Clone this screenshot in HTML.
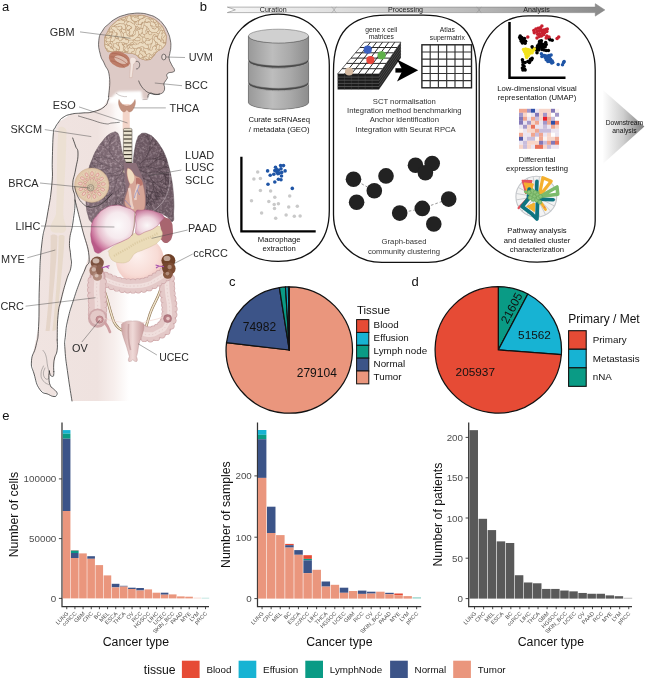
<!DOCTYPE html>
<html><head><meta charset="utf-8"><title>Figure 1</title>
<style>html,body{margin:0;padding:0;background:#fff}svg{display:block}text{font-family:"Liberation Sans", Arial, sans-serif}</style>
</head><body>
<svg width="645" height="685" viewBox="0 0 645 685">
<rect width="645" height="685" fill="#fff"/>
<defs>
<linearGradient id="gBanner" x1="0" x2="1" y1="0" y2="0"><stop offset="0" stop-color="#f6f6f6"/><stop offset="0.3" stop-color="#dedede"/><stop offset="0.62" stop-color="#bdbdbd"/><stop offset="1" stop-color="#8a8a8a"/></linearGradient>
<linearGradient id="gTri" x1="0" x2="1" y1="0" y2="0"><stop offset="0" stop-color="#ffffff"/><stop offset="0.5" stop-color="#cfcfcf"/><stop offset="1" stop-color="#7d7d7d"/></linearGradient>
<linearGradient id="gCyl" x1="0" x2="1" y1="0" y2="0"><stop offset="0" stop-color="#999999"/><stop offset="0.4" stop-color="#bdbdbd"/><stop offset="0.7" stop-color="#a9a9a9"/><stop offset="1" stop-color="#8d8d8d"/></linearGradient>
<linearGradient id="gTorso" gradientUnits="userSpaceOnUse" x1="30" x2="129" y1="0" y2="0"><stop offset="0" stop-color="#f0e4e1"/><stop offset="0.68" stop-color="#efe2df"/><stop offset="0.85" stop-color="#f7efed"/><stop offset="1" stop-color="#ffffff"/></linearGradient>
<linearGradient id="gNeck" x1="0" x2="0" y1="0" y2="1"><stop offset="0" stop-color="#dccac6"/><stop offset="0.5" stop-color="#ffffff"/><stop offset="1" stop-color="#f7ecea"/></linearGradient>
<radialGradient id="gLiver" cx="0.6" cy="0.42" r="0.64"><stop offset="0" stop-color="#fcfafb"/><stop offset="0.42" stop-color="#f6eaee"/><stop offset="0.7" stop-color="#e6bccc"/><stop offset="0.92" stop-color="#cb759d"/><stop offset="1" stop-color="#b95a88"/></radialGradient>
<radialGradient id="gLiver2" cx="0.42" cy="0.62" r="0.72"><stop offset="0" stop-color="#fbf7f8"/><stop offset="0.45" stop-color="#efd6df"/><stop offset="0.8" stop-color="#cf8aa8"/><stop offset="1" stop-color="#ad5a7e"/></radialGradient>
<radialGradient id="gBall" cx="0.45" cy="0.4" r="0.6"><stop offset="0" stop-color="#fdf1ee"/><stop offset="0.7" stop-color="#f8dcd6"/><stop offset="1" stop-color="#f0c4bd"/></radialGradient>
<radialGradient id="gBreast" cx="0.5" cy="0.5" r="0.5"><stop offset="0" stop-color="#d9c3a6"/><stop offset="0.8" stop-color="#e6d0b4"/><stop offset="1" stop-color="#dcc0a2"/></radialGradient>
<radialGradient id="gKid" cx="0.4" cy="0.3" r="0.7"><stop offset="0" stop-color="#d9bfb4"/><stop offset="0.35" stop-color="#8e5d49"/><stop offset="1" stop-color="#6f3f27"/></radialGradient>
<linearGradient id="gColon" x1="0" x2="1" y1="0" y2="0"><stop offset="0" stop-color="#d3b0b0"/><stop offset="0.5" stop-color="#efdedc"/><stop offset="1" stop-color="#d6b5b5"/></linearGradient>
<linearGradient id="gColonH" x1="0" x2="0" y1="0" y2="1"><stop offset="0" stop-color="#d8b8b8"/><stop offset="0.5" stop-color="#f1e2e0"/><stop offset="1" stop-color="#d3b0b0"/></linearGradient>
<linearGradient id="gUt" x1="0" x2="1" y1="0" y2="0"><stop offset="0" stop-color="#cfa6a6"/><stop offset="0.5" stop-color="#efd9d7"/><stop offset="1" stop-color="#c79a9b"/></linearGradient>
</defs>
<text x="2.0" y="11.2" font-size="13" fill="#111" text-anchor="start" >a</text>
<path d="M108.6 80L108.4 98.6L103 107L92.9 111.8L71 114.2L58.8 121.9L53.3 134L51.8 185L47 217L41.7 245L39.4 285L38.6 326.5L31.5 360.7L34.1 374L39.7 389.3L48.4 394.4L54 396.5L56.8 392.4L50.4 385.7L49 378L50.4 375.6L53.6 375.6L53.7 365L57.1 350.4L57.2 340L58 315.7L66.5 280L71 266.8L69.6 240.5L75 200L89 256L80.5 280L68 318.8L65 349.8L72 401L130 401L130 98L126 92Z" fill="url(#gTorso)"/>
<rect x="30" y="90" width="125" height="312" fill="url(#gTorso)" opacity="0"/>
<filter id="fBl2" x="-30%" y="-30%" width="160%" height="160%"><feGaussianBlur stdDeviation="2.2"/></filter>
<path d="M113 98L131 96L131 130L122 129L114 120Z" fill="#fff" opacity="0.6" filter="url(#fBl2)"/>
<path d="M58.6 128C56.4 150 57.6 190 56 214C54 220 50.6 224 50.2 228.6C50.6 232 54 233.4 58 232.6C61.6 233.6 65.4 233 66.2 229C66 224 63.4 220 63.2 214C64 190 66.6 150 66.4 130C64 126 60.6 126 58.6 128Z" fill="#ebdfd0" opacity="0.85"/>
<path d="M50.6 235.6C52 234 56 234 57.4 236C57.4 250 55 275 52.6 300C51.6 312 50.6 322 49.6 331L45.6 331C46.6 322 47.6 310 48.6 300C50 275 51 250 50.6 235.6Z" fill="#e3d3c6" opacity="0.9"/>
<path d="M58.6 236C60 234.4 63.6 234.6 64.6 236.4C64 250 61.6 275 59 300C58 312 57 322 56.2 330L52.4 331C53.4 322 54.4 312 55.4 300C57.6 275 58.6 250 58.6 236Z" fill="#e6d7c8" opacity="0.9"/>
<path d="M108.6 97.0C108.8 91.6 110.5 85.4 109.4 76.6C108.3 67.8 106.9 69.9 104.5 64.0C102.1 58.1 101.8 60.7 100.3 54.4C98.8 48.1 98.1 46.8 98.8 40.3C99.5 33.8 100.4 34.3 103.0 30.0C105.6 25.7 104.9 27.3 108.4 24.2C111.9 21.1 111.7 20.9 116.0 18.5C120.3 16.1 120.2 16.4 124.5 15.1C128.8 13.8 127.7 14.1 132.0 13.6C136.3 13.1 136.1 12.9 140.6 13.2C145.1 13.5 144.7 13.5 149.0 14.8C153.3 16.1 153.1 15.7 156.8 18.2C160.5 20.7 160.0 20.2 163.0 24.0C166.0 27.8 166.0 28.0 167.9 32.3C169.8 36.6 169.5 36.0 170.3 40.0C171.1 44.0 170.9 43.8 170.8 47.4C170.7 51.0 170.2 50.6 169.8 53.6C169.4 56.6 168.7 55.6 169.2 58.6C169.7 61.6 170.3 61.8 171.7 64.8C173.1 67.8 174.1 67.9 174.4 69.8C174.7 71.7 174.5 71.2 173.0 72.0C171.5 72.8 170.3 72.0 168.6 72.9C166.9 73.8 167.0 74.1 166.7 75.4C166.4 76.7 167.7 76.3 167.4 77.8C167.1 79.3 166.4 79.2 165.5 80.9C164.6 82.6 164.1 82.2 163.9 84.0C163.7 85.8 164.7 85.8 164.6 87.8C164.5 89.8 164.7 89.9 163.6 91.5C162.5 93.1 162.8 93.1 160.5 93.8C158.2 94.5 157.9 94.4 155.0 94.2C152.1 94.0 151.7 92.3 149.7 93.2C147.7 94.1 148.4 95.7 147.6 97.5C146.8 99.3 146.9 99.3 146.6 100.0Z" fill="#ddcac6"/>
<filter id="fBl" x="-20%" y="-20%" width="140%" height="140%"><feGaussianBlur stdDeviation="0.9"/></filter>
<path d="M108.2 103L109.6 100C112.6 96 115.6 92.4 119 91.4L141.4 91L142.8 99.8L148.5 99.6L148 104Z" fill="#fff" filter="url(#fBl)"/>
<path d="M108.6 97.0C108.8 91.6 110.5 85.4 109.4 76.6C108.3 67.8 106.9 69.9 104.5 64.0C102.1 58.1 101.8 60.7 100.3 54.4C98.8 48.1 98.1 46.8 98.8 40.3C99.5 33.8 100.4 34.3 103.0 30.0C105.6 25.7 104.9 27.3 108.4 24.2C111.9 21.1 111.7 20.9 116.0 18.5C120.3 16.1 120.2 16.4 124.5 15.1C128.8 13.8 127.7 14.1 132.0 13.6C136.3 13.1 136.1 12.9 140.6 13.2C145.1 13.5 144.7 13.5 149.0 14.8C153.3 16.1 153.1 15.7 156.8 18.2C160.5 20.7 160.0 20.2 163.0 24.0C166.0 27.8 166.0 28.0 167.9 32.3C169.8 36.6 169.5 36.0 170.3 40.0C171.1 44.0 170.9 43.8 170.8 47.4C170.7 51.0 170.2 50.6 169.8 53.6C169.4 56.6 168.7 55.6 169.2 58.6C169.7 61.6 170.3 61.8 171.7 64.8C173.1 67.8 174.1 67.9 174.4 69.8C174.7 71.7 174.5 71.2 173.0 72.0C171.5 72.8 170.3 72.0 168.6 72.9C166.9 73.8 167.0 74.1 166.7 75.4C166.4 76.7 167.7 76.3 167.4 77.8C167.1 79.3 166.4 79.2 165.5 80.9C164.6 82.6 164.1 82.2 163.9 84.0C163.7 85.8 164.7 85.8 164.6 87.8C164.5 89.8 164.7 89.9 163.6 91.5C162.5 93.1 162.8 93.1 160.5 93.8C158.2 94.5 157.9 94.4 155.0 94.2C152.1 94.0 151.7 92.3 149.7 93.2C147.7 94.1 148.2 96.4 147.6 97.5" fill="none" stroke="#1e1e1e" stroke-width="0.6"/>
<path d="M138.6 80.6C140.5 86.5 145 91.5 149.7 93.2C154 94.8 157 95 160 94" fill="none" stroke="#1e1e1e" stroke-width="0.6"/>
<path d="M116 93C119 96 124 97 127 96.6" fill="none" stroke="#8b7b78" stroke-width="0.4"/>
<path d="M149.7 93.4L147.4 99.4L142.5 99.6" fill="none" stroke="#8b7b78" stroke-width="0.4"/>
<clipPath id="cBrain"><path d="M106.8 50.0C105.0 46.9 104.6 46.7 104.8 41.3C104.9 36.0 104.5 37.7 107.4 32.3C110.3 26.8 109.3 27.7 114.4 23.2C119.6 18.7 117.9 19.7 124.5 17.3C131.2 15.0 129.4 15.3 136.6 15.3C143.9 15.3 142.1 15.0 148.7 17.3C155.4 19.7 154.0 18.7 158.8 23.2C163.6 27.7 162.7 27.1 164.8 32.3C167.0 37.4 166.5 35.8 166.0 40.3C165.6 44.9 165.9 44.1 163.2 47.4C160.6 50.7 160.2 48.7 157.2 51.4C154.2 54.1 155.7 54.0 153.1 56.5C150.6 58.9 152.5 59.1 148.7 59.7C145.0 60.3 144.8 60.0 140.6 58.5C136.5 56.9 139.2 56.1 135.0 54.4C130.8 52.7 131.5 53.7 126.5 52.8C121.6 52.0 123.2 52.0 118.5 51.6C113.8 51.3 114.3 52.1 110.8 51.6C107.3 51.1 108.6 53.1 106.8 50.0Z"/></clipPath>
<path d="M106.8 50.0C105.0 46.9 104.6 46.7 104.8 41.3C104.9 36.0 104.5 37.7 107.4 32.3C110.3 26.8 109.3 27.7 114.4 23.2C119.6 18.7 117.9 19.7 124.5 17.3C131.2 15.0 129.4 15.3 136.6 15.3C143.9 15.3 142.1 15.0 148.7 17.3C155.4 19.7 154.0 18.7 158.8 23.2C163.6 27.7 162.7 27.1 164.8 32.3C167.0 37.4 166.5 35.8 166.0 40.3C165.6 44.9 165.9 44.1 163.2 47.4C160.6 50.7 160.2 48.7 157.2 51.4C154.2 54.1 155.7 54.0 153.1 56.5C150.6 58.9 152.5 59.1 148.7 59.7C145.0 60.3 144.8 60.0 140.6 58.5C136.5 56.9 139.2 56.1 135.0 54.4C130.8 52.7 131.5 53.7 126.5 52.8C121.6 52.0 123.2 52.0 118.5 51.6C113.8 51.3 114.3 52.1 110.8 51.6C107.3 51.1 108.6 53.1 106.8 50.0Z" fill="#e6cfb0" stroke="#b48f6d" stroke-width="0.5"/>
<g clip-path="url(#cBrain)" fill="none" stroke-linecap="round" stroke-linejoin="round"><rect x="100" y="10" width="72" height="55" fill="#e9d6b8" stroke="none"/>
<path d="M113.7 46.8Q113.9 44.9 111.4 44.5Q113.6 43.1 111.8 40.1Q113.8 38.9 112.3 36.3Q112.7 34.7 110.6 34.1" stroke="#bb9a78" stroke-width="4"/><path d="M113.7 46.8Q113.9 44.9 111.4 44.5Q113.6 43.1 111.8 40.1Q113.8 38.9 112.3 36.3Q112.7 34.7 110.6 34.1" stroke="#ecdcc1" stroke-width="2.9"/>
<path d="M127.1 41.7Q125.9 43.2 127.9 44.8Q128.2 46.6 130.5 46.3Q128.0 46.9 128.6 50.1Q127.1 48.3 124.6 50.2" stroke="#bb9a78" stroke-width="4"/><path d="M127.1 41.7Q125.9 43.2 127.9 44.8Q128.2 46.6 130.5 46.3Q128.0 46.9 128.6 50.1Q127.1 48.3 124.6 50.2" stroke="#ecdcc1" stroke-width="2.9"/>
<path d="M105.2 29.1Q102.5 29.9 103.4 33.4Q101.9 34.6 103.4 36.6Q101.6 36.0 100.9 38.3Q100.9 36.1 98.0 36.0" stroke="#bb9a78" stroke-width="4"/><path d="M105.2 29.1Q102.5 29.9 103.4 33.4Q101.9 34.6 103.4 36.6Q101.6 36.0 100.9 38.3Q100.9 36.1 98.0 36.0" stroke="#ecdcc1" stroke-width="2.9"/>
<path d="M138.9 29.8Q137.2 30.0 137.4 32.3Q136.3 30.7 134.2 32.1Q134.6 30.2 132.2 29.6Q134.9 29.7 135.2 26.2" stroke="#bb9a78" stroke-width="4"/><path d="M138.9 29.8Q137.2 30.0 137.4 32.3Q136.3 30.7 134.2 32.1Q134.6 30.2 132.2 29.6Q134.9 29.7 135.2 26.2" stroke="#ecdcc1" stroke-width="2.9"/>
<path d="M152.1 50.4Q153.0 48.8 150.9 47.5Q152.1 45.1 149.0 43.5Q147.8 41.0 144.5 42.5Q145.9 40.8 143.8 38.9" stroke="#bb9a78" stroke-width="4"/><path d="M152.1 50.4Q153.0 48.8 150.9 47.5Q152.1 45.1 149.0 43.5Q147.8 41.0 144.5 42.5Q145.9 40.8 143.8 38.9" stroke="#ecdcc1" stroke-width="2.9"/>
<path d="M126.7 35.1Q126.9 33.0 124.2 32.6Q122.4 32.2 121.8 34.5Q120.0 32.2 117.0 34.5Q115.6 32.7 113.2 34.5" stroke="#bb9a78" stroke-width="4"/><path d="M126.7 35.1Q126.9 33.0 124.2 32.6Q122.4 32.2 121.8 34.5Q120.0 32.2 117.0 34.5Q115.6 32.7 113.2 34.5" stroke="#ecdcc1" stroke-width="2.9"/>
<path d="M138.8 49.7Q136.7 50.8 138.2 53.5Q136.3 53.8 136.6 56.3Q135.8 58.2 138.2 59.4Q136.1 59.1 135.7 61.8" stroke="#bb9a78" stroke-width="4"/><path d="M138.8 49.7Q136.7 50.8 138.2 53.5Q136.3 53.8 136.6 56.3Q135.8 58.2 138.2 59.4Q136.1 59.1 135.7 61.8" stroke="#ecdcc1" stroke-width="2.9"/>
<path d="M141.8 28.0Q144.4 28.7 145.3 25.3Q146.3 27.2 148.8 26.0Q148.7 28.4 151.9 28.7Q149.2 29.6 150.3 33.1" stroke="#bb9a78" stroke-width="4"/><path d="M141.8 28.0Q144.4 28.7 145.3 25.3Q146.3 27.2 148.8 26.0Q148.7 28.4 151.9 28.7Q149.2 29.6 150.3 33.1" stroke="#ecdcc1" stroke-width="2.9"/>
<path d="M129.5 61.5Q131.1 63.7 134.0 61.6Q135.3 63.3 137.6 61.6Q140.3 62.0 140.9 58.4Q142.0 57.1 140.3 55.6" stroke="#bb9a78" stroke-width="4"/><path d="M129.5 61.5Q131.1 63.7 134.0 61.6Q135.3 63.3 137.6 61.6Q140.3 62.0 140.9 58.4Q142.0 57.1 140.3 55.6" stroke="#ecdcc1" stroke-width="2.9"/>
<path d="M155.3 50.9Q155.7 49.2 153.5 48.6Q152.6 46.9 150.2 48.0Q149.0 46.6 147.1 48.2Q145.2 49.2 146.3 51.6" stroke="#bb9a78" stroke-width="4"/><path d="M155.3 50.9Q155.7 49.2 153.5 48.6Q152.6 46.9 150.2 48.0Q149.0 46.6 147.1 48.2Q145.2 49.2 146.3 51.6" stroke="#ecdcc1" stroke-width="2.9"/>
<path d="M161.4 61.2Q162.9 59.8 161.1 57.9Q163.0 59.2 164.8 56.8Q165.3 58.5 167.5 57.9Q169.9 59.1 171.5 55.9" stroke="#bb9a78" stroke-width="4"/><path d="M161.4 61.2Q162.9 59.8 161.1 57.9Q163.0 59.2 164.8 56.8Q165.3 58.5 167.5 57.9Q169.9 59.1 171.5 55.9" stroke="#ecdcc1" stroke-width="2.9"/>
<path d="M154.7 56.2Q154.1 53.9 151.1 54.6Q152.5 53.2 150.7 51.2Q152.3 49.9 150.7 47.9Q152.3 48.1 152.7 45.9" stroke="#bb9a78" stroke-width="4"/><path d="M154.7 56.2Q154.1 53.9 151.1 54.6Q152.5 53.2 150.7 51.2Q152.3 49.9 150.7 47.9Q152.3 48.1 152.7 45.9" stroke="#ecdcc1" stroke-width="2.9"/>
<path d="M147.5 59.7Q148.1 62.1 151.3 61.4Q149.5 63.1 151.6 65.4Q151.4 67.6 154.2 67.9Q151.5 68.2 151.8 71.8" stroke="#bb9a78" stroke-width="4"/><path d="M147.5 59.7Q148.1 62.1 151.3 61.4Q149.5 63.1 151.6 65.4Q151.4 67.6 154.2 67.9Q151.5 68.2 151.8 71.8" stroke="#ecdcc1" stroke-width="2.9"/>
<path d="M111.7 17.6Q113.9 17.8 114.2 14.9Q115.6 12.6 112.6 10.6Q114.2 9.7 113.0 7.6Q114.9 6.7 113.9 4.3" stroke="#bb9a78" stroke-width="4"/><path d="M111.7 17.6Q113.9 17.8 114.2 14.9Q115.6 12.6 112.6 10.6Q114.2 9.7 113.0 7.6Q114.9 6.7 113.9 4.3" stroke="#ecdcc1" stroke-width="2.9"/>
<path d="M135.1 23.8Q136.3 25.5 138.6 24.1Q138.5 26.4 141.6 26.7Q144.0 27.3 145.0 24.2Q145.4 26.7 148.8 26.2" stroke="#bb9a78" stroke-width="4"/><path d="M135.1 23.8Q136.3 25.5 138.6 24.1Q138.5 26.4 141.6 26.7Q144.0 27.3 145.0 24.2Q145.4 26.7 148.8 26.2" stroke="#ecdcc1" stroke-width="2.9"/>
<path d="M154.4 13.4Q152.3 14.9 154.3 17.7Q154.4 20.2 157.7 20.2Q159.4 22.0 161.8 19.7Q163.5 20.1 164.1 17.9" stroke="#bb9a78" stroke-width="4"/><path d="M154.4 13.4Q152.3 14.9 154.3 17.7Q154.4 20.2 157.7 20.2Q159.4 22.0 161.8 19.7Q163.5 20.1 164.1 17.9" stroke="#ecdcc1" stroke-width="2.9"/>
<path d="M128.3 28.2Q130.4 27.4 129.5 24.6Q132.3 24.0 131.7 20.4Q132.1 18.0 129.0 17.4Q129.5 14.9 126.2 14.1" stroke="#bb9a78" stroke-width="4"/><path d="M128.3 28.2Q130.4 27.4 129.5 24.6Q132.3 24.0 131.7 20.4Q132.1 18.0 129.0 17.4Q129.5 14.9 126.2 14.1" stroke="#ecdcc1" stroke-width="2.9"/>
<path d="M165.9 28.2Q167.3 26.3 164.9 24.4Q163.3 22.3 160.5 24.3Q162.0 22.8 160.1 20.8Q160.7 18.0 157.1 17.1" stroke="#bb9a78" stroke-width="4"/><path d="M165.9 28.2Q167.3 26.3 164.9 24.4Q163.3 22.3 160.5 24.3Q162.0 22.8 160.1 20.8Q160.7 18.0 157.1 17.1" stroke="#ecdcc1" stroke-width="2.9"/>
<path d="M110.0 16.7Q108.3 18.7 110.7 21.0Q109.4 23.0 112.0 24.8Q113.9 26.4 116.0 24.0Q118.0 25.2 119.6 22.7" stroke="#bb9a78" stroke-width="4"/><path d="M110.0 16.7Q108.3 18.7 110.7 21.0Q109.4 23.0 112.0 24.8Q113.9 26.4 116.0 24.0Q118.0 25.2 119.6 22.7" stroke="#ecdcc1" stroke-width="2.9"/>
<path d="M128.3 32.7Q129.6 34.5 132.0 32.9Q134.4 33.4 135.2 30.2Q136.2 32.5 139.3 31.3Q140.3 33.0 142.6 31.7" stroke="#bb9a78" stroke-width="4"/><path d="M128.3 32.7Q129.6 34.5 132.0 32.9Q134.4 33.4 135.2 30.2Q136.2 32.5 139.3 31.3Q140.3 33.0 142.6 31.7" stroke="#ecdcc1" stroke-width="2.9"/>
<path d="M128.1 36.9Q129.8 36.8 129.8 34.5Q132.1 34.3 131.9 31.3Q134.2 32.8 136.2 29.8Q136.7 32.2 139.8 31.8" stroke="#bb9a78" stroke-width="4"/><path d="M128.1 36.9Q129.8 36.8 129.8 34.5Q132.1 34.3 131.9 31.3Q134.2 32.8 136.2 29.8Q136.7 32.2 139.8 31.8" stroke="#ecdcc1" stroke-width="2.9"/>
<path d="M152.3 45.7Q154.4 47.2 156.3 44.5Q159.0 44.1 158.6 40.5Q160.7 39.3 159.3 36.5Q161.8 37.8 163.6 34.6" stroke="#bb9a78" stroke-width="4"/><path d="M152.3 45.7Q154.4 47.2 156.3 44.5Q159.0 44.1 158.6 40.5Q160.7 39.3 159.3 36.5Q161.8 37.8 163.6 34.6" stroke="#ecdcc1" stroke-width="2.9"/>
<path d="M167.3 13.3Q165.9 14.9 167.9 16.8Q168.7 19.1 171.6 18.1Q173.6 18.1 173.6 15.4Q174.3 17.9 177.6 17.1" stroke="#bb9a78" stroke-width="4"/><path d="M167.3 13.3Q165.9 14.9 167.9 16.8Q168.7 19.1 171.6 18.1Q173.6 18.1 173.6 15.4Q174.3 17.9 177.6 17.1" stroke="#ecdcc1" stroke-width="2.9"/>
<path d="M133.1 18.3Q133.7 20.1 136.1 19.4Q137.9 21.0 140.1 18.7Q140.7 20.6 143.2 19.9Q141.4 20.9 142.6 23.3" stroke="#bb9a78" stroke-width="4"/><path d="M133.1 18.3Q133.7 20.1 136.1 19.4Q137.9 21.0 140.1 18.7Q140.7 20.6 143.2 19.9Q141.4 20.9 142.6 23.3" stroke="#ecdcc1" stroke-width="2.9"/>
<path d="M119.5 54.4Q118.1 55.7 119.7 57.6Q117.9 58.5 119.0 60.9Q117.0 62.9 119.6 65.5Q118.2 67.3 120.4 69.1" stroke="#bb9a78" stroke-width="4"/><path d="M119.5 54.4Q118.1 55.7 119.7 57.6Q117.9 58.5 119.0 60.9Q117.0 62.9 119.6 65.5Q118.2 67.3 120.4 69.1" stroke="#ecdcc1" stroke-width="2.9"/>
<path d="M143.1 26.8Q143.0 28.8 145.6 29.0Q147.7 30.9 150.2 28.2Q152.3 26.5 150.1 23.7Q152.2 25.2 154.2 22.6" stroke="#bb9a78" stroke-width="4"/><path d="M143.1 26.8Q143.0 28.8 145.6 29.0Q147.7 30.9 150.2 28.2Q152.3 26.5 150.1 23.7Q152.2 25.2 154.2 22.6" stroke="#ecdcc1" stroke-width="2.9"/>
<path d="M104.2 37.6Q104.5 40.1 107.8 39.8Q109.1 40.9 110.5 39.2Q111.7 40.6 113.5 39.0Q115.7 39.6 116.5 36.8" stroke="#bb9a78" stroke-width="4"/><path d="M104.2 37.6Q104.5 40.1 107.8 39.8Q109.1 40.9 110.5 39.2Q111.7 40.6 113.5 39.0Q115.7 39.6 116.5 36.8" stroke="#ecdcc1" stroke-width="2.9"/>
<path d="M161.1 31.1Q158.8 32.5 160.5 35.5Q158.9 36.3 159.8 38.3Q159.3 40.5 162.1 41.1Q161.4 42.9 163.8 43.9" stroke="#bb9a78" stroke-width="4"/><path d="M161.1 31.1Q158.8 32.5 160.5 35.5Q158.9 36.3 159.8 38.3Q159.3 40.5 162.1 41.1Q161.4 42.9 163.8 43.9" stroke="#ecdcc1" stroke-width="2.9"/>
<path d="M155.2 54.3Q155.1 56.0 157.4 56.1Q156.9 57.8 159.1 58.5Q156.6 58.8 156.9 62.1Q155.4 61.0 153.8 62.9" stroke="#bb9a78" stroke-width="4"/><path d="M155.2 54.3Q155.1 56.0 157.4 56.1Q156.9 57.8 159.1 58.5Q156.6 58.8 156.9 62.1Q155.4 61.0 153.8 62.9" stroke="#ecdcc1" stroke-width="2.9"/>
<path d="M106.9 52.9Q107.7 50.8 104.9 49.7Q106.9 49.1 106.2 46.5Q107.3 44.7 105.0 43.2Q104.9 40.7 101.7 40.8" stroke="#bb9a78" stroke-width="4"/><path d="M106.9 52.9Q107.7 50.8 104.9 49.7Q106.9 49.1 106.2 46.5Q107.3 44.7 105.0 43.2Q104.9 40.7 101.7 40.8" stroke="#ecdcc1" stroke-width="2.9"/>
<path d="M160.9 16.5Q161.4 18.9 164.6 18.3Q166.4 19.2 167.6 16.8Q168.6 15.5 166.9 14.0Q168.5 12.0 165.9 10.0" stroke="#bb9a78" stroke-width="4"/><path d="M160.9 16.5Q161.4 18.9 164.6 18.3Q166.4 19.2 167.6 16.8Q168.6 15.5 166.9 14.0Q168.5 12.0 165.9 10.0" stroke="#ecdcc1" stroke-width="2.9"/>
<path d="M145.5 20.8Q143.2 21.4 144.0 24.4Q141.9 25.7 143.6 28.5Q141.3 28.3 140.9 31.2Q139.8 33.7 143.0 35.2" stroke="#bb9a78" stroke-width="4"/><path d="M145.5 20.8Q143.2 21.4 144.0 24.4Q141.9 25.7 143.6 28.5Q141.3 28.3 140.9 31.2Q139.8 33.7 143.0 35.2" stroke="#ecdcc1" stroke-width="2.9"/>
<path d="M116.9 15.0Q114.5 14.8 114.2 18.0Q112.6 20.0 115.2 22.1Q114.0 23.6 116.0 25.1Q113.3 24.8 112.8 28.2" stroke="#bb9a78" stroke-width="4"/><path d="M116.9 15.0Q114.5 14.8 114.2 18.0Q112.6 20.0 115.2 22.1Q114.0 23.6 116.0 25.1Q113.3 24.8 112.8 28.2" stroke="#ecdcc1" stroke-width="2.9"/>
<path d="M161.9 46.3Q159.2 46.4 159.2 50.0Q156.4 49.9 156.1 53.5Q155.9 51.3 153.1 51.6Q155.8 50.6 154.6 47.1" stroke="#bb9a78" stroke-width="4"/><path d="M161.9 46.3Q159.2 46.4 159.2 50.0Q156.4 49.9 156.1 53.5Q155.9 51.3 153.1 51.6Q155.8 50.6 154.6 47.1" stroke="#ecdcc1" stroke-width="2.9"/>
<path d="M154.6 13.6Q152.3 12.8 151.3 15.8Q150.1 13.6 147.2 15.1Q144.4 14.9 144.1 18.5Q141.4 18.1 140.7 21.6" stroke="#bb9a78" stroke-width="4"/><path d="M154.6 13.6Q152.3 12.8 151.3 15.8Q150.1 13.6 147.2 15.1Q144.4 14.9 144.1 18.5Q141.4 18.1 140.7 21.6" stroke="#ecdcc1" stroke-width="2.9"/>
<path d="M116.4 61.9Q117.7 59.6 114.8 58.0Q116.9 58.1 117.2 55.4Q118.0 53.4 115.4 52.2Q114.2 50.3 111.6 51.8" stroke="#bb9a78" stroke-width="4"/><path d="M116.4 61.9Q117.7 59.6 114.8 58.0Q116.9 58.1 117.2 55.4Q118.0 53.4 115.4 52.2Q114.2 50.3 111.6 51.8" stroke="#ecdcc1" stroke-width="2.9"/>
<path d="M156.0 30.7Q158.1 31.4 159.0 28.7Q160.5 29.6 161.7 27.7Q162.6 29.4 164.9 28.2Q167.6 27.8 167.2 24.2" stroke="#bb9a78" stroke-width="4"/><path d="M156.0 30.7Q158.1 31.4 159.0 28.7Q160.5 29.6 161.7 27.7Q162.6 29.4 164.9 28.2Q167.6 27.8 167.2 24.2" stroke="#ecdcc1" stroke-width="2.9"/>
<path d="M137.0 56.9Q135.0 57.1 135.4 59.7Q133.1 60.6 134.2 63.6Q131.8 62.5 130.3 65.5Q129.1 64.0 127.0 65.5" stroke="#bb9a78" stroke-width="4"/><path d="M137.0 56.9Q135.0 57.1 135.4 59.7Q133.1 60.6 134.2 63.6Q131.8 62.5 130.3 65.5Q129.1 64.0 127.0 65.5" stroke="#ecdcc1" stroke-width="2.9"/>
<path d="M131.0 31.5Q128.7 31.2 128.2 34.2Q126.5 34.2 126.4 36.5Q125.0 34.5 122.4 36.2Q123.2 33.7 120.0 32.6" stroke="#bb9a78" stroke-width="4"/><path d="M131.0 31.5Q128.7 31.2 128.2 34.2Q126.5 34.2 126.4 36.5Q125.0 34.5 122.4 36.2Q123.2 33.7 120.0 32.6" stroke="#ecdcc1" stroke-width="2.9"/>
<path d="M150.5 61.7Q148.9 62.0 149.2 64.2Q146.9 63.5 145.9 66.4Q143.5 65.0 141.5 68.2Q139.7 68.9 140.5 71.3" stroke="#bb9a78" stroke-width="4"/><path d="M150.5 61.7Q148.9 62.0 149.2 64.2Q146.9 63.5 145.9 66.4Q143.5 65.0 141.5 68.2Q139.7 68.9 140.5 71.3" stroke="#ecdcc1" stroke-width="2.9"/>
<path d="M150.7 52.8Q148.9 53.9 150.3 56.3Q148.2 55.4 146.9 58.0Q144.8 57.4 143.9 60.0Q142.1 58.4 140.0 60.8" stroke="#bb9a78" stroke-width="4"/><path d="M150.7 52.8Q148.9 53.9 150.3 56.3Q148.2 55.4 146.9 58.0Q144.8 57.4 143.9 60.0Q142.1 58.4 140.0 60.8" stroke="#ecdcc1" stroke-width="2.9"/>
<path d="M148.0 55.4Q149.0 53.7 146.9 52.3Q149.4 51.8 148.9 48.4Q149.8 50.1 152.0 49.0Q150.5 51.4 153.5 53.3" stroke="#bb9a78" stroke-width="4"/><path d="M148.0 55.4Q149.0 53.7 146.9 52.3Q149.4 51.8 148.9 48.4Q149.8 50.1 152.0 49.0Q150.5 51.4 153.5 53.3" stroke="#ecdcc1" stroke-width="2.9"/>
<path d="M108.0 28.1Q105.9 26.4 103.7 29.1Q101.2 29.2 101.2 32.4Q99.6 33.6 101.1 35.7Q101.0 37.9 103.9 38.2" stroke="#bb9a78" stroke-width="4"/><path d="M108.0 28.1Q105.9 26.4 103.7 29.1Q101.2 29.2 101.2 32.4Q99.6 33.6 101.1 35.7Q101.0 37.9 103.9 38.2" stroke="#ecdcc1" stroke-width="2.9"/>
<path d="M149.3 23.7Q149.4 21.2 146.1 21.1Q145.4 19.3 143.1 20.2Q141.3 20.1 141.0 22.3Q139.4 20.9 137.5 23.1" stroke="#bb9a78" stroke-width="4"/><path d="M149.3 23.7Q149.4 21.2 146.1 21.1Q145.4 19.3 143.1 20.2Q141.3 20.1 141.0 22.3Q139.4 20.9 137.5 23.1" stroke="#ecdcc1" stroke-width="2.9"/>
<path d="M111.0 56.1Q108.7 55.1 107.2 58.1Q105.5 56.6 103.6 58.7Q101.5 56.9 98.9 59.6Q96.6 58.8 95.5 61.7" stroke="#bb9a78" stroke-width="4"/><path d="M111.0 56.1Q108.7 55.1 107.2 58.1Q105.5 56.6 103.6 58.7Q101.5 56.9 98.9 59.6Q96.6 58.8 95.5 61.7" stroke="#ecdcc1" stroke-width="2.9"/>
<path d="M144.3 30.9Q142.5 29.3 140.3 31.7Q138.4 30.5 136.7 33.0Q134.2 33.7 135.0 37.0Q135.3 39.4 138.5 39.1" stroke="#bb9a78" stroke-width="4"/><path d="M144.3 30.9Q142.5 29.3 140.3 31.7Q138.4 30.5 136.7 33.0Q134.2 33.7 135.0 37.0Q135.3 39.4 138.5 39.1" stroke="#ecdcc1" stroke-width="2.9"/>
<path d="M132.6 23.8Q132.8 22.1 130.5 21.7Q130.7 19.9 128.2 19.6Q130.0 18.4 128.5 16.1Q129.4 14.4 127.2 13.2" stroke="#bb9a78" stroke-width="4"/><path d="M132.6 23.8Q132.8 22.1 130.5 21.7Q130.7 19.9 128.2 19.6Q130.0 18.4 128.5 16.1Q129.4 14.4 127.2 13.2" stroke="#ecdcc1" stroke-width="2.9"/>
<path d="M106.1 22.1Q104.5 24.3 107.2 26.5Q107.6 28.3 109.9 27.9Q110.0 29.7 112.4 29.6Q113.3 32.0 116.5 30.9" stroke="#bb9a78" stroke-width="4"/><path d="M106.1 22.1Q104.5 24.3 107.2 26.5Q107.6 28.3 109.9 27.9Q110.0 29.7 112.4 29.6Q113.3 32.0 116.5 30.9" stroke="#ecdcc1" stroke-width="2.9"/>
<path d="M116.2 47.3Q114.2 47.5 114.4 50.1Q112.7 49.7 112.2 52.0Q110.3 53.5 112.3 55.9Q110.0 55.4 109.2 58.2" stroke="#bb9a78" stroke-width="4"/><path d="M116.2 47.3Q114.2 47.5 114.4 50.1Q112.7 49.7 112.2 52.0Q110.3 53.5 112.3 55.9Q110.0 55.4 109.2 58.2" stroke="#ecdcc1" stroke-width="2.9"/>
<path d="M146.1 13.4Q144.4 15.6 147.1 18.0Q146.5 20.5 149.7 21.5Q151.8 22.4 153.1 19.7Q153.0 22.3 156.4 22.6" stroke="#bb9a78" stroke-width="4"/><path d="M146.1 13.4Q144.4 15.6 147.1 18.0Q146.5 20.5 149.7 21.5Q151.8 22.4 153.1 19.7Q153.0 22.3 156.4 22.6" stroke="#ecdcc1" stroke-width="2.9"/>
<path d="M140.7 21.9Q142.6 19.8 139.9 17.3Q142.5 17.3 142.6 13.9Q144.5 14.1 144.7 11.7Q147.0 10.8 145.9 7.7" stroke="#bb9a78" stroke-width="4"/><path d="M140.7 21.9Q142.6 19.8 139.9 17.3Q142.5 17.3 142.6 13.9Q144.5 14.1 144.7 11.7Q147.0 10.8 145.9 7.7" stroke="#ecdcc1" stroke-width="2.9"/>
<path d="M145.6 32.1Q145.4 30.1 142.8 30.3Q140.7 29.9 140.1 32.5Q138.9 30.2 135.9 31.6Q133.8 31.5 133.6 34.2" stroke="#bb9a78" stroke-width="4"/><path d="M145.6 32.1Q145.4 30.1 142.8 30.3Q140.7 29.9 140.1 32.5Q138.9 30.2 135.9 31.6Q133.8 31.5 133.6 34.2" stroke="#ecdcc1" stroke-width="2.9"/>
<path d="M110.3 45.4Q108.2 46.0 108.9 48.7Q107.4 47.1 105.3 49.0Q104.8 46.6 101.7 47.0Q101.1 44.7 98.1 45.4" stroke="#bb9a78" stroke-width="4"/><path d="M110.3 45.4Q108.2 46.0 108.9 48.7Q107.4 47.1 105.3 49.0Q104.8 46.6 101.7 47.0Q101.1 44.7 98.1 45.4" stroke="#ecdcc1" stroke-width="2.9"/>
<path d="M126.6 22.7Q124.7 22.2 123.8 24.7Q121.7 26.4 123.8 29.4Q122.6 30.9 124.5 32.5Q125.8 33.9 127.7 32.3" stroke="#bb9a78" stroke-width="4"/><path d="M126.6 22.7Q124.7 22.2 123.8 24.7Q121.7 26.4 123.8 29.4Q122.6 30.9 124.5 32.5Q125.8 33.9 127.7 32.3" stroke="#ecdcc1" stroke-width="2.9"/>
<path d="M159.5 29.5Q158.4 27.3 155.5 28.5Q154.1 26.4 151.2 28.2Q150.2 26.3 147.7 27.5Q145.5 26.6 144.2 29.4" stroke="#bb9a78" stroke-width="4"/><path d="M159.5 29.5Q158.4 27.3 155.5 28.5Q154.1 26.4 151.2 28.2Q150.2 26.3 147.7 27.5Q145.5 26.6 144.2 29.4" stroke="#ecdcc1" stroke-width="2.9"/>
<path d="M157.1 46.9Q154.4 46.2 153.4 49.6Q152.9 47.8 150.5 48.4Q151.2 45.9 148.0 44.9Q150.0 42.9 147.5 40.2" stroke="#bb9a78" stroke-width="4"/><path d="M157.1 46.9Q154.4 46.2 153.4 49.6Q152.9 47.8 150.5 48.4Q151.2 45.9 148.0 44.9Q150.0 42.9 147.5 40.2" stroke="#ecdcc1" stroke-width="2.9"/>
<path d="M160.1 25.1Q162.1 25.8 163.2 23.2Q162.8 25.1 165.2 25.7Q165.4 28.1 168.6 27.9Q170.0 29.3 171.9 27.5" stroke="#bb9a78" stroke-width="4"/><path d="M160.1 25.1Q162.1 25.8 163.2 23.2Q162.8 25.1 165.2 25.7Q165.4 28.1 168.6 27.9Q170.0 29.3 171.9 27.5" stroke="#ecdcc1" stroke-width="2.9"/>
<path d="M154.6 43.0Q157.3 43.4 158.0 39.9Q158.6 42.5 162.0 41.8Q159.9 42.7 160.9 45.5Q158.6 44.9 157.8 47.8" stroke="#bb9a78" stroke-width="4"/><path d="M154.6 43.0Q157.3 43.4 158.0 39.9Q158.6 42.5 162.0 41.8Q159.9 42.7 160.9 45.5Q158.6 44.9 157.8 47.8" stroke="#ecdcc1" stroke-width="2.9"/>
<path d="M166.0 45.1Q164.8 43.4 162.6 44.9Q160.5 45.2 160.9 48.0Q160.3 49.6 162.4 50.4Q164.1 51.8 166.0 49.5" stroke="#bb9a78" stroke-width="4"/><path d="M166.0 45.1Q164.8 43.4 162.6 44.9Q160.5 45.2 160.9 48.0Q160.3 49.6 162.4 50.4Q164.1 51.8 166.0 49.5" stroke="#ecdcc1" stroke-width="2.9"/>
<path d="M152.6 15.4Q150.7 14.1 149.0 16.5Q146.8 16.6 146.7 19.5Q145.0 18.2 143.3 20.5Q140.8 19.8 139.8 22.9" stroke="#bb9a78" stroke-width="4"/><path d="M152.6 15.4Q150.7 14.1 149.0 16.5Q146.8 16.6 146.7 19.5Q145.0 18.2 143.3 20.5Q140.8 19.8 139.8 22.9" stroke="#ecdcc1" stroke-width="2.9"/>
<path d="M110.5 30.1Q113.4 30.2 113.6 26.5Q115.5 24.9 113.5 22.4Q114.2 20.0 111.1 18.9Q112.9 18.5 112.5 16.2" stroke="#bb9a78" stroke-width="4"/><path d="M110.5 30.1Q113.4 30.2 113.6 26.5Q115.5 24.9 113.5 22.4Q114.2 20.0 111.1 18.9Q112.9 18.5 112.5 16.2" stroke="#ecdcc1" stroke-width="2.9"/>
<path d="M125.4 58.9Q122.9 57.9 121.6 61.1Q119.1 61.9 120.0 65.2Q120.4 67.2 123.1 66.7Q125.1 67.5 126.1 64.9" stroke="#bb9a78" stroke-width="4"/><path d="M125.4 58.9Q122.9 57.9 121.6 61.1Q119.1 61.9 120.0 65.2Q120.4 67.2 123.1 66.7Q125.1 67.5 126.1 64.9" stroke="#ecdcc1" stroke-width="2.9"/>
<path d="M116.9 14.2Q117.4 11.9 114.5 11.1Q115.6 8.6 112.4 7.1Q114.8 6.8 114.5 3.7Q115.7 1.4 112.7 -0.2" stroke="#bb9a78" stroke-width="4"/><path d="M116.9 14.2Q117.4 11.9 114.5 11.1Q115.6 8.6 112.4 7.1Q114.8 6.8 114.5 3.7Q115.7 1.4 112.7 -0.2" stroke="#ecdcc1" stroke-width="2.9"/>
<path d="M109.3 58.5Q108.4 60.2 110.5 61.5Q110.0 64.1 113.3 64.9Q110.8 65.6 111.7 68.9Q109.9 68.1 108.8 70.5" stroke="#bb9a78" stroke-width="4"/><path d="M109.3 58.5Q108.4 60.2 110.5 61.5Q110.0 64.1 113.3 64.9Q110.8 65.6 111.7 68.9Q109.9 68.1 108.8 70.5" stroke="#ecdcc1" stroke-width="2.9"/>
<path d="M123.9 27.9Q124.0 25.0 120.2 24.8Q117.6 23.8 116.2 27.3Q116.3 25.0 113.4 24.8Q114.9 22.7 112.1 20.6" stroke="#bb9a78" stroke-width="4"/><path d="M123.9 27.9Q124.0 25.0 120.2 24.8Q117.6 23.8 116.2 27.3Q116.3 25.0 113.4 24.8Q114.9 22.7 112.1 20.6" stroke="#ecdcc1" stroke-width="2.9"/>
<path d="M115.1 43.2Q114.2 45.8 117.6 47.1Q119.5 48.7 121.7 46.2Q123.9 47.8 126.1 45.0Q128.3 44.2 127.3 41.3" stroke="#bb9a78" stroke-width="4"/><path d="M115.1 43.2Q114.2 45.8 117.6 47.1Q119.5 48.7 121.7 46.2Q123.9 47.8 126.1 45.0Q128.3 44.2 127.3 41.3" stroke="#ecdcc1" stroke-width="2.9"/>
<path d="M110.8 52.4Q109.5 50.8 107.4 52.5Q105.0 52.9 105.5 56.1Q103.8 55.7 103.3 57.9Q103.2 55.1 99.5 55.0" stroke="#bb9a78" stroke-width="4"/><path d="M110.8 52.4Q109.5 50.8 107.4 52.5Q105.0 52.9 105.5 56.1Q103.8 55.7 103.3 57.9Q103.2 55.1 99.5 55.0" stroke="#ecdcc1" stroke-width="2.9"/>
<path d="M131.6 41.1Q129.6 40.4 128.6 43.0Q126.0 42.5 125.3 45.8Q123.8 47.2 125.6 49.2Q123.7 49.1 123.5 51.7" stroke="#bb9a78" stroke-width="4"/><path d="M131.6 41.1Q129.6 40.4 128.6 43.0Q126.0 42.5 125.3 45.8Q123.8 47.2 125.6 49.2Q123.7 49.1 123.5 51.7" stroke="#ecdcc1" stroke-width="2.9"/>
<path d="M107.5 57.7Q107.3 59.7 110.0 60.0Q111.3 61.6 113.5 60.0Q114.5 61.6 116.5 60.4Q117.3 62.0 119.3 61.1" stroke="#bb9a78" stroke-width="4"/><path d="M107.5 57.7Q107.3 59.7 110.0 60.0Q111.3 61.6 113.5 60.0Q114.5 61.6 116.5 60.4Q117.3 62.0 119.3 61.1" stroke="#ecdcc1" stroke-width="2.9"/>
<path d="M108.1 22.9Q107.4 24.8 109.9 25.8Q107.4 26.3 108.0 29.5Q105.5 30.2 106.3 33.5Q104.3 32.9 103.5 35.5" stroke="#bb9a78" stroke-width="4"/><path d="M108.1 22.9Q107.4 24.8 109.9 25.8Q107.4 26.3 108.0 29.5Q105.5 30.2 106.3 33.5Q104.3 32.9 103.5 35.5" stroke="#ecdcc1" stroke-width="2.9"/>
<path d="M143.0 49.5Q143.8 47.2 140.7 46.2Q142.7 46.2 142.8 43.6Q145.3 45.0 147.3 41.9Q149.5 43.5 151.7 40.6" stroke="#bb9a78" stroke-width="4"/><path d="M143.0 49.5Q143.8 47.2 140.7 46.2Q142.7 46.2 142.8 43.6Q145.3 45.0 147.3 41.9Q149.5 43.5 151.7 40.6" stroke="#ecdcc1" stroke-width="2.9"/>
<path d="M109.2 48.5Q107.0 48.1 106.4 50.9Q104.5 50.3 103.7 52.8Q101.3 54.0 102.7 57.2Q100.3 57.2 100.3 60.4" stroke="#bb9a78" stroke-width="4"/><path d="M109.2 48.5Q107.0 48.1 106.4 50.9Q104.5 50.3 103.7 52.8Q101.3 54.0 102.7 57.2Q100.3 57.2 100.3 60.4" stroke="#ecdcc1" stroke-width="2.9"/>
<path d="M110.5 27.4Q112.8 26.9 112.3 23.9Q114.4 24.8 115.6 22.1Q118.1 23.6 120.1 20.5Q120.4 22.4 123.0 22.1" stroke="#bb9a78" stroke-width="4"/><path d="M110.5 27.4Q112.8 26.9 112.3 23.9Q114.4 24.8 115.6 22.1Q118.1 23.6 120.1 20.5Q120.4 22.4 123.0 22.1" stroke="#ecdcc1" stroke-width="2.9"/>
<path d="M131.0 33.6Q132.6 32.5 131.3 30.3Q133.5 30.3 133.6 27.4Q133.9 25.4 131.3 25.0Q130.8 23.1 128.4 23.7" stroke="#bb9a78" stroke-width="4"/><path d="M131.0 33.6Q132.6 32.5 131.3 30.3Q133.5 30.3 133.6 27.4Q133.9 25.4 131.3 25.0Q130.8 23.1 128.4 23.7" stroke="#ecdcc1" stroke-width="2.9"/>
<path d="M146.6 61.6Q148.4 63.7 151.1 61.4Q152.7 63.2 155.1 61.2Q154.3 62.7 156.4 63.8Q156.3 65.9 159.1 66.1" stroke="#bb9a78" stroke-width="4"/><path d="M146.6 61.6Q148.4 63.7 151.1 61.4Q152.7 63.2 155.1 61.2Q154.3 62.7 156.4 63.8Q156.3 65.9 159.1 66.1" stroke="#ecdcc1" stroke-width="2.9"/>
<path d="M125.2 34.0Q124.5 36.7 128.1 37.6Q129.1 39.2 131.3 38.0Q133.6 39.2 135.3 36.3Q137.8 35.4 136.8 32.2" stroke="#bb9a78" stroke-width="4"/><path d="M125.2 34.0Q124.5 36.7 128.1 37.6Q129.1 39.2 131.3 38.0Q133.6 39.2 135.3 36.3Q137.8 35.4 136.8 32.2" stroke="#ecdcc1" stroke-width="2.9"/>
<path d="M114.2 42.2Q115.9 41.6 115.2 39.4Q116.6 41.7 119.7 40.0Q121.2 42.2 124.2 40.3Q124.7 42.1 127.1 41.5" stroke="#bb9a78" stroke-width="4"/><path d="M114.2 42.2Q115.9 41.6 115.2 39.4Q116.6 41.7 119.7 40.0Q121.2 42.2 124.2 40.3Q124.7 42.1 127.1 41.5" stroke="#ecdcc1" stroke-width="2.9"/>
<path d="M128.8 53.2Q127.4 54.4 128.9 56.3Q129.1 58.7 132.2 58.6Q131.4 60.7 134.1 61.7Q133.9 64.6 137.6 64.9" stroke="#bb9a78" stroke-width="4"/><path d="M128.8 53.2Q127.4 54.4 128.9 56.3Q129.1 58.7 132.2 58.6Q131.4 60.7 134.1 61.7Q133.9 64.6 137.6 64.9" stroke="#ecdcc1" stroke-width="2.9"/>
<path d="M125.3 45.9Q124.1 47.4 126.0 49.0Q127.1 50.8 129.5 49.6Q131.6 49.4 131.4 46.6Q133.6 47.4 134.8 44.6" stroke="#bb9a78" stroke-width="4"/><path d="M125.3 45.9Q124.1 47.4 126.0 49.0Q127.1 50.8 129.5 49.6Q131.6 49.4 131.4 46.6Q133.6 47.4 134.8 44.6" stroke="#ecdcc1" stroke-width="2.9"/>
<path d="M154.7 36.4Q153.6 38.2 156.0 39.8Q153.2 40.5 154.2 44.1Q152.2 44.5 152.7 47.1Q150.8 48.4 152.5 50.9" stroke="#bb9a78" stroke-width="4"/><path d="M154.7 36.4Q153.6 38.2 156.0 39.8Q153.2 40.5 154.2 44.1Q152.2 44.5 152.7 47.1Q150.8 48.4 152.5 50.9" stroke="#ecdcc1" stroke-width="2.9"/>
<path d="M123.7 18.0Q121.8 16.2 119.4 18.7Q119.2 16.0 115.6 16.1Q117.3 14.7 115.5 12.5Q117.1 12.0 116.5 9.8" stroke="#bb9a78" stroke-width="4"/><path d="M123.7 18.0Q121.8 16.2 119.4 18.7Q119.2 16.0 115.6 16.1Q117.3 14.7 115.5 12.5Q117.1 12.0 116.5 9.8" stroke="#ecdcc1" stroke-width="2.9"/>
<path d="M154.6 47.7Q153.0 48.9 154.6 51.0Q152.4 50.5 151.7 53.3Q150.4 50.9 147.1 52.5Q147.8 50.5 145.2 49.5" stroke="#bb9a78" stroke-width="4"/><path d="M154.6 47.7Q153.0 48.9 154.6 51.0Q152.4 50.5 151.7 53.3Q150.4 50.9 147.1 52.5Q147.8 50.5 145.2 49.5" stroke="#ecdcc1" stroke-width="2.9"/>
<path d="M125.3 59.3Q127.0 58.1 125.4 55.8Q127.9 56.4 128.8 53.1Q130.8 52.2 129.7 49.6Q130.7 51.0 132.7 49.8" stroke="#bb9a78" stroke-width="4"/><path d="M125.3 59.3Q127.0 58.1 125.4 55.8Q127.9 56.4 128.8 53.1Q130.8 52.2 129.7 49.6Q130.7 51.0 132.7 49.8" stroke="#ecdcc1" stroke-width="2.9"/>
<path d="M120.8 45.5Q120.6 47.8 123.5 48.1Q121.2 49.8 123.3 52.9Q122.4 54.6 124.7 55.8Q125.4 58.3 128.7 57.5" stroke="#bb9a78" stroke-width="4"/><path d="M120.8 45.5Q120.6 47.8 123.5 48.1Q121.2 49.8 123.3 52.9Q122.4 54.6 124.7 55.8Q125.4 58.3 128.7 57.5" stroke="#ecdcc1" stroke-width="2.9"/>
<path d="M112.1 39.8Q114.3 38.7 113.0 35.8Q115.7 34.9 114.5 31.3Q116.6 30.6 115.8 27.8Q117.4 29.8 120.1 27.8" stroke="#bb9a78" stroke-width="4"/><path d="M112.1 39.8Q114.3 38.7 113.0 35.8Q115.7 34.9 114.5 31.3Q116.6 30.6 115.8 27.8Q117.4 29.8 120.1 27.8" stroke="#ecdcc1" stroke-width="2.9"/>
<path d="M112.4 52.4Q112.7 49.6 109.0 49.1Q109.2 46.9 106.4 46.6Q105.0 45.1 103.0 46.8Q101.2 46.9 101.2 49.4" stroke="#bb9a78" stroke-width="4"/><path d="M112.4 52.4Q112.7 49.6 109.0 49.1Q109.2 46.9 106.4 46.6Q105.0 45.1 103.0 46.8Q101.2 46.9 101.2 49.4" stroke="#ecdcc1" stroke-width="2.9"/>
<path d="M150.5 15.5Q151.1 13.0 147.8 12.1Q149.0 9.6 145.8 8.0Q145.4 6.2 143.1 6.6Q143.2 4.6 140.6 4.5" stroke="#bb9a78" stroke-width="4"/><path d="M150.5 15.5Q151.1 13.0 147.8 12.1Q149.0 9.6 145.8 8.0Q145.4 6.2 143.1 6.6Q143.2 4.6 140.6 4.5" stroke="#ecdcc1" stroke-width="2.9"/>
<path d="M167.2 58.2Q169.2 58.0 169.1 55.5Q171.2 55.2 171.0 52.4Q172.8 51.3 171.3 48.9Q173.3 47.4 171.5 44.8" stroke="#bb9a78" stroke-width="4"/><path d="M167.2 58.2Q169.2 58.0 169.1 55.5Q171.2 55.2 171.0 52.4Q172.8 51.3 171.3 48.9Q173.3 47.4 171.5 44.8" stroke="#ecdcc1" stroke-width="2.9"/>
<path d="M104.6 39.4Q102.3 39.5 102.3 42.6Q100.3 42.1 99.6 44.7Q97.9 42.8 95.4 44.9Q96.6 42.8 93.9 41.2" stroke="#bb9a78" stroke-width="4"/><path d="M104.6 39.4Q102.3 39.5 102.3 42.6Q100.3 42.1 99.6 44.7Q97.9 42.8 95.4 44.9Q96.6 42.8 93.9 41.2" stroke="#ecdcc1" stroke-width="2.9"/>
<path d="M120.5 43.8Q119.8 45.7 122.2 46.8Q120.7 47.7 121.8 49.8Q120.0 50.2 120.5 52.6Q120.6 54.6 123.3 54.6" stroke="#bb9a78" stroke-width="4"/><path d="M120.5 43.8Q119.8 45.7 122.2 46.8Q120.7 47.7 121.8 49.8Q120.0 50.2 120.5 52.6Q120.6 54.6 123.3 54.6" stroke="#ecdcc1" stroke-width="2.9"/>
<path d="M158.1 32.0Q159.1 29.4 155.6 28.0Q154.7 25.7 151.6 26.8Q152.8 24.5 149.8 22.8Q149.8 20.6 146.8 20.5" stroke="#bb9a78" stroke-width="4"/><path d="M158.1 32.0Q159.1 29.4 155.6 28.0Q154.7 25.7 151.6 26.8Q152.8 24.5 149.8 22.8Q149.8 20.6 146.8 20.5" stroke="#ecdcc1" stroke-width="2.9"/>
<path d="M154.0 25.3Q153.0 22.8 149.7 23.9Q147.4 22.9 146.0 25.8Q144.2 26.5 145.2 28.8Q143.0 29.9 144.4 32.8" stroke="#bb9a78" stroke-width="4"/><path d="M154.0 25.3Q153.0 22.8 149.7 23.9Q147.4 22.9 146.0 25.8Q144.2 26.5 145.2 28.8Q143.0 29.9 144.4 32.8" stroke="#ecdcc1" stroke-width="2.9"/>
<path d="M144.6 59.5Q143.6 61.5 146.2 62.8Q147.0 65.5 150.5 64.6Q152.4 65.1 153.1 62.6Q154.1 60.4 151.2 59.0" stroke="#bb9a78" stroke-width="4"/><path d="M144.6 59.5Q143.6 61.5 146.2 62.8Q147.0 65.5 150.5 64.6Q152.4 65.1 153.1 62.6Q154.1 60.4 151.2 59.0" stroke="#ecdcc1" stroke-width="2.9"/>
<path d="M145.7 24.0Q147.1 25.4 148.9 23.7Q147.5 26.0 150.4 27.9Q150.4 30.6 154.0 30.8Q155.8 31.7 157.1 29.3" stroke="#bb9a78" stroke-width="4"/><path d="M145.7 24.0Q147.1 25.4 148.9 23.7Q147.5 26.0 150.4 27.9Q150.4 30.6 154.0 30.8Q155.8 31.7 157.1 29.3" stroke="#ecdcc1" stroke-width="2.9"/>
<path d="M130.2 59.8Q128.8 61.1 130.3 63.0Q128.5 62.5 127.8 64.9Q127.2 62.9 124.6 63.6Q124.3 60.9 120.7 61.2" stroke="#bb9a78" stroke-width="4"/><path d="M130.2 59.8Q128.8 61.1 130.3 63.0Q128.5 62.5 127.8 64.9Q127.2 62.9 124.6 63.6Q124.3 60.9 120.7 61.2" stroke="#ecdcc1" stroke-width="2.9"/>
<path d="M120.3 38.9Q121.2 36.9 118.6 35.7Q120.2 34.4 118.5 32.3Q118.2 30.6 116.0 31.0Q116.3 28.6 113.3 28.1" stroke="#bb9a78" stroke-width="4"/><path d="M120.3 38.9Q121.2 36.9 118.6 35.7Q120.2 34.4 118.5 32.3Q118.2 30.6 116.0 31.0Q116.3 28.6 113.3 28.1" stroke="#ecdcc1" stroke-width="2.9"/>
<path d="M155.0 20.7Q155.6 18.5 152.7 17.6Q154.9 16.9 154.1 14.0Q156.3 12.8 154.8 10.0Q154.9 7.2 151.3 7.1" stroke="#bb9a78" stroke-width="4"/><path d="M155.0 20.7Q155.6 18.5 152.7 17.6Q154.9 16.9 154.1 14.0Q156.3 12.8 154.8 10.0Q154.9 7.2 151.3 7.1" stroke="#ecdcc1" stroke-width="2.9"/>
<path d="M136.6 15.1Q138.1 12.6 135.0 10.6Q135.6 8.7 133.2 7.8Q135.2 7.9 135.4 5.3Q135.8 3.4 133.3 2.8" stroke="#bb9a78" stroke-width="4"/><path d="M136.6 15.1Q138.1 12.6 135.0 10.6Q135.6 8.7 133.2 7.8Q135.2 7.9 135.4 5.3Q135.8 3.4 133.3 2.8" stroke="#ecdcc1" stroke-width="2.9"/>
<path d="M133.6 46.0Q135.3 47.9 137.8 45.7Q139.6 46.3 140.5 44.0Q141.7 45.9 144.2 44.4Q144.2 46.6 147.1 46.7" stroke="#bb9a78" stroke-width="4"/><path d="M133.6 46.0Q135.3 47.9 137.8 45.7Q139.6 46.3 140.5 44.0Q141.7 45.9 144.2 44.4Q144.2 46.6 147.1 46.7" stroke="#ecdcc1" stroke-width="2.9"/>
<path d="M155.8 38.1Q155.5 40.6 158.8 41.1Q158.6 43.5 161.8 43.8Q162.3 45.5 164.5 44.9Q162.5 46.6 164.7 49.3" stroke="#bb9a78" stroke-width="4"/><path d="M155.8 38.1Q155.5 40.6 158.8 41.1Q158.6 43.5 161.8 43.8Q162.3 45.5 164.5 44.9Q162.5 46.6 164.7 49.3" stroke="#ecdcc1" stroke-width="2.9"/>
</g>
<path d="M106.8 50.0C105.0 46.9 104.6 46.7 104.8 41.3C104.9 36.0 104.5 37.7 107.4 32.3C110.3 26.8 109.3 27.7 114.4 23.2C119.6 18.7 117.9 19.7 124.5 17.3C131.2 15.0 129.4 15.3 136.6 15.3C143.9 15.3 142.1 15.0 148.7 17.3C155.4 19.7 154.0 18.7 158.8 23.2C163.6 27.7 162.7 27.1 164.8 32.3C167.0 37.4 166.5 35.8 166.0 40.3C165.6 44.9 165.9 44.1 163.2 47.4C160.6 50.7 160.2 48.7 157.2 51.4C154.2 54.1 155.7 54.0 153.1 56.5C150.6 58.9 152.5 59.1 148.7 59.7C145.0 60.3 144.8 60.0 140.6 58.5C136.5 56.9 139.2 56.1 135.0 54.4C130.8 52.7 131.5 53.7 126.5 52.8C121.6 52.0 123.2 52.0 118.5 51.6C113.8 51.3 114.3 52.1 110.8 51.6C107.3 51.1 108.6 53.1 106.8 50.0Z" fill="none" stroke="#b48f6d" stroke-width="0.6"/>
<g transform="rotate(22 119.5 59.5)"><ellipse cx="119.5" cy="59.5" rx="11.2" ry="7.6" fill="#bd7d68"/><ellipse cx="121" cy="59.2" rx="7" ry="3.6" fill="#ead5cb" opacity="0.7"/><path d="M110 57C114 54 124 54 129 58M110 60.5C115 58 124 58.5 129.5 61.5M112 64C116 62.5 123 63 127 65" fill="none" stroke="#a4604d" stroke-width="0.5"/></g>
<path d="M130.6 57.6C133 56.6 135.6 57.4 136.2 59.6C136.6 62 134.6 63 133.6 64L132 77.6L129.6 77.6L130.6 64C129.6 62 129.4 59.4 130.6 57.6Z" fill="#f3e6e0" stroke="#c9a79b" stroke-width="0.4"/>
<path d="M135.8 61.6C138.6 60.6 140 63 139.6 65.6C139.2 68 137.4 69.6 136 68.8" fill="none" stroke="#1e1e1e" stroke-width="0.5"/>
<ellipse cx="163.8" cy="57" rx="2.1" ry="2.9" fill="#e9dad5" stroke="#1e1e1e" stroke-width="0.55"/>
<path d="M108.4 97.0C108.3 97.8 109.4 97.3 108.2 100.0C107.0 102.7 108.1 103.9 104.0 107.0C99.9 110.1 98.8 110.2 92.9 111.8C87.0 113.4 87.8 112.4 82.0 113.0C76.2 113.6 76.1 113.0 71.0 114.2C65.9 115.4 66.3 115.4 63.0 117.5C59.7 119.6 60.9 119.1 58.8 121.9C56.7 124.7 56.5 124.8 55.0 128.0C53.5 131.2 54.0 125.5 53.3 134.0C52.6 142.5 52.7 146.4 52.3 160.0C51.9 173.6 53.2 169.8 51.8 185.0C50.4 200.2 49.7 201.0 47.0 217.0C44.3 233.0 43.7 226.9 41.7 245.0C39.7 263.1 40.2 263.3 39.4 285.0C38.6 306.7 39.5 310.4 38.6 326.5C37.7 342.6 38.0 336.2 36.1 345.3C34.2 354.4 32.0 353.0 31.5 360.7C31.0 368.4 31.9 366.4 34.1 374.0C36.3 381.6 35.9 383.9 39.7 389.3C43.5 394.7 44.6 392.5 48.4 394.4C52.2 396.3 51.8 396.3 54.0 396.5C56.2 396.7 55.8 396.3 56.5 395.2C57.2 394.1 57.6 394.1 56.8 392.4C56.0 390.7 55.3 390.8 53.6 389.0C51.9 387.2 51.7 388.6 50.4 385.7C49.1 382.8 49.2 381.9 48.9 378.0C48.6 374.1 49.3 372.9 49.4 371.0" fill="none" stroke="#1e1e1e" stroke-width="0.72" stroke-linecap="round"/>
<path d="M57.2 340.0C57.2 342.8 57.8 345.6 57.1 350.4C56.4 355.2 55.5 354.1 54.6 358.0C53.7 361.9 53.9 361.4 53.7 365.0C53.5 368.6 53.8 369.8 53.8 371.5" fill="none" stroke="#1e1e1e" stroke-width="0.72" stroke-linecap="round"/>
<path d="M49.4 371.0C49.6 372.0 49.5 373.4 50.2 374.8C50.9 376.2 51.1 376.0 52.0 376.2C52.9 376.4 53.1 376.9 53.6 375.6C54.1 374.3 53.7 372.6 53.8 371.5" fill="none" stroke="#1e1e1e" stroke-width="0.72" stroke-linecap="round"/>
<path d="M72.7 138.0C73.4 140.1 74.1 141.7 75.5 146.0C76.9 150.3 78.0 147.6 78.0 154.0C78.0 160.4 76.9 161.6 75.5 170.0C74.1 178.4 72.8 177.4 72.7 185.4C72.6 193.4 74.9 190.2 75.0 200.0C75.1 209.8 74.4 211.2 73.0 222.0C71.6 232.8 70.2 231.7 69.6 240.5C69.0 249.3 70.2 248.0 70.6 255.0C71.0 262.0 72.1 260.1 71.0 266.8C69.9 273.5 69.2 271.1 66.5 280.0C63.8 288.9 63.3 290.5 61.0 300.0C58.7 309.5 59.0 305.0 58.0 315.7C57.0 326.4 57.4 333.5 57.2 340.0" fill="none" stroke="#1e1e1e" stroke-width="0.72" stroke-linecap="round"/>
<path d="M75.0 200.0C76.9 207.5 78.3 213.1 82.0 228.0C85.7 242.9 88.1 245.3 89.0 256.0C89.9 266.7 87.8 261.6 85.5 268.0C83.2 274.4 83.7 271.5 80.5 280.0C77.3 288.5 76.8 289.7 73.5 300.0C70.2 310.3 70.1 309.5 68.0 318.8C65.9 328.1 66.3 326.7 65.5 335.0C64.7 343.3 64.3 339.1 65.0 349.8C65.7 360.5 66.1 361.3 68.0 375.0C69.9 388.7 70.9 394.1 72.0 401.0" fill="none" stroke="#1e1e1e" stroke-width="0.72" stroke-linecap="round"/>
<path d="M78.4 116.0C81.5 116.9 83.1 117.4 90.0 119.4C96.9 121.4 98.5 122.6 104.4 123.6C110.3 124.6 108.0 123.3 112.0 123.0C116.0 122.7 117.4 122.5 119.3 122.3" fill="none" stroke="#1e1e1e" stroke-width="0.5" stroke-linecap="round"/>
<path d="M43.5 366.0C42.8 368.1 41.0 370.0 41.0 374.0C41.0 378.0 41.4 378.2 43.4 381.0C45.4 383.8 47.2 383.6 48.6 384.6" fill="none" stroke="#555" stroke-width="0.4" stroke-linecap="round"/>
<path d="M45.0 368.0C44.6 369.6 43.1 371.1 43.4 374.0C43.7 376.9 44.5 377.9 46.0 379.0C47.5 380.1 48.2 378.3 49.0 378.0" fill="none" stroke="#555" stroke-width="0.4" stroke-linecap="round"/>
<path d="M43.0 350.4C43.8 351.9 44.8 351.8 46.0 356.0C47.2 360.2 46.7 361.7 47.6 366.0C48.5 370.3 48.8 370.4 49.2 372.0" fill="none" stroke="#555" stroke-width="0.4" stroke-linecap="round"/>
<path d="M122.8 104L122.6 130L129.8 130L129.6 104Z" fill="#f3d4c8"/>
<path d="M119 99.4C117.6 103 119.4 108.6 122.2 111.2C124.4 112.8 126.2 111.4 126.9 109C127.6 111.4 129.4 112.8 131.6 111.2C134.4 108.6 136.4 103 135 99.4C133.4 103.4 130.4 105.8 126.9 106C123.6 105.8 120.6 103.4 119 99.4Z" fill="#c3917e" stroke="#a8735f" stroke-width="0.3"/>
<rect x="123.4" y="128.4" width="8.6" height="37" rx="1.4" fill="#e9e2cf" stroke="#4a4338" stroke-width="0.5"/>
<line x1="123.6" x2="131.8" y1="131.2" y2="131.2" stroke="#3d362d" stroke-width="1.15"/>
<line x1="123.6" x2="131.8" y1="135.1" y2="135.1" stroke="#3d362d" stroke-width="1.15"/>
<line x1="123.6" x2="131.8" y1="139.0" y2="139.0" stroke="#3d362d" stroke-width="1.15"/>
<line x1="123.6" x2="131.8" y1="142.9" y2="142.9" stroke="#3d362d" stroke-width="1.15"/>
<line x1="123.6" x2="131.8" y1="146.8" y2="146.8" stroke="#3d362d" stroke-width="1.15"/>
<line x1="123.6" x2="131.8" y1="150.7" y2="150.7" stroke="#3d362d" stroke-width="1.15"/>
<line x1="123.6" x2="131.8" y1="154.6" y2="154.6" stroke="#3d362d" stroke-width="1.15"/>
<line x1="123.6" x2="131.8" y1="158.5" y2="158.5" stroke="#3d362d" stroke-width="1.15"/>
<line x1="123.6" x2="131.8" y1="162.4" y2="162.4" stroke="#3d362d" stroke-width="1.15"/>
<path d="M113.3 132.4C111.0 133.1 110.7 133.1 108.0 135.2C105.3 137.3 106.2 136.5 103.3 140.2C100.4 143.9 99.9 144.0 97.0 149.0C94.1 154.0 94.6 153.2 92.4 158.8C90.2 164.4 90.0 163.8 88.6 170.0C87.2 176.2 87.6 175.3 87.0 182.0C86.4 188.7 86.4 188.4 86.2 195.0C86.0 201.6 85.9 201.5 86.4 206.8C86.9 212.1 86.8 211.1 88.0 215.0C89.2 218.9 88.5 219.1 90.9 221.5C93.3 223.9 93.2 224.9 97.0 224.0C100.8 223.1 101.0 221.2 105.0 218.0C109.0 214.8 108.0 214.2 112.0 212.0C116.0 209.8 117.0 211.0 120.0 209.6C123.0 208.2 121.7 208.6 123.4 206.8C125.1 205.0 125.3 205.5 126.5 203.0C127.7 200.5 127.9 201.0 128.0 197.5C128.1 194.0 127.4 194.1 127.0 190.0C126.6 185.9 126.5 186.3 126.5 182.0C126.5 177.7 126.9 178.5 126.9 174.0C126.9 169.5 127.3 169.3 126.5 165.0C125.7 160.7 125.2 161.7 124.0 158.0C122.8 154.3 122.8 155.0 121.9 151.0C121.0 147.0 121.3 147.1 120.5 143.0C119.7 138.9 119.9 138.3 118.8 135.5C117.7 132.7 118.0 133.2 116.5 132.4C115.0 131.6 115.6 131.7 113.3 132.4Z" fill="#7d6973" stroke="#5b4a53" stroke-width="0.5"/>
<path d="M143.6 133.2C141.2 133.3 141.7 133.4 140.0 134.8C138.3 136.2 138.7 135.1 137.4 138.6C136.1 142.1 136.0 142.6 135.0 148.0C134.0 153.4 134.0 154.3 133.5 158.8C133.0 163.3 133.0 162.1 133.2 165.0C133.4 167.9 132.9 166.9 134.3 169.6C135.7 172.3 136.0 171.7 138.5 175.0C141.0 178.3 141.8 177.7 143.6 182.0C145.4 186.3 145.0 186.0 145.4 191.0C145.8 196.0 145.5 196.3 145.1 200.6C144.7 204.9 144.8 204.1 144.0 207.0C143.2 209.9 140.4 210.4 142.0 211.5C143.6 212.6 145.7 210.7 150.0 211.0C154.3 211.3 153.7 211.3 158.0 212.6C162.3 213.9 162.1 213.7 166.0 216.0C169.9 218.3 170.6 222.5 172.6 221.4C174.6 220.3 173.3 217.1 173.6 212.0C173.9 206.9 174.0 208.1 173.8 202.2C173.6 196.3 173.6 196.2 173.0 190.0C172.4 183.8 172.6 185.0 171.5 178.9C170.4 172.8 170.5 173.2 168.8 167.0C167.1 160.8 167.5 161.2 165.3 155.7C163.1 150.2 163.4 151.1 160.5 146.5C157.6 141.9 157.5 141.8 154.4 138.6C151.3 135.4 151.9 136.0 149.0 134.6C146.1 133.2 146.0 133.1 143.6 133.2Z" fill="#6b5862" stroke="#4c3c45" stroke-width="0.5"/>
<clipPath id="cLL"><path d="M113.3 132.4C111.0 133.1 110.7 133.1 108.0 135.2C105.3 137.3 106.2 136.5 103.3 140.2C100.4 143.9 99.9 144.0 97.0 149.0C94.1 154.0 94.6 153.2 92.4 158.8C90.2 164.4 90.0 163.8 88.6 170.0C87.2 176.2 87.6 175.3 87.0 182.0C86.4 188.7 86.4 188.4 86.2 195.0C86.0 201.6 85.9 201.5 86.4 206.8C86.9 212.1 86.8 211.1 88.0 215.0C89.2 218.9 88.5 219.1 90.9 221.5C93.3 223.9 93.2 224.9 97.0 224.0C100.8 223.1 101.0 221.2 105.0 218.0C109.0 214.8 108.0 214.2 112.0 212.0C116.0 209.8 117.0 211.0 120.0 209.6C123.0 208.2 121.7 208.6 123.4 206.8C125.1 205.0 125.3 205.5 126.5 203.0C127.7 200.5 127.9 201.0 128.0 197.5C128.1 194.0 127.4 194.1 127.0 190.0C126.6 185.9 126.5 186.3 126.5 182.0C126.5 177.7 126.9 178.5 126.9 174.0C126.9 169.5 127.3 169.3 126.5 165.0C125.7 160.7 125.2 161.7 124.0 158.0C122.8 154.3 122.8 155.0 121.9 151.0C121.0 147.0 121.3 147.1 120.5 143.0C119.7 138.9 119.9 138.3 118.8 135.5C117.7 132.7 118.0 133.2 116.5 132.4C115.0 131.6 115.6 131.7 113.3 132.4Z"/></clipPath><clipPath id="cLR"><path d="M143.6 133.2C141.2 133.3 141.7 133.4 140.0 134.8C138.3 136.2 138.7 135.1 137.4 138.6C136.1 142.1 136.0 142.6 135.0 148.0C134.0 153.4 134.0 154.3 133.5 158.8C133.0 163.3 133.0 162.1 133.2 165.0C133.4 167.9 132.9 166.9 134.3 169.6C135.7 172.3 136.0 171.7 138.5 175.0C141.0 178.3 141.8 177.7 143.6 182.0C145.4 186.3 145.0 186.0 145.4 191.0C145.8 196.0 145.5 196.3 145.1 200.6C144.7 204.9 144.8 204.1 144.0 207.0C143.2 209.9 140.4 210.4 142.0 211.5C143.6 212.6 145.7 210.7 150.0 211.0C154.3 211.3 153.7 211.3 158.0 212.6C162.3 213.9 162.1 213.7 166.0 216.0C169.9 218.3 170.6 222.5 172.6 221.4C174.6 220.3 173.3 217.1 173.6 212.0C173.9 206.9 174.0 208.1 173.8 202.2C173.6 196.3 173.6 196.2 173.0 190.0C172.4 183.8 172.6 185.0 171.5 178.9C170.4 172.8 170.5 173.2 168.8 167.0C167.1 160.8 167.5 161.2 165.3 155.7C163.1 150.2 163.4 151.1 160.5 146.5C157.6 141.9 157.5 141.8 154.4 138.6C151.3 135.4 151.9 136.0 149.0 134.6C146.1 133.2 146.0 133.1 143.6 133.2Z"/></clipPath>
<filter id="fNoise" x="0" y="0" width="100%" height="100%"><feTurbulence type="fractalNoise" baseFrequency="0.4" numOctaves="2" seed="4" result="n"/><feColorMatrix in="n" type="matrix" values="0 0 0 0 0.86  0 0 0 0 0.72  0 0 0 0 0.76  0 0 0 2.2 -0.95"/></filter>
<g clip-path="url(#cLL)"><rect x="84" y="130" width="48" height="98" filter="url(#fNoise)" opacity="0.45"/></g>
<g clip-path="url(#cLR)"><rect x="131" y="130" width="46" height="96" filter="url(#fNoise)" opacity="0.36"/></g>
<g clip-path="url(#cLL)"><path d="M125.0 168.0L117.3 178.5M117.3 178.5L108.6 183.6M108.6 183.6L100.8 184.8M100.8 184.8L94.7 183.9M94.7 183.9L91.0 180.8M94.7 183.9L90.3 185.8M100.8 184.8L95.7 188.4M95.7 188.4L91.2 190.0M95.7 188.4L93.2 192.5M108.6 183.6L103.5 189.6M103.5 189.6L98.3 193.0M98.3 193.0L93.5 193.7M98.3 193.0L96.1 197.3M103.5 189.6L100.9 195.3M100.9 195.3L97.6 198.7M100.9 195.3L100.8 200.1M117.3 178.5L114.3 188.2M114.3 188.2L109.5 194.5M109.5 194.5L103.8 196.8M103.8 196.8L99.0 197.1M103.8 196.8L99.9 199.7M109.5 194.5L107.1 200.1M107.1 200.1L103.7 203.5M107.1 200.1L107.4 205.0M114.3 188.2L116.3 195.8M116.3 195.8L115.9 202.0M115.9 202.0L114.4 206.6M115.9 202.0L116.8 206.7M116.3 195.8L120.9 200.0M120.9 200.0L122.9 204.4M120.9 200.0L125.2 202.1M125.0 168.0L113.2 173.6M113.2 173.6L103.1 173.3M103.1 173.3L96.6 168.8M96.6 168.8L92.7 164.1M92.7 164.1L91.5 159.4M92.7 164.1L88.5 161.6M96.6 168.8L90.7 166.9M90.7 166.9L87.4 163.4M90.7 166.9L86.0 167.6M103.1 173.3L96.0 176.9M96.0 176.9L89.9 176.9M89.9 176.9L85.7 174.6M89.9 176.9L85.8 179.5M96.0 176.9L92.0 181.5M92.0 181.5L87.3 182.8M92.0 181.5L91.1 186.3M113.2 173.6L105.9 180.6M105.9 180.6L98.5 183.4M98.5 183.4L92.4 183.4M92.4 183.4L87.8 182.0M92.4 183.4L88.2 185.8M98.5 183.4L94.7 188.2M94.7 188.2L90.4 190.4M94.7 188.2L93.9 192.9M105.9 180.6L104.2 188.3M104.2 188.3L100.7 193.4M100.7 193.4L96.7 196.0M100.7 193.4L100.1 198.2M104.2 188.3L105.0 194.4M105.0 194.4L104.3 199.2M105.0 194.4L108.1 198.1M125.0 168.0L112.0 167.2M112.0 167.2L102.4 164.1M102.4 164.1L95.8 159.8M95.8 159.8L92.0 154.9M92.0 154.9L90.7 150.3M92.0 154.9L87.8 152.5M95.8 159.8L89.9 158.0M89.9 158.0L85.8 155.4M89.9 158.0L85.0 158.0M102.4 164.1L94.6 165.7M94.6 165.7L88.6 164.6M88.6 164.6L85.0 161.4M88.6 164.6L84.0 166.2M94.6 165.7L89.2 168.6M89.2 168.6L84.5 169.7M89.2 168.6L86.4 172.6M112.0 167.2L102.2 169.9M102.2 169.9L94.3 170.1M94.3 170.1L88.4 168.3M88.4 168.3L84.8 165.1M88.4 168.3L83.6 168.3M94.3 170.1L88.8 172.8M88.8 172.8L84.0 172.1M88.8 172.8L86.2 176.8M102.2 169.9L96.2 175.1M96.2 175.1L90.1 175.9M90.1 175.9L85.4 175.3M90.1 175.9L85.9 178.2M96.2 175.1L92.9 180.2M92.9 180.2L88.6 182.6M92.9 180.2L92.4 185.0M125.0 168.0L114.7 160.0M114.7 160.0L109.6 151.3M109.6 151.3L109.8 143.4M109.8 143.4L111.9 137.6M111.9 137.6L115.7 134.6M111.9 137.6L111.0 132.9M109.8 143.4L107.2 137.8M107.2 137.8L107.4 133.0M107.2 137.8L103.9 134.3M109.6 151.3L103.9 145.8M103.9 145.8L101.3 140.2M101.3 140.2L101.2 135.4M101.3 140.2L97.4 137.4M103.9 145.8L98.5 142.8M98.5 142.8L96.3 138.5M98.5 142.8L93.7 143.2M114.7 160.0L105.0 157.2M105.0 157.2L98.5 152.6M98.5 152.6L96.0 147.0M96.0 147.0L95.4 142.2M96.0 147.0L92.8 143.4M98.5 152.6L92.5 151.2M92.5 151.2L89.0 147.9M92.5 151.2L87.8 151.8M105.0 157.2L97.1 157.6M97.1 157.6L91.4 155.3M91.4 155.3L87.7 152.2M91.4 155.3L86.6 154.8M97.1 157.6L91.2 159.6M91.2 159.6L86.4 159.5M91.2 159.6L87.4 162.5M125.0 168.0L123.3 180.9M123.3 180.9L118.6 189.9M118.6 189.9L111.9 194.0M111.9 194.0L105.7 193.8M105.7 193.8L101.6 191.3M105.7 193.8L101.6 196.2M111.9 194.0L107.8 198.6M107.8 198.6L103.5 200.8M107.8 198.6L106.3 203.2M118.6 189.9L117.9 197.7M117.9 197.7L115.4 203.4M115.4 203.4L112.0 206.9M115.4 203.4L115.5 208.2M117.9 197.7L119.7 203.6M119.7 203.6L119.3 208.4M119.7 203.6L122.4 207.6M123.3 180.9L125.0 190.9M125.0 190.9L122.7 198.4M122.7 198.4L118.9 203.3M118.9 203.3L114.6 205.6M118.9 203.3L118.3 208.1M122.7 198.4L123.6 204.6M123.6 204.6L122.5 209.2M123.6 204.6L126.1 208.6M125.0 190.9L130.2 196.9M130.2 196.9L131.9 202.8M131.9 202.8L131.9 207.6M131.9 202.8L135.1 206.4M130.2 196.9L136.1 198.6M136.1 198.6L140.2 201.2M136.1 198.6L140.9 198.7" fill="none" stroke="#4e3f47" stroke-width="0.45" opacity="0.75"/></g>
<g clip-path="url(#cLR)"><path d="M135.0 168.0L143.1 178.2M143.1 178.2L145.0 188.1M145.0 188.1L143.5 195.9M143.5 195.9L139.3 200.4M139.3 200.4L134.8 202.2M139.3 200.4L137.5 204.9M143.5 195.9L144.7 202.0M144.7 202.0L144.1 206.7M144.7 202.0L147.5 205.8M145.0 188.1L148.5 195.3M148.5 195.3L148.7 201.4M148.7 201.4L146.3 205.6M148.7 201.4L151.2 205.5M148.5 195.3L153.1 199.3M153.1 199.3L154.9 203.8M153.1 199.3L157.9 200.2M143.1 178.2L152.2 182.7M152.2 182.7L156.2 189.5M156.2 189.5L157.9 195.4M157.9 195.4L157.7 200.2M157.9 195.4L160.5 199.5M156.2 189.5L161.3 192.9M161.3 192.9L163.2 197.3M161.3 192.9L166.1 193.4M152.2 182.7L160.0 181.6M160.0 181.6L165.6 184.2M165.6 184.2L168.4 188.1M165.6 184.2L170.4 183.7M160.0 181.6L165.1 178.0M165.1 178.0L169.9 177.9M165.1 178.0L166.8 173.5M135.0 168.0L147.0 173.1M147.0 173.1L152.8 181.4M152.8 181.4L153.5 189.3M153.5 189.3L150.6 194.7M150.6 194.7L147.1 198.0M150.6 194.7L150.3 199.5M153.5 189.3L155.9 194.9M155.9 194.9L156.5 199.7M155.9 194.9L159.1 198.5M152.8 181.4L159.0 186.3M159.0 186.3L162.2 191.5M162.2 191.5L163.6 196.1M162.2 191.5L166.2 194.3M159.0 186.3L164.8 188.4M164.8 188.4L168.6 191.3M164.8 188.4L169.6 187.8M147.0 173.1L157.0 171.6M157.0 171.6L164.3 174.5M164.3 174.5L167.9 179.6M167.9 179.6L169.4 184.1M167.9 179.6L172.0 182.1M164.3 174.5L170.5 174.9M170.5 174.9L174.4 177.7M170.5 174.9L174.7 172.6M157.0 171.6L163.5 167.1M163.5 167.1L169.7 166.9M169.7 166.9L174.2 168.5M169.7 166.9L174.3 165.5M163.5 167.1L166.0 161.4M166.0 161.4L169.2 157.8M166.0 161.4L166.5 156.6M135.0 168.0L147.9 166.7M147.9 166.7L157.8 168.8M157.8 168.8L164.0 173.8M164.0 173.8L165.8 179.7M165.8 179.7L165.5 184.5M165.8 179.7L169.5 182.8M164.0 173.8L170.0 174.9M170.0 174.9L174.3 177.2M170.0 174.9L174.5 173.2M157.8 168.8L165.5 167.0M165.5 167.0L171.5 168.6M171.5 168.6L175.6 171.1M171.5 168.6L176.1 167.1M165.5 167.0L170.4 163.2M170.4 163.2L175.2 162.7M170.4 163.2L172.0 158.7M147.9 166.7L155.9 160.5M155.9 160.5L163.2 157.4M163.2 157.4L169.3 158.5M169.3 158.5L173.4 161.1M169.3 158.5L173.8 156.9M163.2 157.4L168.0 153.5M168.0 153.5L172.8 152.8M168.0 153.5L170.5 149.4M155.9 160.5L160.6 154.1M160.6 154.1L166.4 152.0M166.4 152.0L171.2 152.2M166.4 152.0L169.7 148.4M160.6 154.1L162.1 148.1M162.1 148.1L164.4 143.9M162.1 148.1L160.5 143.6M135.0 168.0L144.9 159.6M144.9 159.6L155.0 158.5M155.0 158.5L162.8 160.1M162.8 160.1L168.3 162.9M168.3 162.9L171.6 166.4M168.3 162.9L173.1 162.9M162.8 160.1L168.8 159.0M168.8 159.0L173.6 159.8M168.8 159.0L172.4 155.8M155.0 158.5L162.3 155.4M162.3 155.4L168.4 156.0M168.4 156.0L172.2 159.0M168.4 156.0L172.9 154.3M162.3 155.4L166.2 150.6M166.2 150.6L170.4 148.2M166.2 150.6L167.5 146.0M144.9 159.6L149.4 150.5M149.4 150.5L154.7 144.6M154.7 144.6L160.3 142.0M160.3 142.0L165.1 142.4M160.3 142.0L163.4 138.4M154.7 144.6L157.3 139.0M157.3 139.0L161.1 136.1M157.3 139.0L156.6 134.3M149.4 150.5L150.2 142.6M150.2 142.6L153.7 137.6M153.7 137.6L157.4 134.5M153.7 137.6L154.1 132.8M150.2 142.6L147.5 137.1M147.5 137.1L147.4 132.3M147.5 137.1L143.6 134.4M135.0 168.0L137.2 180.8M137.2 180.8L135.8 190.9M135.8 190.9L130.6 196.8M130.6 196.8L124.8 198.9M124.8 198.9L120.0 198.8M124.8 198.9L121.1 202.0M130.6 196.8L129.7 202.9M129.7 202.9L127.5 207.1M129.7 202.9L131.5 207.3M135.8 190.9L138.0 198.5M138.0 198.5L136.4 204.4M136.4 204.4L133.4 208.2M136.4 204.4L137.7 209.1M138.0 198.5L141.2 203.7M141.2 203.7L141.3 208.5M141.2 203.7L145.2 206.5M137.2 180.8L143.6 188.7M143.6 188.7L146.4 196.1M146.4 196.1L147.0 202.2M147.0 202.2L144.8 206.5M147.0 202.2L149.8 206.1M146.4 196.1L150.4 200.8M150.4 200.8L151.4 205.5M150.4 200.8L154.8 202.9M143.6 188.7L150.9 191.7M150.9 191.7L155.4 195.9M155.4 195.9L157.7 200.1M155.4 195.9L160.2 196.6M150.9 191.7L157.0 192.6M157.0 192.6L161.0 195.3M157.0 192.6L161.5 191.0" fill="none" stroke="#3c2f36" stroke-width="0.5" opacity="0.8"/></g>
<path d="M169.6 172C171 190 166 204 149 213.5" fill="none" stroke="#d9cfd4" stroke-width="0.5" opacity="0.8"/>
<path d="M111 176C118 176 124 174 126 171" fill="none" stroke="#5a4a52" stroke-width="0.5"/>
<path d="M126.6 164L123 172L125 173.6L128.6 166.6L131.6 172.6L134 171L130.4 164Z" fill="#e9dcc6" stroke="#6d5d50" stroke-width="0.4"/>
<path d="M123.5 163L136 163L146 185L146 212L121 212L126 190Z" fill="#8b6f79"/>
<path d="M127.6 168C125.6 172 127.6 180 129.6 184C128 190 124 199 124.6 204C126 208.6 132 212.6 137.6 214.6C141.6 215 144.6 211 145 206C146 198 144.4 188 142 181C140 176 137 177.6 134.6 175C132.6 172 131 168 127.6 168Z" fill="#d6a597" stroke="#a56f64" stroke-width="0.4"/>
<path d="M127.8 168.6C126.4 172 128 179 130 183.6C132 184.6 134 182 134.4 178C134.4 174 131.4 169.6 127.8 168.6Z" fill="#f0dcc0"/>
<path d="M136 178C139.6 177 143 180.6 142.6 184.6C141 186.6 137.6 186 136 183.6Z" fill="#b9756c"/>
<path d="M129 188C131 194 130 202 133 209M138.6 184C136.6 190 134.6 194 135.6 200" fill="none" stroke="#f4e3da" stroke-width="2.6" opacity="0.7"/>
<path d="M139.2 185C138 190 135 193 134.4 198M137 190L139.6 195M125 200C127 203 130 205 131 207" fill="none" stroke="#5b6fc9" stroke-width="0.45"/>
<circle cx="91.8" cy="185.2" r="17.2" fill="url(#gBreast)" stroke="#c9ab8c" stroke-width="0.4"/>
<ellipse cx="98.9" cy="186.2" rx="1.5" ry="0.93" transform="rotate(8 98.9 186.2)" fill="#efcfc2" stroke="#d58a86" stroke-width="0.6"/>
<ellipse cx="102.6" cy="189.5" rx="2.1" ry="1.30" transform="rotate(22 102.6 189.5)" fill="#efcfc2" stroke="#d58a86" stroke-width="0.6"/>
<line x1="91.8" y1="187.6" x2="106.2" y2="187.2" stroke="#b8a084" stroke-width="0.3"/>
<ellipse cx="97.6" cy="189.4" rx="1.5" ry="0.93" transform="rotate(36 97.6 189.4)" fill="#efcfc2" stroke="#d58a86" stroke-width="0.6"/>
<ellipse cx="99.3" cy="194.0" rx="2.1" ry="1.30" transform="rotate(50 99.3 194.0)" fill="#efcfc2" stroke="#d58a86" stroke-width="0.6"/>
<line x1="91.8" y1="187.6" x2="103.6" y2="193.7" stroke="#b8a084" stroke-width="0.3"/>
<ellipse cx="95.0" cy="191.6" rx="1.5" ry="0.93" transform="rotate(63 95.0 191.6)" fill="#efcfc2" stroke="#d58a86" stroke-width="0.6"/>
<ellipse cx="94.3" cy="196.5" rx="2.1" ry="1.30" transform="rotate(77 94.3 196.5)" fill="#efcfc2" stroke="#d58a86" stroke-width="0.6"/>
<line x1="91.8" y1="187.6" x2="98.3" y2="198.2" stroke="#b8a084" stroke-width="0.3"/>
<ellipse cx="91.7" cy="192.4" rx="1.5" ry="0.93" transform="rotate(91 91.7 192.4)" fill="#efcfc2" stroke="#d58a86" stroke-width="0.6"/>
<ellipse cx="88.8" cy="196.4" rx="2.1" ry="1.30" transform="rotate(105 88.8 196.4)" fill="#efcfc2" stroke="#d58a86" stroke-width="0.6"/>
<line x1="91.8" y1="187.6" x2="91.5" y2="199.7" stroke="#b8a084" stroke-width="0.3"/>
<ellipse cx="88.3" cy="191.5" rx="1.5" ry="0.93" transform="rotate(119 88.3 191.5)" fill="#efcfc2" stroke="#d58a86" stroke-width="0.6"/>
<ellipse cx="83.9" cy="193.7" rx="2.1" ry="1.30" transform="rotate(133 83.9 193.7)" fill="#efcfc2" stroke="#d58a86" stroke-width="0.6"/>
<line x1="91.8" y1="187.6" x2="84.8" y2="197.9" stroke="#b8a084" stroke-width="0.3"/>
<ellipse cx="85.8" cy="189.2" rx="1.5" ry="0.93" transform="rotate(146 85.8 189.2)" fill="#efcfc2" stroke="#d58a86" stroke-width="0.6"/>
<ellipse cx="80.9" cy="189.1" rx="2.1" ry="1.30" transform="rotate(160 80.9 189.1)" fill="#efcfc2" stroke="#d58a86" stroke-width="0.6"/>
<line x1="91.8" y1="187.6" x2="79.7" y2="193.2" stroke="#b8a084" stroke-width="0.3"/>
<ellipse cx="84.6" cy="185.9" rx="1.5" ry="0.93" transform="rotate(174 84.6 185.9)" fill="#efcfc2" stroke="#d58a86" stroke-width="0.6"/>
<ellipse cx="80.3" cy="183.6" rx="2.1" ry="1.30" transform="rotate(188 80.3 183.6)" fill="#efcfc2" stroke="#d58a86" stroke-width="0.6"/>
<line x1="91.8" y1="187.6" x2="77.4" y2="186.7" stroke="#b8a084" stroke-width="0.3"/>
<ellipse cx="85.1" cy="182.5" rx="1.5" ry="0.93" transform="rotate(202 85.1 182.5)" fill="#efcfc2" stroke="#d58a86" stroke-width="0.6"/>
<ellipse cx="82.4" cy="178.4" rx="2.1" ry="1.30" transform="rotate(216 82.4 178.4)" fill="#efcfc2" stroke="#d58a86" stroke-width="0.6"/>
<line x1="91.8" y1="187.6" x2="78.3" y2="179.8" stroke="#b8a084" stroke-width="0.3"/>
<ellipse cx="87.1" cy="179.7" rx="1.5" ry="0.93" transform="rotate(230 87.1 179.7)" fill="#efcfc2" stroke="#d58a86" stroke-width="0.6"/>
<ellipse cx="86.6" cy="174.8" rx="2.1" ry="1.30" transform="rotate(244 86.6 174.8)" fill="#efcfc2" stroke="#d58a86" stroke-width="0.6"/>
<line x1="91.8" y1="187.6" x2="82.4" y2="174.2" stroke="#b8a084" stroke-width="0.3"/>
<ellipse cx="90.2" cy="178.2" rx="1.5" ry="0.93" transform="rotate(257 90.2 178.2)" fill="#efcfc2" stroke="#d58a86" stroke-width="0.6"/>
<ellipse cx="92.0" cy="173.6" rx="2.1" ry="1.30" transform="rotate(271 92.0 173.6)" fill="#efcfc2" stroke="#d58a86" stroke-width="0.6"/>
<line x1="91.8" y1="187.6" x2="88.6" y2="171.1" stroke="#b8a084" stroke-width="0.3"/>
<ellipse cx="93.7" cy="178.2" rx="1.5" ry="0.93" transform="rotate(285 93.7 178.2)" fill="#efcfc2" stroke="#d58a86" stroke-width="0.6"/>
<ellipse cx="97.4" cy="175.0" rx="2.1" ry="1.30" transform="rotate(299 97.4 175.0)" fill="#efcfc2" stroke="#d58a86" stroke-width="0.6"/>
<line x1="91.8" y1="187.6" x2="95.5" y2="171.2" stroke="#b8a084" stroke-width="0.3"/>
<ellipse cx="96.7" cy="179.9" rx="1.5" ry="0.93" transform="rotate(313 96.7 179.9)" fill="#efcfc2" stroke="#d58a86" stroke-width="0.6"/>
<ellipse cx="101.5" cy="178.8" rx="2.1" ry="1.30" transform="rotate(327 101.5 178.8)" fill="#efcfc2" stroke="#d58a86" stroke-width="0.6"/>
<line x1="91.8" y1="187.6" x2="101.6" y2="174.5" stroke="#b8a084" stroke-width="0.3"/>
<ellipse cx="98.6" cy="182.8" rx="1.5" ry="0.93" transform="rotate(340 98.6 182.8)" fill="#efcfc2" stroke="#d58a86" stroke-width="0.6"/>
<ellipse cx="103.3" cy="184.0" rx="2.1" ry="1.30" transform="rotate(354 103.3 184.0)" fill="#efcfc2" stroke="#d58a86" stroke-width="0.6"/>
<line x1="91.8" y1="187.6" x2="105.5" y2="180.3" stroke="#b8a084" stroke-width="0.3"/>
<circle cx="90.6" cy="187.8" r="3.2" fill="#d9c7ad" stroke="#6d6458" stroke-width="0.5"/><circle cx="90.6" cy="187.8" r="1.6" fill="none" stroke="#6d6458" stroke-width="0.4"/>
<path d="M74.7 186.8C75.4 189.3 75.2 191.4 77.5 196.0C79.8 200.6 80.2 201.1 83.3 204.0C86.4 206.9 86.0 206.1 89.0 206.8C92.0 207.5 90.8 207.7 94.5 206.6C98.2 205.5 98.4 206.0 103.0 202.6C107.6 199.2 109.5 196.3 111.9 194.0" fill="none" stroke="#1e1e1e" stroke-width="0.6" stroke-linecap="round"/>
<circle cx="139.8" cy="260" r="24" fill="url(#gBall)"/>
<path d="M158.3 216.2C159.6 213.4 162.2 216.2 165.6 217.6C169.0 219.0 169.1 218.3 171.0 221.3C172.9 224.3 172.5 224.8 172.8 229.0C173.1 233.2 173.0 233.7 172.0 237.0C171.0 240.3 171.0 239.8 169.2 241.4C167.4 243.0 167.3 243.2 165.4 243.0C163.5 242.8 163.4 242.5 162.0 240.6C160.6 238.7 160.4 239.4 160.0 236.0C159.6 232.6 161.1 233.3 160.6 228.0C160.1 222.7 157.0 219.0 158.3 216.2Z" fill="#a8656f"/>
<path d="M109.7 249.7C112.6 246.8 114.3 245.9 120.0 242.0C125.7 238.1 124.8 238.2 131.2 235.0C137.6 231.8 137.1 232.4 144.0 230.0C150.9 227.6 152.4 226.1 156.9 226.0C161.4 225.9 159.6 226.9 161.0 229.6C162.4 232.3 162.8 232.7 162.0 236.0C161.2 239.3 160.7 239.3 158.0 242.0C155.3 244.7 156.0 243.9 152.0 246.0C148.0 248.1 147.5 248.0 143.0 250.0C138.5 252.0 138.2 251.1 135.0 253.4C131.8 255.7 133.1 256.3 131.0 258.6C128.9 260.9 130.0 260.9 127.1 262.0C124.2 263.1 123.6 263.1 120.0 262.8C116.4 262.5 116.3 262.5 113.6 261.0C110.9 259.5 111.2 259.1 110.0 257.0C108.8 254.9 109.1 254.9 109.0 253.0C108.9 251.1 106.8 252.6 109.7 249.7Z" fill="#ebdcb9" stroke="#cdb98f" stroke-width="0.4"/>
<path d="M114 256C120 252 128 249 134 244C142 240 150 238 158 233" fill="none" stroke="#d2bf95" stroke-width="2.2" opacity="0.6" stroke-dasharray="1.2 1.2"/>
<path d="M135.6 212.0C137.2 208.3 138.6 210.7 142.0 210.2C145.4 209.7 144.6 209.5 148.3 210.0C152.0 210.5 151.9 210.3 156.0 212.0C160.1 213.7 162.5 213.6 163.7 216.3C164.9 219.0 162.7 219.0 160.4 222.0C158.1 225.0 158.8 224.9 155.0 227.5C151.2 230.1 150.9 229.8 146.0 231.6C141.1 233.4 139.5 236.3 136.8 234.3C134.1 232.3 136.3 229.9 136.0 224.0C135.7 218.1 134.0 215.7 135.6 212.0Z" fill="url(#gLiver2)" stroke="#a8537a" stroke-width="0.4"/>
<path d="M97.0 215.5C100.1 212.0 99.4 211.7 104.0 209.0C108.6 206.3 108.6 205.9 114.2 205.4C119.8 204.9 119.5 205.2 125.0 207.0C130.5 208.8 132.0 209.1 134.7 212.0C137.4 214.9 135.2 214.8 135.2 218.0C135.2 221.2 135.2 220.8 134.7 224.0C134.2 227.2 134.3 226.8 133.4 230.0C132.5 233.2 134.0 233.1 131.2 236.0C128.4 238.9 127.5 238.7 123.0 241.0C118.5 243.3 119.0 242.5 114.2 244.8C109.4 247.1 109.6 247.4 105.0 249.6C100.4 251.8 100.2 254.0 97.0 253.0C93.8 252.0 94.6 250.1 93.0 246.0C91.4 241.9 91.5 242.0 91.0 237.7C90.5 233.4 90.8 234.1 91.2 230.0C91.6 225.9 90.9 226.2 92.4 222.3C93.9 218.4 93.9 219.0 97.0 215.5Z" fill="url(#gLiver)" stroke="#a95079" stroke-width="0.5"/>
<path d="M135 212C134 220 135 228 131.6 236" fill="none" stroke="#8f8a5c" stroke-width="0.5"/>
<path d="M104 290C108 300 110 312 114 322C117 328 121 330 124 331" fill="none" stroke="#8e7350" stroke-width="2.6"/><path d="M104 290C108 300 110 312 114 322C117 328 121 330 124 331" fill="none" stroke="#f1e6cf" stroke-width="1.4"/>
<path d="M161.6 285C160 296 153 304 150 314C148 320 146.6 324 146 328" fill="none" stroke="#8e7350" stroke-width="2.6"/><path d="M161.6 285C160 296 153 304 150 314C148 320 146.6 324 146 328" fill="none" stroke="#f1e6cf" stroke-width="1.4"/>
<path d="M166.6 274.0C166.8 279.4 166.5 281.2 167.4 292.0C168.3 302.8 169.7 300.4 169.6 310.0C169.5 319.6 170.5 317.4 167.0 324.0C163.5 330.6 163.7 328.8 158.0 332.0C152.3 335.2 153.2 334.6 148.0 334.6C142.8 334.6 142.8 332.8 140.6 332.0" fill="none" stroke="#cfa8aa" stroke-width="13.0" stroke-linecap="round" stroke-linejoin="round"/>
<circle cx="162.1" cy="278.8" r="3.4" fill="#cfa8aa"/>
<circle cx="171.4" cy="278.5" r="3.4" fill="#cfa8aa"/>
<circle cx="162.3" cy="284.4" r="3.4" fill="#cfa8aa"/>
<circle cx="171.6" cy="284.0" r="3.4" fill="#cfa8aa"/>
<circle cx="162.5" cy="289.1" r="3.4" fill="#cfa8aa"/>
<circle cx="171.8" cy="288.5" r="3.4" fill="#cfa8aa"/>
<circle cx="163.0" cy="294.5" r="3.4" fill="#cfa8aa"/>
<circle cx="172.2" cy="293.5" r="3.4" fill="#cfa8aa"/>
<circle cx="163.8" cy="299.9" r="3.4" fill="#cfa8aa"/>
<circle cx="173.0" cy="298.4" r="3.4" fill="#cfa8aa"/>
<circle cx="164.6" cy="304.9" r="3.4" fill="#cfa8aa"/>
<circle cx="173.8" cy="303.6" r="3.4" fill="#cfa8aa"/>
<circle cx="164.9" cy="309.3" r="3.4" fill="#cfa8aa"/>
<circle cx="174.2" cy="308.9" r="3.4" fill="#cfa8aa"/>
<circle cx="164.8" cy="314.1" r="3.4" fill="#cfa8aa"/>
<circle cx="174.0" cy="314.8" r="3.4" fill="#cfa8aa"/>
<circle cx="164.1" cy="318.6" r="3.4" fill="#cfa8aa"/>
<circle cx="173.1" cy="320.6" r="3.4" fill="#cfa8aa"/>
<circle cx="162.8" cy="322.0" r="3.4" fill="#cfa8aa"/>
<circle cx="171.2" cy="326.0" r="3.4" fill="#cfa8aa"/>
<circle cx="160.5" cy="324.7" r="3.4" fill="#cfa8aa"/>
<circle cx="167.0" cy="331.4" r="3.4" fill="#cfa8aa"/>
<circle cx="157.2" cy="327.1" r="3.4" fill="#cfa8aa"/>
<circle cx="162.1" cy="335.0" r="3.4" fill="#cfa8aa"/>
<circle cx="153.3" cy="329.0" r="3.4" fill="#cfa8aa"/>
<circle cx="156.6" cy="337.7" r="3.4" fill="#cfa8aa"/>
<circle cx="149.3" cy="329.9" r="3.4" fill="#cfa8aa"/>
<circle cx="150.4" cy="339.1" r="3.4" fill="#cfa8aa"/>
<circle cx="146.6" cy="329.7" r="3.4" fill="#cfa8aa"/>
<circle cx="144.3" cy="338.7" r="3.4" fill="#cfa8aa"/>
<circle cx="143.3" cy="328.1" r="3.4" fill="#cfa8aa"/>
<circle cx="139.2" cy="336.4" r="3.4" fill="#cfa8aa"/>
<circle cx="162.1" cy="278.8" r="2.7" fill="#e4c9c8"/>
<circle cx="171.4" cy="278.5" r="2.7" fill="#e4c9c8"/>
<circle cx="162.3" cy="284.4" r="2.7" fill="#e4c9c8"/>
<circle cx="171.6" cy="284.0" r="2.7" fill="#e4c9c8"/>
<circle cx="162.5" cy="289.1" r="2.7" fill="#e4c9c8"/>
<circle cx="171.8" cy="288.5" r="2.7" fill="#e4c9c8"/>
<circle cx="163.0" cy="294.5" r="2.7" fill="#e4c9c8"/>
<circle cx="172.2" cy="293.5" r="2.7" fill="#e4c9c8"/>
<circle cx="163.8" cy="299.9" r="2.7" fill="#e4c9c8"/>
<circle cx="173.0" cy="298.4" r="2.7" fill="#e4c9c8"/>
<circle cx="164.6" cy="304.9" r="2.7" fill="#e4c9c8"/>
<circle cx="173.8" cy="303.6" r="2.7" fill="#e4c9c8"/>
<circle cx="164.9" cy="309.3" r="2.7" fill="#e4c9c8"/>
<circle cx="174.2" cy="308.9" r="2.7" fill="#e4c9c8"/>
<circle cx="164.8" cy="314.1" r="2.7" fill="#e4c9c8"/>
<circle cx="174.0" cy="314.8" r="2.7" fill="#e4c9c8"/>
<circle cx="164.1" cy="318.6" r="2.7" fill="#e4c9c8"/>
<circle cx="173.1" cy="320.6" r="2.7" fill="#e4c9c8"/>
<circle cx="162.8" cy="322.0" r="2.7" fill="#e4c9c8"/>
<circle cx="171.2" cy="326.0" r="2.7" fill="#e4c9c8"/>
<circle cx="160.5" cy="324.7" r="2.7" fill="#e4c9c8"/>
<circle cx="167.0" cy="331.4" r="2.7" fill="#e4c9c8"/>
<circle cx="157.2" cy="327.1" r="2.7" fill="#e4c9c8"/>
<circle cx="162.1" cy="335.0" r="2.7" fill="#e4c9c8"/>
<circle cx="153.3" cy="329.0" r="2.7" fill="#e4c9c8"/>
<circle cx="156.6" cy="337.7" r="2.7" fill="#e4c9c8"/>
<circle cx="149.3" cy="329.9" r="2.7" fill="#e4c9c8"/>
<circle cx="150.4" cy="339.1" r="2.7" fill="#e4c9c8"/>
<circle cx="146.6" cy="329.7" r="2.7" fill="#e4c9c8"/>
<circle cx="144.3" cy="338.7" r="2.7" fill="#e4c9c8"/>
<circle cx="143.3" cy="328.1" r="2.7" fill="#e4c9c8"/>
<circle cx="139.2" cy="336.4" r="2.7" fill="#e4c9c8"/>
<path d="M166.6 274.0C166.8 279.4 166.5 281.2 167.4 292.0C168.3 302.8 169.7 300.4 169.6 310.0C169.5 319.6 170.5 317.4 167.0 324.0C163.5 330.6 163.7 328.8 158.0 332.0C152.3 335.2 153.2 334.6 148.0 334.6C142.8 334.6 142.8 332.8 140.6 332.0" fill="none" stroke="#e4c9c8" stroke-width="10.1" stroke-linecap="round" stroke-linejoin="round"/>
<path d="M166.6 274.0C166.8 279.4 166.5 281.2 167.4 292.0C168.3 302.8 169.7 300.4 169.6 310.0C169.5 319.6 170.5 317.4 167.0 324.0C163.5 330.6 163.7 328.8 158.0 332.0C152.3 335.2 153.2 334.6 148.0 334.6C142.8 334.6 142.8 332.8 140.6 332.0" fill="none" stroke="#f0dfdd" stroke-width="4.6" stroke-linecap="round" stroke-linejoin="round"/>
<path d="M166.6 274.0C166.8 279.4 166.5 281.2 167.4 292.0C168.3 302.8 169.7 300.4 169.6 310.0C169.5 319.6 170.5 317.4 167.0 324.0C163.5 330.6 163.7 328.8 158.0 332.0C152.3 335.2 153.2 334.6 148.0 334.6C142.8 334.6 142.8 332.8 140.6 332.0" fill="none" stroke="#c9a9aa" stroke-width="0.4" stroke-dasharray="1.4 2.2" opacity="0.8"/>
<path d="M99.0 276.6C102.3 278.1 103.1 279.0 110.0 281.6C116.9 284.2 114.8 283.9 122.0 285.2C129.2 286.5 126.8 286.2 134.0 286.0C141.2 285.8 139.4 286.4 146.0 284.6C152.6 282.8 150.1 283.2 156.0 280.0C161.9 276.8 162.7 275.8 165.6 274.0" fill="none" stroke="#cfa8aa" stroke-width="12.0" stroke-linecap="round" stroke-linejoin="round"/>
<circle cx="102.0" cy="282.6" r="3.4" fill="#cfa8aa"/>
<circle cx="105.5" cy="275.1" r="3.4" fill="#cfa8aa"/>
<circle cx="106.3" cy="284.6" r="3.4" fill="#cfa8aa"/>
<circle cx="109.6" cy="277.0" r="3.4" fill="#cfa8aa"/>
<circle cx="111.5" cy="286.6" r="3.4" fill="#cfa8aa"/>
<circle cx="114.3" cy="278.8" r="3.4" fill="#cfa8aa"/>
<circle cx="116.8" cy="288.2" r="3.4" fill="#cfa8aa"/>
<circle cx="119.1" cy="280.3" r="3.4" fill="#cfa8aa"/>
<circle cx="122.3" cy="289.5" r="3.4" fill="#cfa8aa"/>
<circle cx="123.7" cy="281.3" r="3.4" fill="#cfa8aa"/>
<circle cx="127.7" cy="290.1" r="3.4" fill="#cfa8aa"/>
<circle cx="128.3" cy="281.8" r="3.4" fill="#cfa8aa"/>
<circle cx="133.0" cy="290.2" r="3.4" fill="#cfa8aa"/>
<circle cx="133.0" cy="281.9" r="3.4" fill="#cfa8aa"/>
<circle cx="138.3" cy="290.0" r="3.4" fill="#cfa8aa"/>
<circle cx="137.8" cy="281.7" r="3.4" fill="#cfa8aa"/>
<circle cx="143.8" cy="289.3" r="3.4" fill="#cfa8aa"/>
<circle cx="142.5" cy="281.1" r="3.4" fill="#cfa8aa"/>
<circle cx="149.3" cy="287.9" r="3.4" fill="#cfa8aa"/>
<circle cx="146.6" cy="280.1" r="3.4" fill="#cfa8aa"/>
<circle cx="154.4" cy="285.6" r="3.4" fill="#cfa8aa"/>
<circle cx="150.6" cy="278.2" r="3.4" fill="#cfa8aa"/>
<circle cx="158.9" cy="283.1" r="3.4" fill="#cfa8aa"/>
<circle cx="154.9" cy="275.9" r="3.4" fill="#cfa8aa"/>
<circle cx="163.2" cy="280.5" r="3.4" fill="#cfa8aa"/>
<circle cx="158.7" cy="273.5" r="3.4" fill="#cfa8aa"/>
<circle cx="167.4" cy="277.8" r="3.4" fill="#cfa8aa"/>
<circle cx="162.8" cy="270.8" r="3.4" fill="#cfa8aa"/>
<circle cx="102.0" cy="282.6" r="2.7" fill="#e4c9c8"/>
<circle cx="105.5" cy="275.1" r="2.7" fill="#e4c9c8"/>
<circle cx="106.3" cy="284.6" r="2.7" fill="#e4c9c8"/>
<circle cx="109.6" cy="277.0" r="2.7" fill="#e4c9c8"/>
<circle cx="111.5" cy="286.6" r="2.7" fill="#e4c9c8"/>
<circle cx="114.3" cy="278.8" r="2.7" fill="#e4c9c8"/>
<circle cx="116.8" cy="288.2" r="2.7" fill="#e4c9c8"/>
<circle cx="119.1" cy="280.3" r="2.7" fill="#e4c9c8"/>
<circle cx="122.3" cy="289.5" r="2.7" fill="#e4c9c8"/>
<circle cx="123.7" cy="281.3" r="2.7" fill="#e4c9c8"/>
<circle cx="127.7" cy="290.1" r="2.7" fill="#e4c9c8"/>
<circle cx="128.3" cy="281.8" r="2.7" fill="#e4c9c8"/>
<circle cx="133.0" cy="290.2" r="2.7" fill="#e4c9c8"/>
<circle cx="133.0" cy="281.9" r="2.7" fill="#e4c9c8"/>
<circle cx="138.3" cy="290.0" r="2.7" fill="#e4c9c8"/>
<circle cx="137.8" cy="281.7" r="2.7" fill="#e4c9c8"/>
<circle cx="143.8" cy="289.3" r="2.7" fill="#e4c9c8"/>
<circle cx="142.5" cy="281.1" r="2.7" fill="#e4c9c8"/>
<circle cx="149.3" cy="287.9" r="2.7" fill="#e4c9c8"/>
<circle cx="146.6" cy="280.1" r="2.7" fill="#e4c9c8"/>
<circle cx="154.4" cy="285.6" r="2.7" fill="#e4c9c8"/>
<circle cx="150.6" cy="278.2" r="2.7" fill="#e4c9c8"/>
<circle cx="158.9" cy="283.1" r="2.7" fill="#e4c9c8"/>
<circle cx="154.9" cy="275.9" r="2.7" fill="#e4c9c8"/>
<circle cx="163.2" cy="280.5" r="2.7" fill="#e4c9c8"/>
<circle cx="158.7" cy="273.5" r="2.7" fill="#e4c9c8"/>
<circle cx="167.4" cy="277.8" r="2.7" fill="#e4c9c8"/>
<circle cx="162.8" cy="270.8" r="2.7" fill="#e4c9c8"/>
<path d="M99.0 276.6C102.3 278.1 103.1 279.0 110.0 281.6C116.9 284.2 114.8 283.9 122.0 285.2C129.2 286.5 126.8 286.2 134.0 286.0C141.2 285.8 139.4 286.4 146.0 284.6C152.6 282.8 150.1 283.2 156.0 280.0C161.9 276.8 162.7 275.8 165.6 274.0" fill="none" stroke="#e4c9c8" stroke-width="9.4" stroke-linecap="round" stroke-linejoin="round"/>
<path d="M99.0 276.6C102.3 278.1 103.1 279.0 110.0 281.6C116.9 284.2 114.8 283.9 122.0 285.2C129.2 286.5 126.8 286.2 134.0 286.0C141.2 285.8 139.4 286.4 146.0 284.6C152.6 282.8 150.1 283.2 156.0 280.0C161.9 276.8 162.7 275.8 165.6 274.0" fill="none" stroke="#f0dfdd" stroke-width="4.3" stroke-linecap="round" stroke-linejoin="round"/>
<path d="M99.0 276.6C102.3 278.1 103.1 279.0 110.0 281.6C116.9 284.2 114.8 283.9 122.0 285.2C129.2 286.5 126.8 286.2 134.0 286.0C141.2 285.8 139.4 286.4 146.0 284.6C152.6 282.8 150.1 283.2 156.0 280.0C161.9 276.8 162.7 275.8 165.6 274.0" fill="none" stroke="#c9a9aa" stroke-width="0.4" stroke-dasharray="1.4 2.2" opacity="0.8"/>
<path d="M97.6 276.0C97.3 280.2 96.6 281.6 96.6 290.0C96.6 298.4 97.4 296.5 97.6 304.0C97.8 311.5 97.5 311.7 97.4 315.0" fill="none" stroke="#cfa8aa" stroke-width="16.0" stroke-linecap="round" stroke-linejoin="round"/>
<circle cx="91.0" cy="280.4" r="3.4" fill="#cfa8aa"/>
<circle cx="103.3" cy="281.6" r="3.4" fill="#cfa8aa"/>
<circle cx="90.6" cy="285.2" r="3.4" fill="#cfa8aa"/>
<circle cx="102.9" cy="286.0" r="3.4" fill="#cfa8aa"/>
<circle cx="90.5" cy="289.9" r="3.4" fill="#cfa8aa"/>
<circle cx="102.7" cy="290.1" r="3.4" fill="#cfa8aa"/>
<circle cx="90.7" cy="295.6" r="3.4" fill="#cfa8aa"/>
<circle cx="103.0" cy="294.6" r="3.4" fill="#cfa8aa"/>
<circle cx="91.2" cy="300.8" r="3.4" fill="#cfa8aa"/>
<circle cx="103.5" cy="299.6" r="3.4" fill="#cfa8aa"/>
<circle cx="91.5" cy="305.3" r="3.4" fill="#cfa8aa"/>
<circle cx="103.8" cy="305.0" r="3.4" fill="#cfa8aa"/>
<circle cx="91.4" cy="309.7" r="3.4" fill="#cfa8aa"/>
<circle cx="103.7" cy="310.0" r="3.4" fill="#cfa8aa"/>
<circle cx="91.3" cy="314.2" r="3.4" fill="#cfa8aa"/>
<circle cx="103.6" cy="314.6" r="3.4" fill="#cfa8aa"/>
<circle cx="91.0" cy="280.4" r="2.7" fill="#e4c9c8"/>
<circle cx="103.3" cy="281.6" r="2.7" fill="#e4c9c8"/>
<circle cx="90.6" cy="285.2" r="2.7" fill="#e4c9c8"/>
<circle cx="102.9" cy="286.0" r="2.7" fill="#e4c9c8"/>
<circle cx="90.5" cy="289.9" r="2.7" fill="#e4c9c8"/>
<circle cx="102.7" cy="290.1" r="2.7" fill="#e4c9c8"/>
<circle cx="90.7" cy="295.6" r="2.7" fill="#e4c9c8"/>
<circle cx="103.0" cy="294.6" r="2.7" fill="#e4c9c8"/>
<circle cx="91.2" cy="300.8" r="2.7" fill="#e4c9c8"/>
<circle cx="103.5" cy="299.6" r="2.7" fill="#e4c9c8"/>
<circle cx="91.5" cy="305.3" r="2.7" fill="#e4c9c8"/>
<circle cx="103.8" cy="305.0" r="2.7" fill="#e4c9c8"/>
<circle cx="91.4" cy="309.7" r="2.7" fill="#e4c9c8"/>
<circle cx="103.7" cy="310.0" r="2.7" fill="#e4c9c8"/>
<circle cx="91.3" cy="314.2" r="2.7" fill="#e4c9c8"/>
<circle cx="103.6" cy="314.6" r="2.7" fill="#e4c9c8"/>
<path d="M97.6 276.0C97.3 280.2 96.6 281.6 96.6 290.0C96.6 298.4 97.4 296.5 97.6 304.0C97.8 311.5 97.5 311.7 97.4 315.0" fill="none" stroke="#e4c9c8" stroke-width="12.2" stroke-linecap="round" stroke-linejoin="round"/>
<path d="M97.6 276.0C97.3 280.2 96.6 281.6 96.6 290.0C96.6 298.4 97.4 296.5 97.6 304.0C97.8 311.5 97.5 311.7 97.4 315.0" fill="none" stroke="#f0dfdd" stroke-width="5.6" stroke-linecap="round" stroke-linejoin="round"/>
<path d="M97.6 276.0C97.3 280.2 96.6 281.6 96.6 290.0C96.6 298.4 97.4 296.5 97.6 304.0C97.8 311.5 97.5 311.7 97.4 315.0" fill="none" stroke="#c9a9aa" stroke-width="0.4" stroke-dasharray="1.4 2.2" opacity="0.8"/>
<circle cx="97.6" cy="318.2" r="9.6" fill="#cfa8aa"/><circle cx="97.6" cy="317.6" r="7.4" fill="#e4c9c8"/>
<path d="M105 322.6C107.4 325.6 109 329 110 332" fill="none" stroke="#cf9fa2" stroke-width="2.6" stroke-linecap="round"/>
<circle cx="99.6" cy="319.6" r="3.7" fill="#c58f93" stroke="#a26c72" stroke-width="0.5"/><circle cx="99.8" cy="319.4" r="1.7" fill="#e6c4c4"/>
<circle cx="167.6" cy="318.6" r="4" fill="#b77d84" stroke="#96606a" stroke-width="0.5"/><circle cx="168" cy="318.6" r="1.8" fill="#e6c4c4"/>
<path d="M104 318C112 322 118 321 124 323M163 317C156 320 150 320 142 323" fill="none" stroke="#f0d5d0" stroke-width="0.7"/>
<path d="M121.6 324C125 321 129.6 320.4 132.6 321.2C135.6 320.4 140.6 321 144 324C144.4 329 142.6 334 141 338C139.4 342 138.4 346 138 350C137.6 353 137 355 136.4 356.6C137.2 358.6 137.8 360 136.8 361.4C134.8 362 133.6 360.6 132.8 359.6C132 360.6 130.8 362 128.8 361.4C127.8 360 128.6 358.6 129.4 356.6C128.4 353 127.6 350 126.4 346C125 342 123.4 338 122.4 334C121.6 330 121.4 327 121.6 324Z" fill="url(#gUt)" stroke="#b58a8c" stroke-width="0.4"/>
<path d="M128.6 324C128 332 127.6 340 130.6 350" fill="none" stroke="#b78d90" stroke-width="1.6" opacity="0.6"/>
<g><ellipse cx="97.2" cy="262.8" rx="6.6" ry="6.2" fill="#7d5240"/><ellipse cx="94.6" cy="270.6" rx="5.2" ry="5.6" fill="#a27868"/><ellipse cx="97.4" cy="276.4" rx="4.6" ry="4.4" fill="#b18a7c"/><ellipse cx="99.6" cy="269.6" rx="3.6" ry="5" fill="#8a5f4e"/><ellipse cx="96" cy="260.8" rx="3.4" ry="2.6" fill="#e9d9d0" opacity="0.75"/><ellipse cx="93.8" cy="269.4" rx="2.2" ry="2.2" fill="#ead9d2" opacity="0.6"/><ellipse cx="96.6" cy="275.8" rx="2" ry="1.8" fill="#efe1da" opacity="0.6"/></g>
<g><ellipse cx="168.4" cy="260.6" rx="7" ry="6.6" fill="#6f4128"/><ellipse cx="170.2" cy="268.6" rx="5.4" ry="6" fill="#7c4c33"/><ellipse cx="167.8" cy="274.2" rx="4.8" ry="4.6" fill="#86573f"/><ellipse cx="165.4" cy="267.6" rx="3.4" ry="5" fill="#744630"/><ellipse cx="167" cy="258.4" rx="3.4" ry="2.6" fill="#e3cfc4" opacity="0.7"/><ellipse cx="169.6" cy="267" rx="2.2" ry="2.2" fill="#d9c0b3" opacity="0.5"/><ellipse cx="167.4" cy="273.6" rx="1.9" ry="1.8" fill="#d9c0b3" opacity="0.5"/></g>
<path d="M101.6 268L106 266.6L109.6 265.6M106 266.6L109 268.4" fill="none" stroke="#a64fae" stroke-width="1.1"/><path d="M164 266.6L159 266L155.6 265M159 266L156 268" fill="none" stroke="#a64fae" stroke-width="1.1"/>
<text x="49.8" y="35.7" font-size="10.9" fill="#2b2b2b" text-anchor="start" >GBM</text>
<line x1="80" y1="31.9" x2="130.6" y2="38.3" stroke="#444" stroke-width="0.45"/>
<text x="188.7" y="61.3" font-size="10.9" fill="#2b2b2b" text-anchor="start" >UVM</text>
<line x1="165.8" y1="57" x2="185" y2="57.5" stroke="#444" stroke-width="0.45"/>
<text x="184.8" y="89.3" font-size="10.9" fill="#2b2b2b" text-anchor="start" >BCC</text>
<line x1="154.8" y1="83" x2="182" y2="85.7" stroke="#444" stroke-width="0.45"/>
<text x="169.6" y="111.5" font-size="10.9" fill="#2b2b2b" text-anchor="start" >THCA</text>
<line x1="133.6" y1="107.9" x2="165.8" y2="107.9" stroke="#444" stroke-width="0.45"/>
<text x="52.8" y="109.1" font-size="10.9" fill="#2b2b2b" text-anchor="start" >ESO</text>
<line x1="79" y1="106.9" x2="127.5" y2="123" stroke="#444" stroke-width="0.45"/>
<text x="10.5" y="132.7" font-size="10.9" fill="#2b2b2b" text-anchor="start" >SKCM</text>
<line x1="44.8" y1="129.6" x2="91.3" y2="136.6" stroke="#444" stroke-width="0.45"/>
<text x="185.1" y="158.8" font-size="10.9" fill="#2b2b2b" text-anchor="start" >LUAD</text>
<text x="185.1" y="171.3" font-size="10.9" fill="#2b2b2b" text-anchor="start" >LUSC</text>
<text x="185.1" y="184.0" font-size="10.9" fill="#2b2b2b" text-anchor="start" >SCLC</text>
<line x1="181.4" y1="170" x2="149" y2="175.6" stroke="#444" stroke-width="0.45"/>
<text x="8.3" y="186.5" font-size="10.9" fill="#2b2b2b" text-anchor="start" >BRCA</text>
<line x1="40" y1="183" x2="89.6" y2="188" stroke="#444" stroke-width="0.45"/>
<text x="15.5" y="230.1" font-size="10.9" fill="#2b2b2b" text-anchor="start" >LIHC</text>
<line x1="41" y1="226" x2="114.4" y2="227" stroke="#444" stroke-width="0.45"/>
<text x="188.1" y="231.9" font-size="10.9" fill="#2b2b2b" text-anchor="start" >PAAD</text>
<line x1="187.6" y1="230" x2="151.6" y2="238.4" stroke="#444" stroke-width="0.45"/>
<text x="193.3" y="256.5" font-size="10.9" fill="#2b2b2b" text-anchor="start" >ccRCC</text>
<line x1="192.7" y1="254" x2="174" y2="263.6" stroke="#444" stroke-width="0.45"/>
<text x="1.1" y="262.5" font-size="10.9" fill="#2b2b2b" text-anchor="start" >MYE</text>
<line x1="27.3" y1="257.8" x2="55.3" y2="250" stroke="#444" stroke-width="0.45"/>
<text x="0.4" y="309.5" font-size="10.9" fill="#2b2b2b" text-anchor="start" >CRC</text>
<line x1="25.6" y1="306.2" x2="95.5" y2="297.7" stroke="#444" stroke-width="0.45"/>
<text x="72.0" y="351.9" font-size="10.9" fill="#2b2b2b" text-anchor="start" >OV</text>
<line x1="81.9" y1="342" x2="100" y2="319.8" stroke="#444" stroke-width="0.45"/>
<text x="159.2" y="360.6" font-size="10.5" fill="#2b2b2b" text-anchor="start" >UCEC</text>
<line x1="156.9" y1="355" x2="138" y2="343.7" stroke="#444" stroke-width="0.45"/>
<text x="199.8" y="11.2" font-size="13" fill="#111" text-anchor="start" >b</text>
<path d="M227.3 7.1H595.3V3.7L604.8 9.9L595.3 16.1V12.6H227.3L235.4 9.85Z" fill="url(#gBanner)" stroke="#7c7c7c" stroke-width="0.55"/>
<path d="M331.6 7.1L334.6 9.85L331.6 12.6M336.4 7.1L333.6 9.85L336.4 12.6" fill="none" stroke="#8a8a8a" stroke-width="0.5"/>
<path d="M476.6 7.1L479.6 9.85L476.6 12.6M481.4 7.1L478.6 9.85L481.4 12.6" fill="none" stroke="#8a8a8a" stroke-width="0.5"/>
<text x="273.2" y="12.3" font-size="7.1" fill="#222" text-anchor="middle" >Curation</text>
<text x="405.5" y="12.3" font-size="7.1" fill="#222" text-anchor="middle" >Processing</text>
<text x="536.5" y="12.3" font-size="7.1" fill="#222" text-anchor="middle" >Analysis</text>
<path d="M227.5 65.2C227.5 35.1 248.4 14.2 278.4 14.2H278.40000000000003C308.4 14.2 329.3 35.1 329.3 65.2V210.39999999999998C329.3 242.5 310.5 261.4 278.40000000000003 261.4H278.4C246.3 261.4 227.5 242.5 227.5 210.39999999999998Z" fill="#fff" stroke="#111" stroke-width="1.3"/>
<path d="M333.5 70.89999999999999C333.5 32.4 349.9 15.1 386.5 15.1H423.4C460.0 15.1 476.4 32.4 476.4 70.89999999999999V214.39999999999998C476.4 242.0 455.8 262.4 427.9 262.4H382.0C354.1 262.4 333.5 242.0 333.5 214.39999999999998Z" fill="#fff" stroke="#111" stroke-width="1.3"/>
<path d="M479.2 69.8C479.2 38.5 499.8 15.8 528.2 15.8H546.2C574.6 15.8 595.2 38.5 595.2 69.8V220.7C595.2 243.6 569.2 262.2 537.2 262.2H537.2C505.2 262.2 479.2 243.6 479.2 220.7Z" fill="#fff" stroke="#111" stroke-width="1.3"/>
<path d="M248.4 36.1V102.4A30.1 6.9 0 0 0 308.6 102.4V36.1Z" fill="#4a4a4a"/>
<path d="M248.4 83.8V102.4A30.1 6.9 0 0 0 308.6 102.4V83.8A30.1 6.9 0 0 1 248.4 83.8Z" fill="url(#gCyl)" stroke="#5a5a5a" stroke-width="0.45"/>
<path d="M248.4 83.8A30.1 6.9 0 0 0 308.6 83.8" fill="none" stroke="#c9c9c9" stroke-width="0.6"/>
<path d="M248.4 61.3V81.5A30.1 6.9 0 0 0 308.6 81.5V61.3A30.1 6.9 0 0 1 248.4 61.3Z" fill="url(#gCyl)" stroke="#5a5a5a" stroke-width="0.45"/>
<path d="M248.4 61.3A30.1 6.9 0 0 0 308.6 61.3" fill="none" stroke="#c9c9c9" stroke-width="0.6"/>
<path d="M248.4 36.1V59.0A30.1 6.9 0 0 0 308.6 59.0V36.1A30.1 6.9 0 0 1 248.4 36.1Z" fill="url(#gCyl)" stroke="#5a5a5a" stroke-width="0.45"/>
<ellipse cx="278.5" cy="36.1" rx="30.1" ry="6.9" fill="#d0d0d0" stroke="#5a5a5a" stroke-width="0.5"/>
<text x="279.2" y="122.2" font-size="7.7" fill="#111" text-anchor="middle" >Curate scRNAseq</text>
<text x="279.2" y="131.5" font-size="7.7" fill="#111" text-anchor="middle" >/ metadata (GEO)</text>
<path d="M241.4 156.8V231.4H315.7" fill="none" stroke="#000" stroke-width="2.3"/>
<circle cx="257.7" cy="171.9" r="1.75" fill="#c9c9c9"/>
<circle cx="253.9" cy="179.1" r="1.75" fill="#c9c9c9"/>
<circle cx="260.4" cy="178.6" r="1.75" fill="#c9c9c9"/>
<circle cx="260.4" cy="190.4" r="1.75" fill="#c9c9c9"/>
<circle cx="270.6" cy="191.1" r="1.75" fill="#c9c9c9"/>
<circle cx="274.8" cy="197.2" r="1.75" fill="#c9c9c9"/>
<circle cx="289.7" cy="196.1" r="1.75" fill="#c9c9c9"/>
<circle cx="251.5" cy="200.8" r="1.75" fill="#c9c9c9"/>
<circle cx="268.8" cy="201.6" r="1.75" fill="#c9c9c9"/>
<circle cx="274.2" cy="204.5" r="1.75" fill="#c9c9c9"/>
<circle cx="278.4" cy="203.8" r="1.75" fill="#c9c9c9"/>
<circle cx="274.5" cy="208.4" r="1.75" fill="#c9c9c9"/>
<circle cx="288.7" cy="207.0" r="1.75" fill="#c9c9c9"/>
<circle cx="297.3" cy="206.2" r="1.75" fill="#c9c9c9"/>
<circle cx="261.6" cy="212.9" r="1.75" fill="#c9c9c9"/>
<circle cx="286.1" cy="214.9" r="1.75" fill="#c9c9c9"/>
<circle cx="275.7" cy="218.2" r="1.75" fill="#c9c9c9"/>
<circle cx="294.3" cy="216.3" r="1.75" fill="#c9c9c9"/>
<circle cx="300.1" cy="215.9" r="1.75" fill="#c9c9c9"/>
<circle cx="267.6" cy="170.9" r="1.8" fill="#1f55a6"/>
<circle cx="270.2" cy="175.2" r="1.8" fill="#1f55a6"/>
<circle cx="273.8" cy="174.2" r="1.8" fill="#1f55a6"/>
<circle cx="275.5" cy="167.3" r="1.8" fill="#1f55a6"/>
<circle cx="274.8" cy="170.6" r="1.8" fill="#1f55a6"/>
<circle cx="277.0" cy="172.4" r="1.8" fill="#1f55a6"/>
<circle cx="278.4" cy="170.2" r="1.8" fill="#1f55a6"/>
<circle cx="280.6" cy="165.6" r="1.8" fill="#1f55a6"/>
<circle cx="283.5" cy="165.6" r="1.8" fill="#1f55a6"/>
<circle cx="281.0" cy="168.7" r="1.8" fill="#1f55a6"/>
<circle cx="281.7" cy="172.4" r="1.8" fill="#1f55a6"/>
<circle cx="285.1" cy="170.9" r="1.8" fill="#1f55a6"/>
<circle cx="281.5" cy="176.0" r="1.8" fill="#1f55a6"/>
<circle cx="278.4" cy="179.3" r="1.8" fill="#1f55a6"/>
<circle cx="281.0" cy="179.8" r="1.8" fill="#1f55a6"/>
<circle cx="274.8" cy="182.0" r="1.8" fill="#1f55a6"/>
<circle cx="268.0" cy="184.3" r="1.8" fill="#1f55a6"/>
<circle cx="292.3" cy="188.4" r="1.8" fill="#1f55a6"/>
<circle cx="276.7" cy="169.5" r="1.8" fill="#1f55a6"/>
<circle cx="279.3" cy="173.1" r="1.8" fill="#1f55a6"/>
<circle cx="277.9" cy="173.8" r="1.8" fill="#1f55a6"/>
<text x="279.2" y="242.2" font-size="7.7" fill="#111" text-anchor="middle" >Macrophage</text>
<text x="279.2" y="251.4" font-size="7.7" fill="#111" text-anchor="middle" >extraction</text>
<text x="381.3" y="31.6" font-size="6.7" fill="#222" text-anchor="middle" >gene x cell</text>
<text x="381.3" y="39.3" font-size="6.7" fill="#222" text-anchor="middle" >matrices</text>
<text x="447.3" y="32.4" font-size="6.7" fill="#222" text-anchor="middle" >Atlas</text>
<text x="447.3" y="40.3" font-size="6.7" fill="#222" text-anchor="middle" >supermatrix</text>
<path d="M337.6 74.0H379.0V89.6H337.6Z" fill="#1c1c1c"/>
<path d="M379.0 74.0L400.9 42.2V57.800000000000004L379.0 89.6Z" fill="#262626"/>
<line x1="337.6" x2="379.0" y1="77.1" y2="77.1" stroke="#8a8a8a" stroke-width="0.45"/>
<line x1="379.0" x2="400.9" y1="77.1" y2="45.3" stroke="#777" stroke-width="0.4"/>
<line x1="337.6" x2="379.0" y1="80.2" y2="80.2" stroke="#8a8a8a" stroke-width="0.45"/>
<line x1="379.0" x2="400.9" y1="80.2" y2="48.4" stroke="#777" stroke-width="0.4"/>
<line x1="337.6" x2="379.0" y1="83.4" y2="83.4" stroke="#8a8a8a" stroke-width="0.45"/>
<line x1="379.0" x2="400.9" y1="83.4" y2="51.6" stroke="#777" stroke-width="0.4"/>
<line x1="337.6" x2="379.0" y1="86.5" y2="86.5" stroke="#8a8a8a" stroke-width="0.45"/>
<line x1="379.0" x2="400.9" y1="86.5" y2="54.7" stroke="#777" stroke-width="0.4"/>
<line x1="344.5" x2="344.5" y1="74.0" y2="89.6" stroke="#555" stroke-width="0.35"/>
<line x1="351.4" x2="351.4" y1="74.0" y2="89.6" stroke="#555" stroke-width="0.35"/>
<line x1="358.3" x2="358.3" y1="74.0" y2="89.6" stroke="#555" stroke-width="0.35"/>
<line x1="365.2" x2="365.2" y1="74.0" y2="89.6" stroke="#555" stroke-width="0.35"/>
<line x1="372.1" x2="372.1" y1="74.0" y2="89.6" stroke="#555" stroke-width="0.35"/>
<path d="M337.6 74.0L364.4 42.2H400.9L379.0 74.0Z" fill="#fff" stroke="#222" stroke-width="0.7"/>
<line x1="344.5" y1="74.0" x2="370.5" y2="42.2" stroke="#2a2a2a" stroke-width="1.0"/>
<line x1="351.4" y1="74.0" x2="376.6" y2="42.2" stroke="#2a2a2a" stroke-width="1.0"/>
<line x1="358.3" y1="74.0" x2="382.6" y2="42.2" stroke="#2a2a2a" stroke-width="1.0"/>
<line x1="365.2" y1="74.0" x2="388.7" y2="42.2" stroke="#2a2a2a" stroke-width="1.0"/>
<line x1="372.1" y1="74.0" x2="394.8" y2="42.2" stroke="#2a2a2a" stroke-width="1.0"/>
<line x1="342.1" y1="68.7" x2="382.6" y2="68.7" stroke="#2a2a2a" stroke-width="1.0"/>
<line x1="346.5" y1="63.4" x2="386.3" y2="63.4" stroke="#2a2a2a" stroke-width="1.0"/>
<line x1="351.0" y1="58.1" x2="389.9" y2="58.1" stroke="#2a2a2a" stroke-width="1.0"/>
<line x1="355.5" y1="52.8" x2="393.6" y2="52.8" stroke="#2a2a2a" stroke-width="1.0"/>
<line x1="359.9" y1="47.5" x2="397.2" y2="47.5" stroke="#2a2a2a" stroke-width="1.0"/>
<circle cx="367.7" cy="49.7" r="4.1" fill="#3b5fc0"/>
<circle cx="381.6" cy="55.4" r="4.1" fill="#5fb04a"/>
<circle cx="370.4" cy="60.1" r="4.1" fill="#e8443a"/>
<circle cx="349.1" cy="71.5" r="4.1" fill="#d4b9a0"/>
<path d="M397 59.4L418.2 70.2L397 81.6L402.6 70.2Z" fill="#000"/>
<rect x="395.4" y="68.2" width="8" height="4.4" fill="#000"/>
<rect x="421.9" y="44.8" width="49.60000000000002" height="43.0" fill="#fff" stroke="#222" stroke-width="1.4"/>
<line x1="430.2" x2="430.2" y1="44.8" y2="87.8" stroke="#333" stroke-width="1.15"/>
<line x1="421.9" x2="471.5" y1="52.0" y2="52.0" stroke="#333" stroke-width="1.15"/>
<line x1="438.4" x2="438.4" y1="44.8" y2="87.8" stroke="#333" stroke-width="1.15"/>
<line x1="421.9" x2="471.5" y1="59.1" y2="59.1" stroke="#333" stroke-width="1.15"/>
<line x1="446.7" x2="446.7" y1="44.8" y2="87.8" stroke="#333" stroke-width="1.15"/>
<line x1="421.9" x2="471.5" y1="66.3" y2="66.3" stroke="#333" stroke-width="1.15"/>
<line x1="455.0" x2="455.0" y1="44.8" y2="87.8" stroke="#333" stroke-width="1.15"/>
<line x1="421.9" x2="471.5" y1="73.5" y2="73.5" stroke="#333" stroke-width="1.15"/>
<line x1="463.2" x2="463.2" y1="44.8" y2="87.8" stroke="#333" stroke-width="1.15"/>
<line x1="421.9" x2="471.5" y1="80.6" y2="80.6" stroke="#333" stroke-width="1.15"/>
<text x="404.3" y="103.8" font-size="7.7" fill="#2e2e2e" text-anchor="middle" >SCT normalisation</text>
<text x="404.3" y="113.1" font-size="7.7" fill="#2e2e2e" text-anchor="middle" >Integration method benchmarking</text>
<text x="404.3" y="122.4" font-size="7.7" fill="#2e2e2e" text-anchor="middle" >Anchor identification</text>
<text x="405.5" y="131.7" font-size="7.7" fill="#2e2e2e" text-anchor="middle" >Integration with Seurat RPCA</text>
<line x1="353.5" y1="179.3" x2="374.3" y2="190.8" stroke="#8c8c8c" stroke-width="0.9" stroke-dasharray="2.6 2"/>
<line x1="399.7" y1="213.1" x2="422.3" y2="208.4" stroke="#8c8c8c" stroke-width="0.9" stroke-dasharray="2.6 2"/>
<line x1="422.3" y1="208.4" x2="448.7" y2="199.1" stroke="#8c8c8c" stroke-width="0.9" stroke-dasharray="2.6 2"/>
<circle cx="353.5" cy="179.3" r="7.8" fill="#222"/>
<circle cx="374.3" cy="190.8" r="7.8" fill="#222"/>
<circle cx="386" cy="175.9" r="7.8" fill="#222"/>
<circle cx="356.6" cy="202.2" r="7.8" fill="#222"/>
<circle cx="415.5" cy="165.3" r="7.8" fill="#222"/>
<circle cx="432.2" cy="163.5" r="7.8" fill="#222"/>
<circle cx="425.4" cy="172.8" r="7.8" fill="#222"/>
<circle cx="399.7" cy="213.1" r="7.8" fill="#222"/>
<circle cx="422.3" cy="208.4" r="7.8" fill="#222"/>
<circle cx="448.7" cy="199.1" r="7.8" fill="#222"/>
<circle cx="433.8" cy="224" r="7.8" fill="#222"/>
<text x="404.0" y="244.4" font-size="7.7" fill="#333" text-anchor="middle" >Graph-based</text>
<text x="404.0" y="253.7" font-size="7.7" fill="#333" text-anchor="middle" >community clustering</text>
<path d="M509.5 21.9V77.7H565.5" fill="none" stroke="#000" stroke-width="2.5"/>
<g fill="#000"><circle cx="520.2" cy="35.9" r="1.75"/><circle cx="521.8" cy="37.5" r="1.75"/><circle cx="520.7" cy="39.2" r="1.75"/><circle cx="522.9" cy="39.2" r="1.75"/><circle cx="524.5" cy="38.6" r="1.75"/><circle cx="521.3" cy="41.3" r="1.75"/><circle cx="523.5" cy="41.3" r="1.75"/><circle cx="525.6" cy="41.3" r="1.75"/><circle cx="522.4" cy="43.0" r="1.75"/><circle cx="525.1" cy="43.2" r="1.75"/><circle cx="519.7" cy="37.5" r="1.75"/><circle cx="539.7" cy="41.3" r="1.75"/><circle cx="541.4" cy="40.8" r="1.75"/><circle cx="539.2" cy="43.5" r="1.75"/><circle cx="541.4" cy="43.5" r="1.75"/><circle cx="537.6" cy="45.7" r="1.75"/><circle cx="539.7" cy="45.7" r="1.75"/><circle cx="541.9" cy="45.1" r="1.75"/><circle cx="543.5" cy="44.6" r="1.75"/><circle cx="545.7" cy="42.4" r="1.75"/><circle cx="546.2" cy="44.6" r="1.75"/><circle cx="537.0" cy="47.8" r="1.75"/><circle cx="539.2" cy="47.8" r="1.75"/><circle cx="541.4" cy="47.3" r="1.75"/><circle cx="543.5" cy="47.3" r="1.75"/><circle cx="545.2" cy="46.8" r="1.75"/><circle cx="536.5" cy="50.0" r="1.75"/><circle cx="538.6" cy="50.0" r="1.75"/><circle cx="541.9" cy="49.5" r="1.75"/><circle cx="544.1" cy="50.0" r="1.75"/><circle cx="546.2" cy="50.6" r="1.75"/><circle cx="548.4" cy="50.6" r="1.75"/><circle cx="537.0" cy="52.7" r="1.75"/><circle cx="532.1" cy="46.8" r="1.75"/><circle cx="533.2" cy="48.4" r="1.75"/><circle cx="550.0" cy="39.7" r="1.75"/><circle cx="552.2" cy="40.2" r="1.75"/><circle cx="549.0" cy="38.6" r="1.75"/><circle cx="522.4" cy="59.8" r="1.75"/><circle cx="522.9" cy="62.0" r="1.75"/><circle cx="525.1" cy="62.5" r="1.75"/><circle cx="527.8" cy="61.4" r="1.75"/><circle cx="530.0" cy="60.9" r="1.75"/><circle cx="531.6" cy="59.8" r="1.75"/><circle cx="532.1" cy="58.2" r="1.75"/><circle cx="529.4" cy="62.5" r="1.75"/><circle cx="522.9" cy="64.7" r="1.75"/><circle cx="524.0" cy="66.3" r="1.75"/><circle cx="522.4" cy="67.9" r="1.75"/><circle cx="524.5" cy="69.0" r="1.75"/><circle cx="522.9" cy="70.1" r="1.75"/><circle cx="525.1" cy="70.1" r="1.75"/><circle cx="530.5" cy="59.2" r="1.75"/></g><g fill="#c8202f"><circle cx="533.8" cy="30.5" r="1.75"/><circle cx="535.9" cy="28.9" r="1.75"/><circle cx="538.1" cy="28.3" r="1.75"/><circle cx="540.3" cy="27.8" r="1.75"/><circle cx="541.9" cy="26.1" r="1.75"/><circle cx="534.3" cy="32.7" r="1.75"/><circle cx="537.0" cy="31.6" r="1.75"/><circle cx="539.2" cy="31.0" r="1.75"/><circle cx="541.4" cy="30.5" r="1.75"/><circle cx="543.5" cy="29.9" r="1.75"/><circle cx="545.7" cy="29.4" r="1.75"/><circle cx="547.3" cy="28.9" r="1.75"/><circle cx="537.6" cy="34.3" r="1.75"/><circle cx="539.7" cy="33.7" r="1.75"/><circle cx="542.4" cy="33.2" r="1.75"/><circle cx="544.6" cy="32.7" r="1.75"/><circle cx="546.8" cy="31.6" r="1.75"/><circle cx="537.0" cy="38.1" r="1.75"/><circle cx="539.2" cy="36.5" r="1.75"/><circle cx="541.4" cy="35.9" r="1.75"/><circle cx="543.5" cy="34.8" r="1.75"/><circle cx="546.8" cy="35.9" r="1.75"/><circle cx="546.2" cy="38.1" r="1.75"/><circle cx="549.0" cy="37.0" r="1.75"/><circle cx="527.8" cy="37.0" r="1.75"/><circle cx="557.1" cy="38.6" r="1.75"/><circle cx="558.7" cy="37.0" r="1.75"/><circle cx="540.8" cy="29.4" r="1.75"/><circle cx="543.0" cy="31.6" r="1.75"/></g><g fill="#f2e21d"><circle cx="523.5" cy="49.5" r="1.75"/><circle cx="525.6" cy="48.9" r="1.75"/><circle cx="527.8" cy="49.5" r="1.75"/><circle cx="530.0" cy="50.0" r="1.75"/><circle cx="524.5" cy="51.6" r="1.75"/><circle cx="526.7" cy="51.6" r="1.75"/><circle cx="528.9" cy="51.6" r="1.75"/><circle cx="531.0" cy="51.1" r="1.75"/><circle cx="533.2" cy="50.6" r="1.75"/><circle cx="534.3" cy="48.9" r="1.75"/><circle cx="525.6" cy="53.8" r="1.75"/><circle cx="527.8" cy="53.8" r="1.75"/><circle cx="530.0" cy="53.3" r="1.75"/><circle cx="532.1" cy="52.7" r="1.75"/><circle cx="526.2" cy="56.0" r="1.75"/><circle cx="528.3" cy="55.4" r="1.75"/><circle cx="526.7" cy="57.6" r="1.75"/></g><g fill="#1f55a6"><circle cx="541.4" cy="53.8" r="1.75"/><circle cx="543.0" cy="55.4" r="1.75"/><circle cx="541.9" cy="56.5" r="1.75"/><circle cx="544.6" cy="55.4" r="1.75"/><circle cx="546.8" cy="56.0" r="1.75"/><circle cx="549.0" cy="55.4" r="1.75"/><circle cx="551.1" cy="54.9" r="1.75"/><circle cx="545.2" cy="57.6" r="1.75"/><circle cx="547.3" cy="57.6" r="1.75"/><circle cx="549.5" cy="57.1" r="1.75"/><circle cx="546.2" cy="59.8" r="1.75"/><circle cx="548.4" cy="59.8" r="1.75"/><circle cx="550.6" cy="59.2" r="1.75"/><circle cx="547.9" cy="61.4" r="1.75"/><circle cx="550.0" cy="61.4" r="1.75"/><circle cx="552.2" cy="60.9" r="1.75"/><circle cx="551.7" cy="63.0" r="1.75"/><circle cx="552.8" cy="62.5" r="1.75"/><circle cx="558.2" cy="64.5" r="1.75"/><circle cx="562.5" cy="64.7" r="1.75"/><circle cx="563.6" cy="62.5" r="1.75"/><circle cx="564.1" cy="61.4" r="1.75"/></g>
<text x="537.0" y="91.2" font-size="7.7" fill="#111" text-anchor="middle" >Low-dimensional visual</text>
<text x="537.0" y="100.2" font-size="7.7" fill="#111" text-anchor="middle" >representation (UMAP)</text>
<rect x="519.0" y="108.8" width="4.05" height="4.05" fill="#f0a58f"/>
<rect x="523.0" y="108.8" width="4.05" height="4.05" fill="#f0a58f"/>
<rect x="527.0" y="108.8" width="4.05" height="4.05" fill="#a397c9"/>
<rect x="531.0" y="108.8" width="4.05" height="4.05" fill="#2f4fa8"/>
<rect x="535.0" y="108.8" width="4.05" height="4.05" fill="#ebe4f0"/>
<rect x="539.0" y="108.8" width="4.05" height="4.05" fill="#f7d5c9"/>
<rect x="543.0" y="108.8" width="4.05" height="4.05" fill="#f7d5c9"/>
<rect x="547.0" y="108.8" width="4.05" height="4.05" fill="#f7d5c9"/>
<rect x="551.0" y="108.8" width="4.05" height="4.05" fill="#8378b8"/>
<rect x="555.0" y="108.8" width="4.05" height="4.05" fill="#fcf4f0"/>
<rect x="519.0" y="112.8" width="4.05" height="4.05" fill="#a397c9"/>
<rect x="523.0" y="112.8" width="4.05" height="4.05" fill="#f7d5c9"/>
<rect x="527.0" y="112.8" width="4.05" height="4.05" fill="#fcf4f0"/>
<rect x="531.0" y="112.8" width="4.05" height="4.05" fill="#ebe4f0"/>
<rect x="535.0" y="112.8" width="4.05" height="4.05" fill="#8378b8"/>
<rect x="539.0" y="112.8" width="4.05" height="4.05" fill="#f7d5c9"/>
<rect x="543.0" y="112.8" width="4.05" height="4.05" fill="#a397c9"/>
<rect x="547.0" y="112.8" width="4.05" height="4.05" fill="#f7d5c9"/>
<rect x="551.0" y="112.8" width="4.05" height="4.05" fill="#ffffff"/>
<rect x="555.0" y="112.8" width="4.05" height="4.05" fill="#a397c9"/>
<rect x="519.0" y="116.8" width="4.05" height="4.05" fill="#8378b8"/>
<rect x="523.0" y="116.8" width="4.05" height="4.05" fill="#f0a58f"/>
<rect x="527.0" y="116.8" width="4.05" height="4.05" fill="#ebe4f0"/>
<rect x="531.0" y="116.8" width="4.05" height="4.05" fill="#f0a58f"/>
<rect x="535.0" y="116.8" width="4.05" height="4.05" fill="#c9bddc"/>
<rect x="539.0" y="116.8" width="4.05" height="4.05" fill="#f7d5c9"/>
<rect x="543.0" y="116.8" width="4.05" height="4.05" fill="#e8212b"/>
<rect x="547.0" y="116.8" width="4.05" height="4.05" fill="#f0a58f"/>
<rect x="551.0" y="116.8" width="4.05" height="4.05" fill="#c9bddc"/>
<rect x="555.0" y="116.8" width="4.05" height="4.05" fill="#ffffff"/>
<rect x="519.0" y="120.8" width="4.05" height="4.05" fill="#8378b8"/>
<rect x="523.0" y="120.8" width="4.05" height="4.05" fill="#ebe4f0"/>
<rect x="527.0" y="120.8" width="4.05" height="4.05" fill="#a397c9"/>
<rect x="531.0" y="120.8" width="4.05" height="4.05" fill="#f7d5c9"/>
<rect x="535.0" y="120.8" width="4.05" height="4.05" fill="#f0a58f"/>
<rect x="539.0" y="120.8" width="4.05" height="4.05" fill="#ebe4f0"/>
<rect x="543.0" y="120.8" width="4.05" height="4.05" fill="#a397c9"/>
<rect x="547.0" y="120.8" width="4.05" height="4.05" fill="#f0a58f"/>
<rect x="551.0" y="120.8" width="4.05" height="4.05" fill="#2f4fa8"/>
<rect x="555.0" y="120.8" width="4.05" height="4.05" fill="#e8705a"/>
<rect x="519.0" y="124.8" width="4.05" height="4.05" fill="#ebe4f0"/>
<rect x="523.0" y="124.8" width="4.05" height="4.05" fill="#a397c9"/>
<rect x="527.0" y="124.8" width="4.05" height="4.05" fill="#f7d5c9"/>
<rect x="531.0" y="124.8" width="4.05" height="4.05" fill="#e8705a"/>
<rect x="535.0" y="124.8" width="4.05" height="4.05" fill="#ebe4f0"/>
<rect x="539.0" y="124.8" width="4.05" height="4.05" fill="#ebe4f0"/>
<rect x="543.0" y="124.8" width="4.05" height="4.05" fill="#c9bddc"/>
<rect x="547.0" y="124.8" width="4.05" height="4.05" fill="#ebe4f0"/>
<rect x="551.0" y="124.8" width="4.05" height="4.05" fill="#f0a58f"/>
<rect x="555.0" y="124.8" width="4.05" height="4.05" fill="#f7d5c9"/>
<rect x="519.0" y="128.8" width="4.05" height="4.05" fill="#fcf4f0"/>
<rect x="523.0" y="128.8" width="4.05" height="4.05" fill="#ebe4f0"/>
<rect x="527.0" y="128.8" width="4.05" height="4.05" fill="#f7d5c9"/>
<rect x="531.0" y="128.8" width="4.05" height="4.05" fill="#f7d5c9"/>
<rect x="535.0" y="128.8" width="4.05" height="4.05" fill="#f0a58f"/>
<rect x="539.0" y="128.8" width="4.05" height="4.05" fill="#c9bddc"/>
<rect x="543.0" y="128.8" width="4.05" height="4.05" fill="#c9bddc"/>
<rect x="547.0" y="128.8" width="4.05" height="4.05" fill="#c9bddc"/>
<rect x="551.0" y="128.8" width="4.05" height="4.05" fill="#ebe4f0"/>
<rect x="555.0" y="128.8" width="4.05" height="4.05" fill="#ebe4f0"/>
<rect x="519.0" y="132.8" width="4.05" height="4.05" fill="#f0a58f"/>
<rect x="523.0" y="132.8" width="4.05" height="4.05" fill="#ebe4f0"/>
<rect x="527.0" y="132.8" width="4.05" height="4.05" fill="#ebe4f0"/>
<rect x="531.0" y="132.8" width="4.05" height="4.05" fill="#f0a58f"/>
<rect x="535.0" y="132.8" width="4.05" height="4.05" fill="#c9bddc"/>
<rect x="539.0" y="132.8" width="4.05" height="4.05" fill="#f0a58f"/>
<rect x="543.0" y="132.8" width="4.05" height="4.05" fill="#ebe4f0"/>
<rect x="547.0" y="132.8" width="4.05" height="4.05" fill="#f7d5c9"/>
<rect x="551.0" y="132.8" width="4.05" height="4.05" fill="#ffffff"/>
<rect x="555.0" y="132.8" width="4.05" height="4.05" fill="#ebe4f0"/>
<rect x="519.0" y="136.8" width="4.05" height="4.05" fill="#5559a8"/>
<rect x="523.0" y="136.8" width="4.05" height="4.05" fill="#ebe4f0"/>
<rect x="527.0" y="136.8" width="4.05" height="4.05" fill="#c9bddc"/>
<rect x="531.0" y="136.8" width="4.05" height="4.05" fill="#c9bddc"/>
<rect x="535.0" y="136.8" width="4.05" height="4.05" fill="#fcf4f0"/>
<rect x="539.0" y="136.8" width="4.05" height="4.05" fill="#f0a58f"/>
<rect x="543.0" y="136.8" width="4.05" height="4.05" fill="#fcf4f0"/>
<rect x="547.0" y="136.8" width="4.05" height="4.05" fill="#f7d5c9"/>
<rect x="551.0" y="136.8" width="4.05" height="4.05" fill="#f7d5c9"/>
<rect x="555.0" y="136.8" width="4.05" height="4.05" fill="#f0a58f"/>
<rect x="519.0" y="140.8" width="4.05" height="4.05" fill="#ebe4f0"/>
<rect x="523.0" y="140.8" width="4.05" height="4.05" fill="#c9bddc"/>
<rect x="527.0" y="140.8" width="4.05" height="4.05" fill="#f7d5c9"/>
<rect x="531.0" y="140.8" width="4.05" height="4.05" fill="#f7d5c9"/>
<rect x="535.0" y="140.8" width="4.05" height="4.05" fill="#f7d5c9"/>
<rect x="539.0" y="140.8" width="4.05" height="4.05" fill="#8378b8"/>
<rect x="543.0" y="140.8" width="4.05" height="4.05" fill="#c9bddc"/>
<rect x="547.0" y="140.8" width="4.05" height="4.05" fill="#f0a58f"/>
<rect x="551.0" y="140.8" width="4.05" height="4.05" fill="#8378b8"/>
<rect x="555.0" y="140.8" width="4.05" height="4.05" fill="#e8705a"/>
<rect x="519.0" y="144.8" width="4.05" height="4.05" fill="#f7d5c9"/>
<rect x="523.0" y="144.8" width="4.05" height="4.05" fill="#c9bddc"/>
<rect x="527.0" y="144.8" width="4.05" height="4.05" fill="#f7d5c9"/>
<rect x="531.0" y="144.8" width="4.05" height="4.05" fill="#ebe4f0"/>
<rect x="535.0" y="144.8" width="4.05" height="4.05" fill="#e8705a"/>
<rect x="539.0" y="144.8" width="4.05" height="4.05" fill="#e8705a"/>
<rect x="543.0" y="144.8" width="4.05" height="4.05" fill="#f7d5c9"/>
<rect x="547.0" y="144.8" width="4.05" height="4.05" fill="#c9bddc"/>
<rect x="551.0" y="144.8" width="4.05" height="4.05" fill="#ebe4f0"/>
<rect x="555.0" y="144.8" width="4.05" height="4.05" fill="#ebe4f0"/>
<text x="537.0" y="161.6" font-size="7.7" fill="#111" text-anchor="middle" >Differential</text>
<text x="537.0" y="170.9" font-size="7.7" fill="#111" text-anchor="middle" >expression testing</text>
<circle cx="536.3" cy="196.7" r="20.4" fill="#f3f3f3" stroke="#c3c6ca" stroke-width="1.1"/>
<line x1="537.2" y1="190.8" x2="539.5" y2="176.6" stroke="#c3c6ca" stroke-width="0.9"/>
<line x1="539.0" y1="191.4" x2="545.6" y2="178.5" stroke="#c3c6ca" stroke-width="0.9"/>
<line x1="540.5" y1="192.5" x2="550.7" y2="182.3" stroke="#c3c6ca" stroke-width="0.9"/>
<line x1="541.6" y1="194.0" x2="554.5" y2="187.4" stroke="#c3c6ca" stroke-width="0.9"/>
<line x1="542.2" y1="195.8" x2="556.4" y2="193.5" stroke="#c3c6ca" stroke-width="0.9"/>
<line x1="542.2" y1="197.6" x2="556.4" y2="199.9" stroke="#c3c6ca" stroke-width="0.9"/>
<line x1="541.6" y1="199.4" x2="554.5" y2="206.0" stroke="#c3c6ca" stroke-width="0.9"/>
<line x1="540.5" y1="200.9" x2="550.7" y2="211.1" stroke="#c3c6ca" stroke-width="0.9"/>
<line x1="539.0" y1="202.0" x2="545.6" y2="214.9" stroke="#c3c6ca" stroke-width="0.9"/>
<line x1="537.2" y1="202.6" x2="539.5" y2="216.8" stroke="#c3c6ca" stroke-width="0.9"/>
<line x1="535.4" y1="202.6" x2="533.1" y2="216.8" stroke="#c3c6ca" stroke-width="0.9"/>
<line x1="533.6" y1="202.0" x2="527.0" y2="214.9" stroke="#c3c6ca" stroke-width="0.9"/>
<line x1="532.1" y1="200.9" x2="521.9" y2="211.1" stroke="#c3c6ca" stroke-width="0.9"/>
<line x1="531.0" y1="199.4" x2="518.1" y2="206.0" stroke="#c3c6ca" stroke-width="0.9"/>
<line x1="530.4" y1="197.6" x2="516.2" y2="199.9" stroke="#c3c6ca" stroke-width="0.9"/>
<line x1="530.4" y1="195.8" x2="516.2" y2="193.5" stroke="#c3c6ca" stroke-width="0.9"/>
<line x1="531.0" y1="194.0" x2="518.1" y2="187.4" stroke="#c3c6ca" stroke-width="0.9"/>
<line x1="532.1" y1="192.5" x2="521.9" y2="182.3" stroke="#c3c6ca" stroke-width="0.9"/>
<line x1="533.6" y1="191.4" x2="527.0" y2="178.5" stroke="#c3c6ca" stroke-width="0.9"/>
<line x1="535.4" y1="190.8" x2="533.1" y2="176.6" stroke="#c3c6ca" stroke-width="0.9"/>
<path d="M522.3 180.5 L531.8 180.7 L528.8 192.4 L525.7 193.4Z" fill="#e4525c" stroke="#e4525c" stroke-width="1.4" stroke-linejoin="round"/>
<path d="M524.0 182.9 L533.4 183.9 L531.4 192.7 L527.4 192.4Z" fill="#f5b02e" stroke="#f5b02e" stroke-width="1" stroke-linejoin="round"/>
<path d="M530.7 195.2 L518.6 208.1" fill="none" stroke="#e4525c" stroke-width="2.2" stroke-linecap="round"/>
<path d="M526.7 206.5 L534.4 203.1 L534.4 211.5Z" fill="#f5b02e" stroke="#f5b02e" stroke-width="1" stroke-linejoin="round"/>
<path d="M539.1 196.4 L542.9 177.7 L551.2 181.3Z" fill="#fff" stroke="#f5b02e" stroke-width="3.2" stroke-linejoin="round"/>
<path d="M541.3 203.1 L545.5 209.5" fill="none" stroke="#f5b02e" stroke-width="2.8" stroke-linecap="round"/>
<circle cx="544.8" cy="207.1" r="0.7" fill="#e4525c"/>
<path d="M540.3 196.4 L557.0 186.9 L557.8 194.2Z" fill="#fff" stroke="#7dbb6b" stroke-width="3.5" stroke-linejoin="round"/>
<path d="M536.5 196.4 L536.9 181.3" fill="none" stroke="#0f7480" stroke-width="3.6" stroke-linecap="round"/>
<path d="M538.3 199.2 L553.2 199.8" fill="none" stroke="#0f7480" stroke-width="3.6" stroke-linecap="round"/>
<path d="M529.2 189.2 L528.4 198.7 L522.1 206.5 L531.4 213.5 L536.9 219.0 L537.5 203.3" fill="none" stroke="#0f7480" stroke-width="3.8" stroke-linecap="round" stroke-linejoin="round"/>
<path d="M525.2 191.7 L531.4 195.2 L538.3 192.4" fill="none" stroke="#7dbb6b" stroke-width="2.6" stroke-linecap="round" stroke-linejoin="round"/>
<circle cx="529.2" cy="192.4" r="1.9" fill="#8cc47a" stroke="#6fae60" stroke-width="0.9"/>
<circle cx="532.4" cy="190.7" r="1.9" fill="#8cc47a" stroke="#6fae60" stroke-width="0.9"/>
<circle cx="535.2" cy="192.4" r="1.9" fill="#8cc47a" stroke="#6fae60" stroke-width="0.9"/>
<circle cx="531.4" cy="195.2" r="1.9" fill="#8cc47a" stroke="#6fae60" stroke-width="0.9"/>
<circle cx="534.4" cy="196.4" r="1.9" fill="#8cc47a" stroke="#6fae60" stroke-width="0.9"/>
<circle cx="537.5" cy="194.7" r="1.9" fill="#8cc47a" stroke="#6fae60" stroke-width="0.9"/>
<circle cx="533.2" cy="199.4" r="1.9" fill="#8cc47a" stroke="#6fae60" stroke-width="0.9"/>
<circle cx="536.5" cy="200.2" r="1.9" fill="#8cc47a" stroke="#6fae60" stroke-width="0.9"/>
<circle cx="539.8" cy="202.1" r="1.9" fill="#8cc47a" stroke="#6fae60" stroke-width="0.9"/>
<circle cx="538.3" cy="197.7" r="1.9" fill="#8cc47a" stroke="#6fae60" stroke-width="0.9"/>
<circle cx="540.5" cy="196.4" r="1.9" fill="#8cc47a" stroke="#6fae60" stroke-width="0.9"/>
<circle cx="530.2" cy="197.7" r="1.9" fill="#8cc47a" stroke="#6fae60" stroke-width="0.9"/>
<text x="537.0" y="233.4" font-size="7.7" fill="#111" text-anchor="middle" >Pathway analysis</text>
<text x="537.0" y="242.7" font-size="7.7" fill="#111" text-anchor="middle" >and detailed cluster</text>
<text x="537.0" y="251.8" font-size="7.7" fill="#111" text-anchor="middle" >characterization</text>
<path d="M602.4 89.4L644.4 126.6L602.4 164.2Z" fill="url(#gTri)"/>
<text x="624.4" y="125.2" font-size="6.7" fill="#111" text-anchor="middle" >Downstream</text>
<text x="624.4" y="133.0" font-size="6.7" fill="#111" text-anchor="middle" >analysis</text>
<text x="229.0" y="286.0" font-size="13" fill="#111" text-anchor="start" >c</text>
<text x="411.6" y="286.0" font-size="13" fill="#111" text-anchor="start" >d</text>
<path d="M289.3 350.0L289.30 286.80A63.2 63.2 0 1 1 226.53 342.63Z" fill="#EA967D" stroke="#111" stroke-width="1.25" stroke-linejoin="round"/>
<path d="M289.3 350.0L226.53 342.63A63.2 63.2 0 0 1 279.41 287.58Z" fill="#3C5488" stroke="#111" stroke-width="1.25" stroke-linejoin="round"/>
<path d="M289.3 350.0L279.41 287.58A63.2 63.2 0 0 1 285.55 286.91Z" fill="#0A9B85" stroke="#111" stroke-width="1.25" stroke-linejoin="round"/>
<path d="M289.3 350.0L285.55 286.91A63.2 63.2 0 0 1 288.42 286.81Z" fill="#17B3D3" stroke="#111" stroke-width="1.25" stroke-linejoin="round"/>
<path d="M289.3 350.0L288.42 286.81A63.2 63.2 0 0 1 289.30 286.80Z" fill="#E64B35" stroke="#111" stroke-width="1.25" stroke-linejoin="round"/>
<text x="259.4" y="331.4" font-size="12.0" fill="#111" text-anchor="middle" >74982</text>
<text x="316.8" y="376.7" font-size="12.0" fill="#111" text-anchor="middle" >279104</text>
<text x="357.0" y="313.7" font-size="11.4" fill="#111" text-anchor="start" >Tissue</text>
<rect x="356.6" y="319.60" width="12.2" height="12.85" fill="#E64B35" stroke="#111" stroke-width="1.0"/>
<text x="373.6" y="328.2" font-size="9.8" fill="#111" text-anchor="start" >Blood</text>
<rect x="356.6" y="332.45" width="12.2" height="12.85" fill="#17B3D3" stroke="#111" stroke-width="1.0"/>
<text x="373.6" y="341.1" font-size="9.8" fill="#111" text-anchor="start" >Effusion</text>
<rect x="356.6" y="345.30" width="12.2" height="12.85" fill="#0A9B85" stroke="#111" stroke-width="1.0"/>
<text x="373.6" y="354.1" font-size="9.8" fill="#111" text-anchor="start" >Lymph node</text>
<rect x="356.6" y="358.15" width="12.2" height="12.85" fill="#3C5488" stroke="#111" stroke-width="1.0"/>
<text x="373.6" y="367.0" font-size="9.8" fill="#111" text-anchor="start" >Normal</text>
<rect x="356.6" y="371.00" width="12.2" height="12.85" fill="#EA967D" stroke="#111" stroke-width="1.0"/>
<text x="373.6" y="380.0" font-size="9.8" fill="#111" text-anchor="start" >Tumor</text>
<path d="M498.3 349.9L498.30 286.70A63.2 63.2 0 0 1 527.84 294.03Z" fill="#0A9B85" stroke="#111" stroke-width="1.25" stroke-linejoin="round"/>
<path d="M498.3 349.9L527.84 294.03A63.2 63.2 0 0 1 561.32 354.72Z" fill="#17B3D3" stroke="#111" stroke-width="1.25" stroke-linejoin="round"/>
<path d="M498.3 349.9L561.32 354.72A63.2 63.2 0 1 1 498.30 286.70Z" fill="#E64B35" stroke="#111" stroke-width="1.25" stroke-linejoin="round"/>
<text x="475.3" y="376.0" font-size="11.8" fill="#111" text-anchor="middle" >205937</text>
<text x="534.5" y="339.2" font-size="11.8" fill="#111" text-anchor="middle" >51562</text>
<text transform="translate(515.2,310) rotate(-62)" font-size="11.8" fill="#111" text-anchor="middle">21605</text>
<text x="568.3" y="323.2" font-size="12.0" fill="#111" text-anchor="start" >Primary / Met</text>
<rect x="568.6" y="330.70" width="17.6" height="18.55" fill="#E64B35" stroke="#111" stroke-width="1.1"/>
<text x="592.8" y="343.2" font-size="9.8" fill="#111" text-anchor="start" >Primary</text>
<rect x="568.6" y="349.25" width="17.6" height="18.55" fill="#17B3D3" stroke="#111" stroke-width="1.1"/>
<text x="592.8" y="361.8" font-size="9.8" fill="#111" text-anchor="start" >Metastasis</text>
<rect x="568.6" y="367.80" width="17.6" height="18.55" fill="#0A9B85" stroke="#111" stroke-width="1.1"/>
<text x="592.8" y="380.4" font-size="9.8" fill="#111" text-anchor="start" >nNA</text>
<text x="2.2" y="420.1" font-size="13" fill="#111" text-anchor="start" >e</text>
<path d="M62.0 422.6V606.6H209" fill="none" stroke="#333" stroke-width="1.25"/>
<line x1="58.9" x2="62.0" y1="598.4" y2="598.4" stroke="#333" stroke-width="0.9"/>
<text x="56.3" y="601.9" font-size="9.8" fill="#4d4d4d" text-anchor="end" >0</text>
<line x1="58.9" x2="62.0" y1="538.6" y2="538.6" stroke="#333" stroke-width="0.9"/>
<text x="56.3" y="542.1" font-size="9.8" fill="#4d4d4d" text-anchor="end" >50000</text>
<line x1="58.9" x2="62.0" y1="478.9" y2="478.9" stroke="#333" stroke-width="0.9"/>
<text x="56.3" y="482.4" font-size="9.8" fill="#4d4d4d" text-anchor="end" >100000</text>
<text transform="translate(17.7,514.6) rotate(-90)" font-size="12.3" fill="#111" text-anchor="middle">Number of cells</text>
<text x="135.9" y="646.0" font-size="12.3" fill="#111" text-anchor="middle" >Cancer type</text>
<rect x="62.80" y="430.10" width="7.63" height="3.60" fill="#17B3D3" opacity="1"/>
<rect x="62.80" y="433.70" width="7.63" height="5.00" fill="#0A9B85" opacity="1"/>
<rect x="62.80" y="438.70" width="7.63" height="72.30" fill="#3C5488" opacity="1"/>
<rect x="62.80" y="511.00" width="7.63" height="87.40" fill="#EA967D" opacity="1"/>
<line x1="66.77" x2="66.77" y1="606.6" y2="609.2" stroke="#333" stroke-width="0.9"/>
<text transform="translate(68.87,614.0) rotate(-45)" font-size="5.6" fill="#4d4d4d" text-anchor="end">LUNG</text>
<rect x="70.96" y="550.20" width="7.63" height="0.40" fill="#E64B35" opacity="1"/>
<rect x="70.96" y="550.60" width="7.63" height="2.40" fill="#0A9B85" opacity="1"/>
<rect x="70.96" y="553.00" width="7.63" height="5.00" fill="#3C5488" opacity="1"/>
<rect x="70.96" y="558.00" width="7.63" height="40.40" fill="#EA967D" opacity="1"/>
<line x1="74.93" x2="74.93" y1="606.6" y2="609.2" stroke="#333" stroke-width="0.9"/>
<text transform="translate(77.03,614.0) rotate(-45)" font-size="5.6" fill="#4d4d4d" text-anchor="end">ccRCC</text>
<rect x="79.13" y="553.40" width="7.63" height="45.00" fill="#EA967D" opacity="1"/>
<line x1="83.09" x2="83.09" y1="606.6" y2="609.2" stroke="#333" stroke-width="0.9"/>
<text transform="translate(85.19,614.0) rotate(-45)" font-size="5.6" fill="#4d4d4d" text-anchor="end">GBM</text>
<rect x="87.29" y="556.20" width="7.63" height="2.60" fill="#3C5488" opacity="1"/>
<rect x="87.29" y="558.80" width="7.63" height="39.60" fill="#EA967D" opacity="1"/>
<line x1="91.25" x2="91.25" y1="606.6" y2="609.2" stroke="#333" stroke-width="0.9"/>
<text transform="translate(93.35,614.0) rotate(-45)" font-size="5.6" fill="#4d4d4d" text-anchor="end">CRC</text>
<rect x="95.45" y="565.10" width="7.63" height="33.30" fill="#EA967D" opacity="1"/>
<line x1="99.42" x2="99.42" y1="606.6" y2="609.2" stroke="#333" stroke-width="0.9"/>
<text transform="translate(101.52,614.0) rotate(-45)" font-size="5.6" fill="#4d4d4d" text-anchor="end">BC</text>
<rect x="103.61" y="575.40" width="7.63" height="23.00" fill="#EA967D" opacity="1"/>
<line x1="107.58" x2="107.58" y1="606.6" y2="609.2" stroke="#333" stroke-width="0.9"/>
<text transform="translate(109.68,614.0) rotate(-45)" font-size="5.6" fill="#4d4d4d" text-anchor="end">MEL</text>
<rect x="111.78" y="583.80" width="7.63" height="3.60" fill="#3C5488" opacity="1"/>
<rect x="111.78" y="587.40" width="7.63" height="11.00" fill="#EA967D" opacity="1"/>
<line x1="115.74" x2="115.74" y1="606.6" y2="609.2" stroke="#333" stroke-width="0.9"/>
<text transform="translate(117.84,614.0) rotate(-45)" font-size="5.6" fill="#4d4d4d" text-anchor="end">ESCA</text>
<rect x="119.94" y="585.80" width="7.63" height="0.80" fill="#3C5488" opacity="1"/>
<rect x="119.94" y="586.60" width="7.63" height="11.80" fill="#EA967D" opacity="1"/>
<line x1="123.91" x2="123.91" y1="606.6" y2="609.2" stroke="#333" stroke-width="0.9"/>
<text transform="translate(126.01,614.0) rotate(-45)" font-size="5.6" fill="#4d4d4d" text-anchor="end">THCA</text>
<rect x="128.10" y="587.70" width="7.63" height="1.30" fill="#3C5488" opacity="1"/>
<rect x="128.10" y="589.00" width="7.63" height="9.40" fill="#EA967D" opacity="1"/>
<line x1="132.07" x2="132.07" y1="606.6" y2="609.2" stroke="#333" stroke-width="0.9"/>
<text transform="translate(134.17,614.0) rotate(-45)" font-size="5.6" fill="#4d4d4d" text-anchor="end">OV</text>
<rect x="136.27" y="588.00" width="7.63" height="2.50" fill="#3C5488" opacity="1"/>
<rect x="136.27" y="590.50" width="7.63" height="7.90" fill="#EA967D" opacity="1"/>
<line x1="140.23" x2="140.23" y1="606.6" y2="609.2" stroke="#333" stroke-width="0.9"/>
<text transform="translate(142.33,614.0) rotate(-45)" font-size="5.6" fill="#4d4d4d" text-anchor="end">RCC</text>
<rect x="144.43" y="589.40" width="7.63" height="9.00" fill="#EA967D" opacity="1"/>
<line x1="148.39" x2="148.39" y1="606.6" y2="609.2" stroke="#333" stroke-width="0.9"/>
<text transform="translate(150.49,614.0) rotate(-45)" font-size="5.6" fill="#4d4d4d" text-anchor="end">HGSOC</text>
<rect x="152.59" y="592.70" width="7.63" height="5.70" fill="#EA967D" opacity="1"/>
<line x1="156.56" x2="156.56" y1="606.6" y2="609.2" stroke="#333" stroke-width="0.9"/>
<text transform="translate(158.66,614.0) rotate(-45)" font-size="5.6" fill="#4d4d4d" text-anchor="end">LIHC</text>
<rect x="160.75" y="592.70" width="7.63" height="2.00" fill="#3C5488" opacity="1"/>
<rect x="160.75" y="594.70" width="7.63" height="3.70" fill="#EA967D" opacity="1"/>
<line x1="164.72" x2="164.72" y1="606.6" y2="609.2" stroke="#333" stroke-width="0.9"/>
<text transform="translate(166.82,614.0) rotate(-45)" font-size="5.6" fill="#4d4d4d" text-anchor="end">UCEC</text>
<rect x="168.92" y="594.40" width="7.63" height="4.00" fill="#EA967D" opacity="1"/>
<line x1="172.88" x2="172.88" y1="606.6" y2="609.2" stroke="#333" stroke-width="0.9"/>
<text transform="translate(174.98,614.0) rotate(-45)" font-size="5.6" fill="#4d4d4d" text-anchor="end">SKIN_BCC</text>
<rect x="177.08" y="596.40" width="7.63" height="2.00" fill="#EA967D" opacity="1"/>
<line x1="181.05" x2="181.05" y1="606.6" y2="609.2" stroke="#333" stroke-width="0.9"/>
<text transform="translate(183.15,614.0) rotate(-45)" font-size="5.6" fill="#4d4d4d" text-anchor="end">PAAD</text>
<rect x="185.24" y="596.70" width="7.63" height="1.70" fill="#EA967D" opacity="1"/>
<line x1="189.21" x2="189.21" y1="606.6" y2="609.2" stroke="#333" stroke-width="0.9"/>
<text transform="translate(191.31,614.0) rotate(-45)" font-size="5.6" fill="#4d4d4d" text-anchor="end">MYE</text>
<rect x="193.40" y="597.70" width="7.63" height="0.70" fill="#EA967D" opacity="0.45"/>
<line x1="197.37" x2="197.37" y1="606.6" y2="609.2" stroke="#333" stroke-width="0.9"/>
<text transform="translate(199.47,614.0) rotate(-45)" font-size="5.6" fill="#4d4d4d" text-anchor="end">LYM</text>
<rect x="201.57" y="597.80" width="7.63" height="0.60" fill="#0A9B85" opacity="0.4"/>
<line x1="205.53" x2="205.53" y1="606.6" y2="609.2" stroke="#333" stroke-width="0.9"/>
<text transform="translate(207.63,614.0) rotate(-45)" font-size="5.6" fill="#4d4d4d" text-anchor="end">pRCC</text>
<path d="M257.5 422.6V606.6H421.2" fill="none" stroke="#333" stroke-width="1.25"/>
<line x1="254.4" x2="257.5" y1="598.6" y2="598.6" stroke="#333" stroke-width="0.9"/>
<text x="251.8" y="602.1" font-size="9.8" fill="#4d4d4d" text-anchor="end" >0</text>
<line x1="254.4" x2="257.5" y1="537.2" y2="537.2" stroke="#333" stroke-width="0.9"/>
<text x="251.8" y="540.7" font-size="9.8" fill="#4d4d4d" text-anchor="end" >100</text>
<line x1="254.4" x2="257.5" y1="475.9" y2="475.9" stroke="#333" stroke-width="0.9"/>
<text x="251.8" y="479.4" font-size="9.8" fill="#4d4d4d" text-anchor="end" >200</text>
<text transform="translate(230,514.6) rotate(-90)" font-size="12.3" fill="#111" text-anchor="middle">Number of samples</text>
<text x="339.4" y="646.0" font-size="12.3" fill="#111" text-anchor="middle" >Cancer type</text>
<rect x="257.90" y="430.00" width="8.50" height="4.80" fill="#17B3D3" opacity="1"/>
<rect x="257.90" y="434.80" width="8.50" height="4.40" fill="#0A9B85" opacity="1"/>
<rect x="257.90" y="439.20" width="8.50" height="38.70" fill="#3C5488" opacity="1"/>
<rect x="257.90" y="477.90" width="8.50" height="120.70" fill="#EA967D" opacity="1"/>
<line x1="262.05" x2="262.05" y1="606.6" y2="609.2" stroke="#333" stroke-width="0.9"/>
<text transform="translate(264.15,614.0) rotate(-45)" font-size="5.6" fill="#4d4d4d" text-anchor="end">LUNG</text>
<rect x="266.99" y="506.70" width="8.50" height="26.30" fill="#3C5488" opacity="1"/>
<rect x="266.99" y="533.00" width="8.50" height="65.60" fill="#EA967D" opacity="1"/>
<line x1="271.15" x2="271.15" y1="606.6" y2="609.2" stroke="#333" stroke-width="0.9"/>
<text transform="translate(273.25,614.0) rotate(-45)" font-size="5.6" fill="#4d4d4d" text-anchor="end">CRC</text>
<rect x="276.09" y="535.10" width="8.50" height="63.50" fill="#EA967D" opacity="1"/>
<line x1="280.24" x2="280.24" y1="606.6" y2="609.2" stroke="#333" stroke-width="0.9"/>
<text transform="translate(282.34,614.0) rotate(-45)" font-size="5.6" fill="#4d4d4d" text-anchor="end">MEL</text>
<rect x="285.18" y="543.90" width="8.50" height="1.30" fill="#E64B35" opacity="1"/>
<rect x="285.18" y="545.20" width="8.50" height="2.40" fill="#3C5488" opacity="1"/>
<rect x="285.18" y="547.60" width="8.50" height="51.00" fill="#EA967D" opacity="1"/>
<line x1="289.33" x2="289.33" y1="606.6" y2="609.2" stroke="#333" stroke-width="0.9"/>
<text transform="translate(291.43,614.0) rotate(-45)" font-size="5.6" fill="#4d4d4d" text-anchor="end">BC</text>
<rect x="294.28" y="550.10" width="8.50" height="4.70" fill="#3C5488" opacity="1"/>
<rect x="294.28" y="554.80" width="8.50" height="43.80" fill="#EA967D" opacity="1"/>
<line x1="298.43" x2="298.43" y1="606.6" y2="609.2" stroke="#333" stroke-width="0.9"/>
<text transform="translate(300.53,614.0) rotate(-45)" font-size="5.6" fill="#4d4d4d" text-anchor="end">ESCA</text>
<rect x="303.37" y="555.20" width="8.50" height="3.70" fill="#E64B35" opacity="1"/>
<rect x="303.37" y="558.90" width="8.50" height="1.40" fill="#0A9B85" opacity="1"/>
<rect x="303.37" y="560.30" width="8.50" height="12.80" fill="#3C5488" opacity="1"/>
<rect x="303.37" y="573.10" width="8.50" height="25.50" fill="#EA967D" opacity="1"/>
<line x1="307.52" x2="307.52" y1="606.6" y2="609.2" stroke="#333" stroke-width="0.9"/>
<text transform="translate(309.62,614.0) rotate(-45)" font-size="5.6" fill="#4d4d4d" text-anchor="end">ccRCC</text>
<rect x="312.46" y="569.80" width="8.50" height="28.80" fill="#EA967D" opacity="1"/>
<line x1="316.62" x2="316.62" y1="606.6" y2="609.2" stroke="#333" stroke-width="0.9"/>
<text transform="translate(318.72,614.0) rotate(-45)" font-size="5.6" fill="#4d4d4d" text-anchor="end">LIHC</text>
<rect x="321.56" y="581.50" width="8.50" height="5.10" fill="#3C5488" opacity="1"/>
<rect x="321.56" y="586.60" width="8.50" height="12.00" fill="#EA967D" opacity="1"/>
<line x1="325.71" x2="325.71" y1="606.6" y2="609.2" stroke="#333" stroke-width="0.9"/>
<text transform="translate(327.81,614.0) rotate(-45)" font-size="5.6" fill="#4d4d4d" text-anchor="end">THCA</text>
<rect x="330.65" y="584.80" width="8.50" height="13.80" fill="#EA967D" opacity="1"/>
<line x1="334.80" x2="334.80" y1="606.6" y2="609.2" stroke="#333" stroke-width="0.9"/>
<text transform="translate(336.90,614.0) rotate(-45)" font-size="5.6" fill="#4d4d4d" text-anchor="end">HGSOC</text>
<rect x="339.75" y="587.70" width="8.50" height="5.10" fill="#3C5488" opacity="1"/>
<rect x="339.75" y="592.80" width="8.50" height="5.80" fill="#EA967D" opacity="1"/>
<line x1="343.90" x2="343.90" y1="606.6" y2="609.2" stroke="#333" stroke-width="0.9"/>
<text transform="translate(346.00,614.0) rotate(-45)" font-size="5.6" fill="#4d4d4d" text-anchor="end">UCEC</text>
<rect x="348.84" y="591.00" width="8.50" height="7.60" fill="#EA967D" opacity="1"/>
<line x1="352.99" x2="352.99" y1="606.6" y2="609.2" stroke="#333" stroke-width="0.9"/>
<text transform="translate(355.09,614.0) rotate(-45)" font-size="5.6" fill="#4d4d4d" text-anchor="end">GBM</text>
<rect x="357.93" y="590.60" width="8.50" height="3.30" fill="#3C5488" opacity="1"/>
<rect x="357.93" y="593.90" width="8.50" height="4.70" fill="#EA967D" opacity="1"/>
<line x1="362.08" x2="362.08" y1="606.6" y2="609.2" stroke="#333" stroke-width="0.9"/>
<text transform="translate(364.18,614.0) rotate(-45)" font-size="5.6" fill="#4d4d4d" text-anchor="end">RCC</text>
<rect x="367.03" y="591.70" width="8.50" height="1.90" fill="#3C5488" opacity="1"/>
<rect x="367.03" y="593.60" width="8.50" height="5.00" fill="#EA967D" opacity="1"/>
<line x1="371.18" x2="371.18" y1="606.6" y2="609.2" stroke="#333" stroke-width="0.9"/>
<text transform="translate(373.28,614.0) rotate(-45)" font-size="5.6" fill="#4d4d4d" text-anchor="end">OV</text>
<rect x="376.12" y="591.70" width="8.50" height="6.90" fill="#EA967D" opacity="1"/>
<line x1="380.27" x2="380.27" y1="606.6" y2="609.2" stroke="#333" stroke-width="0.9"/>
<text transform="translate(382.37,614.0) rotate(-45)" font-size="5.6" fill="#4d4d4d" text-anchor="end">SKIN_BCC</text>
<rect x="385.22" y="592.80" width="8.50" height="1.40" fill="#3C5488" opacity="1"/>
<rect x="385.22" y="594.20" width="8.50" height="4.40" fill="#EA967D" opacity="1"/>
<line x1="389.37" x2="389.37" y1="606.6" y2="609.2" stroke="#333" stroke-width="0.9"/>
<text transform="translate(391.47,614.0) rotate(-45)" font-size="5.6" fill="#4d4d4d" text-anchor="end">PAAD</text>
<rect x="394.31" y="593.50" width="8.50" height="1.80" fill="#E64B35" opacity="1"/>
<rect x="394.31" y="595.30" width="8.50" height="3.30" fill="#EA967D" opacity="1"/>
<line x1="398.46" x2="398.46" y1="606.6" y2="609.2" stroke="#333" stroke-width="0.9"/>
<text transform="translate(400.56,614.0) rotate(-45)" font-size="5.6" fill="#4d4d4d" text-anchor="end">MYE</text>
<rect x="403.40" y="596.10" width="8.50" height="2.50" fill="#EA967D" opacity="1"/>
<line x1="407.55" x2="407.55" y1="606.6" y2="609.2" stroke="#333" stroke-width="0.9"/>
<text transform="translate(409.65,614.0) rotate(-45)" font-size="5.6" fill="#4d4d4d" text-anchor="end">LYM</text>
<rect x="412.50" y="597.20" width="8.50" height="1.40" fill="#0A9B85" opacity="0.4"/>
<line x1="416.65" x2="416.65" y1="606.6" y2="609.2" stroke="#333" stroke-width="0.9"/>
<text transform="translate(418.75,614.0) rotate(-45)" font-size="5.6" fill="#4d4d4d" text-anchor="end">pRCC</text>
<path d="M468.7 422.6V606.6H632" fill="none" stroke="#333" stroke-width="1.25"/>
<line x1="465.59999999999997" x2="468.7" y1="598.6" y2="598.6" stroke="#333" stroke-width="0.9"/>
<text x="463.0" y="602.1" font-size="9.8" fill="#4d4d4d" text-anchor="end" >0</text>
<line x1="465.59999999999997" x2="468.7" y1="558.2" y2="558.2" stroke="#333" stroke-width="0.9"/>
<text x="463.0" y="561.7" font-size="9.8" fill="#4d4d4d" text-anchor="end" >50</text>
<line x1="465.59999999999997" x2="468.7" y1="518.0" y2="518.0" stroke="#333" stroke-width="0.9"/>
<text x="463.0" y="521.5" font-size="9.8" fill="#4d4d4d" text-anchor="end" >100</text>
<line x1="465.59999999999997" x2="468.7" y1="477.8" y2="477.8" stroke="#333" stroke-width="0.9"/>
<text x="463.0" y="481.3" font-size="9.8" fill="#4d4d4d" text-anchor="end" >150</text>
<line x1="465.59999999999997" x2="468.7" y1="437.4" y2="437.4" stroke="#333" stroke-width="0.9"/>
<text x="463.0" y="440.9" font-size="9.8" fill="#4d4d4d" text-anchor="end" >200</text>
<text transform="translate(441.5,514.6) rotate(-90)" font-size="12.3" fill="#111" text-anchor="middle">Number of patients</text>
<text x="550.9" y="646.0" font-size="12.3" fill="#111" text-anchor="middle" >Cancer type</text>
<rect x="469.50" y="430.15" width="8.48" height="168.45" fill="#595959" opacity="1"/>
<line x1="474.54" x2="474.54" y1="606.6" y2="609.2" stroke="#333" stroke-width="0.9"/>
<text transform="translate(476.64,614.0) rotate(-45)" font-size="5.6" fill="#4d4d4d" text-anchor="end">LUNG</text>
<rect x="478.57" y="518.81" width="8.48" height="79.79" fill="#595959" opacity="1"/>
<line x1="483.61" x2="483.61" y1="606.6" y2="609.2" stroke="#333" stroke-width="0.9"/>
<text transform="translate(485.71,614.0) rotate(-45)" font-size="5.6" fill="#4d4d4d" text-anchor="end">CRC</text>
<rect x="487.64" y="530.09" width="8.48" height="68.51" fill="#595959" opacity="1"/>
<line x1="492.68" x2="492.68" y1="606.6" y2="609.2" stroke="#333" stroke-width="0.9"/>
<text transform="translate(494.78,614.0) rotate(-45)" font-size="5.6" fill="#4d4d4d" text-anchor="end">MEL</text>
<rect x="496.71" y="541.37" width="8.48" height="57.23" fill="#595959" opacity="1"/>
<line x1="501.76" x2="501.76" y1="606.6" y2="609.2" stroke="#333" stroke-width="0.9"/>
<text transform="translate(503.86,614.0) rotate(-45)" font-size="5.6" fill="#4d4d4d" text-anchor="end">ESCA</text>
<rect x="505.79" y="542.99" width="8.48" height="55.61" fill="#595959" opacity="1"/>
<line x1="510.83" x2="510.83" y1="606.6" y2="609.2" stroke="#333" stroke-width="0.9"/>
<text transform="translate(512.93,614.0) rotate(-45)" font-size="5.6" fill="#4d4d4d" text-anchor="end">BC</text>
<rect x="514.86" y="575.23" width="8.48" height="23.37" fill="#595959" opacity="1"/>
<line x1="519.90" x2="519.90" y1="606.6" y2="609.2" stroke="#333" stroke-width="0.9"/>
<text transform="translate(522.00,614.0) rotate(-45)" font-size="5.6" fill="#4d4d4d" text-anchor="end">ccRCC</text>
<rect x="523.93" y="582.48" width="8.48" height="16.12" fill="#595959" opacity="1"/>
<line x1="528.97" x2="528.97" y1="606.6" y2="609.2" stroke="#333" stroke-width="0.9"/>
<text transform="translate(531.07,614.0) rotate(-45)" font-size="5.6" fill="#4d4d4d" text-anchor="end">LIHC</text>
<rect x="533.00" y="583.29" width="8.48" height="15.31" fill="#595959" opacity="1"/>
<line x1="538.04" x2="538.04" y1="606.6" y2="609.2" stroke="#333" stroke-width="0.9"/>
<text transform="translate(540.14,614.0) rotate(-45)" font-size="5.6" fill="#4d4d4d" text-anchor="end">THCA</text>
<rect x="542.07" y="588.93" width="8.48" height="9.67" fill="#595959" opacity="1"/>
<line x1="547.11" x2="547.11" y1="606.6" y2="609.2" stroke="#333" stroke-width="0.9"/>
<text transform="translate(549.21,614.0) rotate(-45)" font-size="5.6" fill="#4d4d4d" text-anchor="end">GBM</text>
<rect x="551.14" y="588.93" width="8.48" height="9.67" fill="#595959" opacity="1"/>
<line x1="556.19" x2="556.19" y1="606.6" y2="609.2" stroke="#333" stroke-width="0.9"/>
<text transform="translate(558.29,614.0) rotate(-45)" font-size="5.6" fill="#4d4d4d" text-anchor="end">HGSOC</text>
<rect x="560.22" y="590.54" width="8.48" height="8.06" fill="#595959" opacity="1"/>
<line x1="565.26" x2="565.26" y1="606.6" y2="609.2" stroke="#333" stroke-width="0.9"/>
<text transform="translate(567.36,614.0) rotate(-45)" font-size="5.6" fill="#4d4d4d" text-anchor="end">SKIN_BCC</text>
<rect x="569.29" y="591.35" width="8.48" height="7.25" fill="#595959" opacity="1"/>
<line x1="574.33" x2="574.33" y1="606.6" y2="609.2" stroke="#333" stroke-width="0.9"/>
<text transform="translate(576.43,614.0) rotate(-45)" font-size="5.6" fill="#4d4d4d" text-anchor="end">UCEC</text>
<rect x="578.36" y="592.96" width="8.48" height="5.64" fill="#595959" opacity="1"/>
<line x1="583.40" x2="583.40" y1="606.6" y2="609.2" stroke="#333" stroke-width="0.9"/>
<text transform="translate(585.50,614.0) rotate(-45)" font-size="5.6" fill="#4d4d4d" text-anchor="end">OV</text>
<rect x="587.43" y="593.76" width="8.48" height="4.84" fill="#595959" opacity="1"/>
<line x1="592.47" x2="592.47" y1="606.6" y2="609.2" stroke="#333" stroke-width="0.9"/>
<text transform="translate(594.57,614.0) rotate(-45)" font-size="5.6" fill="#4d4d4d" text-anchor="end">PAAD</text>
<rect x="596.50" y="593.76" width="8.48" height="4.84" fill="#595959" opacity="1"/>
<line x1="601.54" x2="601.54" y1="606.6" y2="609.2" stroke="#333" stroke-width="0.9"/>
<text transform="translate(603.64,614.0) rotate(-45)" font-size="5.6" fill="#4d4d4d" text-anchor="end">RCC</text>
<rect x="605.57" y="595.38" width="8.48" height="3.22" fill="#595959" opacity="1"/>
<line x1="610.62" x2="610.62" y1="606.6" y2="609.2" stroke="#333" stroke-width="0.9"/>
<text transform="translate(612.72,614.0) rotate(-45)" font-size="5.6" fill="#4d4d4d" text-anchor="end">MYE</text>
<rect x="614.65" y="596.18" width="8.48" height="2.42" fill="#595959" opacity="1"/>
<line x1="619.69" x2="619.69" y1="606.6" y2="609.2" stroke="#333" stroke-width="0.9"/>
<text transform="translate(621.79,614.0) rotate(-45)" font-size="5.6" fill="#4d4d4d" text-anchor="end">LYM</text>
<rect x="623.72" y="597.79" width="8.48" height="0.81" fill="#595959" opacity="0.45"/>
<line x1="628.76" x2="628.76" y1="606.6" y2="609.2" stroke="#333" stroke-width="0.9"/>
<text transform="translate(630.86,614.0) rotate(-45)" font-size="5.6" fill="#4d4d4d" text-anchor="end">pRCC</text>
<text x="143.8" y="673.9" font-size="12.2" fill="#111" text-anchor="start" >tissue</text>
<rect x="181.9" y="660.7" width="17.7" height="17.3" fill="#E64B35"/>
<text x="206.4" y="673.0" font-size="9.8" fill="#111" text-anchor="start" >Blood</text>
<rect x="238.6" y="660.7" width="17.7" height="17.3" fill="#17B3D3"/>
<text x="263.1" y="673.0" font-size="9.8" fill="#111" text-anchor="start" >Effusion</text>
<rect x="305.3" y="660.7" width="17.7" height="17.3" fill="#0A9B85"/>
<text x="329.8" y="673.0" font-size="9.8" fill="#111" text-anchor="start" >LymphNode</text>
<rect x="390.1" y="660.7" width="17.7" height="17.3" fill="#3C5488"/>
<text x="414.6" y="673.0" font-size="9.8" fill="#111" text-anchor="start" >Normal</text>
<rect x="453.2" y="660.7" width="17.7" height="17.3" fill="#EA967D"/>
<text x="477.7" y="673.0" font-size="9.8" fill="#111" text-anchor="start" >Tumor</text>
</svg></body></html>
